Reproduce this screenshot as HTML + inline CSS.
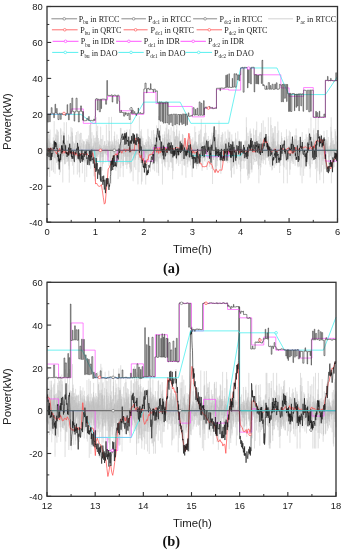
<!DOCTYPE html>
<html><head><meta charset="utf-8"><style>
html,body{margin:0;padding:0;background:#fff;width:343px;height:550px;overflow:hidden}
svg{display:block}
.tl{font-family:"Liberation Sans",Arial,sans-serif;font-size:9.4px;fill:#1a1a1a}
.xl{font-family:"Liberation Sans",Arial,sans-serif;font-size:11.4px;fill:#1a1a1a}
.yl{font-family:"Liberation Sans",Arial,sans-serif;font-size:11.5px;fill:#222}
.pl{font-family:"Liberation Serif","Times New Roman",serif;font-size:14.4px;font-weight:bold;fill:#111}
.lg{font-family:"Liberation Serif","Times New Roman",serif;font-size:8.1px;fill:#1a1a1a}
.sb{font-size:5.1px}
</style></head><body>
<svg width="343" height="550" viewBox="0 0 343 550">
<rect width="343" height="550" fill="#fff"/>
<polyline points="47,151.85 47.1,153.92 47.19,142.75 47.29,150.61 47.39,149.52 47.48,175.82 47.58,149.82 47.68,151.57 47.77,148.33 47.87,155.04 47.97,147.97 48.07,144.81 48.16,157.15 48.26,151.17 48.36,140.39 48.45,159.43 48.55,131.92 48.65,170.16 48.74,138.59 48.84,141.29 48.94,146.74 49.03,154.04 49.13,145.97 49.23,156.46 49.32,134.45 49.42,156.09 49.52,141.4 49.62,176.97 49.71,150.05 49.81,153.63 49.91,142.97 50,148.07 50.1,129.62 50.2,153.58 50.29,147.9 50.39,158.66 50.49,148.74 50.58,154.35 50.68,149.29 50.78,150.7 50.87,148.04 50.97,147.73 51.07,142.6 51.17,155.92 51.26,170.71 51.36,146.59 51.46,150.28 51.55,152.42 51.65,152.1 51.75,150.71 51.84,150.22 51.94,148.64 52.04,170.38 52.13,154.08 52.23,144.14 52.33,151.87 52.42,149.13 52.52,150.68 52.62,144.43 52.72,154.42 52.81,146.93 52.91,158.65 53.01,149.7 53.1,152.32 53.2,143.39 53.3,137.32 53.39,149.68 53.49,172.24 53.59,154.57 53.68,150.39 53.78,149.8 53.88,151.21 53.97,141.05 54.07,156.85 54.17,121.12 54.26,151.84 54.36,152.42 54.46,157.87 54.56,145.59 54.65,158.2 54.75,148.43 54.85,155.57 54.94,151.49 55.04,173.78 55.14,150.89 55.23,151.49 55.33,142.51 55.43,150.94 55.52,138.47 55.62,158.08 55.72,133.73 55.81,159.5 55.91,144.33 56.01,148.1 56.11,134.9 56.2,147.2 56.3,143.78 56.4,152.55 56.49,162.93 56.59,156.05 56.69,138.3 56.78,129.27 56.88,149.78 56.98,139.73 57.07,155.34 57.17,162.49 57.27,143 57.36,147.58 57.46,149.57 57.56,130.3 57.66,146.11 57.75,152.92 57.85,135.64 57.95,152.09 58.04,164.94 58.14,144.28 58.24,149.64 58.33,149.54 58.43,131.68 58.53,157.42 58.62,148.96 58.72,145.63 58.82,149.52 58.91,151.79 59.01,151.25 59.11,167.7 59.21,143.95 59.3,149.6 59.4,149.37 59.5,148.77 59.59,175.05 59.69,171.18 59.79,142.05 59.88,151.23 59.98,147.87 60.08,155.96 60.17,148.19 60.27,152.4 60.37,149.78 60.46,172.27 60.56,161.83 60.66,127.94 60.75,153.86 60.85,146.76 60.95,129.22 61.05,154.52 61.14,152.31 61.24,158.87 61.34,149.44 61.43,146.45 61.53,134.9 61.63,155.8 61.72,149.45 61.82,161.98 61.92,147.34 62.01,160.56 62.11,148.48 62.21,155.82 62.3,141.75 62.4,157.13 62.5,151.86 62.6,151.5 62.69,146.65 62.79,182.48 62.89,149.45 62.98,154.65 63.08,131.38 63.18,150.83 63.27,155.77 63.37,152.41 63.47,153.42 63.56,155.88 63.66,148.11 63.76,133.03 63.85,154.86 63.95,160.08 64.05,148.86 64.15,122.25 64.24,144.11 64.34,149.85 64.44,132.83 64.53,163.83 64.63,138.49 64.73,154.79 64.82,164.44 64.92,157.25 65.02,142.14 65.11,149.71 65.21,153.98 65.31,154.13 65.4,157.53 65.5,164.04 65.6,144.12 65.7,156.28 65.79,147.19 65.89,152.52 65.99,154.08 66.08,150.64 66.18,146.97 66.28,158.86 66.37,155.6 66.47,122.16 66.57,152.26 66.66,162.31 66.76,145.02 66.86,156.75 66.95,146.87 67.05,148.67 67.15,143.62 67.24,140.45 67.34,145.71 67.44,150.63 67.54,149.47 67.63,157.61 67.73,161.94 67.83,149.86 67.92,140.83 68.02,161.1 68.12,148.71 68.21,160.41 68.31,145 68.41,158.84 68.5,134.72 68.6,151.47 68.7,149.43 68.79,165.76 68.89,152.17 68.99,155.03 69.09,169.57 69.18,142.78 69.28,182.64 69.38,150.72 69.47,149.66 69.57,153.22 69.67,142.95 69.76,150.88 69.86,150.08 69.96,152.76 70.05,153.35 70.15,136.57 70.25,152.84 70.34,150.36 70.44,149.34 70.54,152.61 70.64,143.51 70.73,157.95 70.83,161.72 70.93,155.69 71.02,127.05 71.12,152.38 71.22,149.21 71.31,145.41 71.41,152.9 71.51,161.73 71.6,149.66 71.7,144.65 71.8,131.5 71.89,154.69 71.99,147.02 72.09,151.92 72.19,128.19 72.28,156.04 72.38,132.72 72.48,165.71 72.57,136.07 72.67,151.09 72.77,151.54 72.86,140.99 72.96,147.91 73.06,148.37 73.15,142.06 73.25,154.96 73.35,152.93 73.44,147.54 73.54,147.88 73.64,150.86 73.73,174.65 73.83,158.78 73.93,148.76 74.03,152.28 74.12,143.27 74.22,155.02 74.32,149.81 74.41,150.2 74.51,146.29 74.61,163.11 74.7,144.07 74.8,157.11 74.9,142.93 74.99,155.94 75.09,154.82 75.19,156.71 75.28,151.9 75.38,152.42 75.48,149.12 75.58,150.72 75.67,135.28 75.77,146.67 75.87,150.24 75.96,147.49 76.06,140.73 76.16,152.33 76.25,148.27 76.35,160.16 76.45,151.1 76.54,150.33 76.64,132.02 76.74,151.77 76.83,155.97 76.93,156.35 77.03,148.82 77.13,149.99 77.22,149.78 77.32,174.57 77.42,146.68 77.51,150.38 77.61,154.47 77.71,158.33 77.8,145.21 77.9,159.33 78,130.93 78.09,159.3 78.19,148.41 78.29,153.31 78.38,150.29 78.48,155.95 78.58,143.56 78.68,158.17 78.77,150.59 78.87,160.67 78.97,159.2 79.06,172.37 79.16,147.19 79.26,143.77 79.35,133.77 79.45,152.71 79.55,151.77 79.64,177.35 79.74,140.11 79.84,142.79 79.93,143.94 80.03,156.39 80.13,146.19 80.22,150.44 80.32,145.65 80.42,159.39 80.52,132.76 80.61,151.96 80.71,148.73 80.81,157.35 80.9,151 81,161.11 81.1,151.11 81.19,154.85 81.29,132.86 81.39,152.76 81.48,148.8 81.58,142.87 81.68,161.22 81.77,156.73 81.87,150.54 81.97,153.09 82.07,150.41 82.16,160.24 82.26,149.95 82.36,173.35 82.45,155.19 82.55,148.36 82.65,139.5 82.74,156.53 82.84,157.53 82.94,150.5 83.03,144.27 83.13,150.34 83.23,148.99 83.32,162.22 83.42,140.9 83.52,146.56 83.62,149.2 83.71,159.69 83.81,149.96 83.91,161.1 84,141.59 84.1,148.26 84.2,141.25 84.29,155.51 84.39,161.19 84.49,154.44 84.58,152.12 84.68,171.55 84.78,182.1 84.87,165.84 84.97,148.51 85.07,162.6 85.17,145.36 85.26,153.75 85.36,161.13 85.46,152.17 85.55,149.09 85.65,147.92 85.75,143.85 85.84,158.05 85.94,151.87 86.04,158.33 86.13,139.23 86.23,151.86 86.33,144.73 86.42,151.18 86.52,147.19 86.62,141.72 86.71,176.89 86.81,140.94 86.91,152.64 87.01,157.62 87.1,147.15 87.2,151.25 87.3,138.68 87.39,163.45 87.49,158.15 87.59,152.63 87.68,145.53 87.78,142 87.88,146.49 87.97,157.79 88.07,140.07 88.17,153.96 88.26,142.34 88.36,148.35 88.46,143.69 88.56,155.15 88.65,135.5 88.75,152.37 88.85,148.68 88.94,156.39 89.04,146.25 89.14,162.6 89.23,143.85 89.33,153.77 89.43,125.24 89.52,153.88 89.62,143.85 89.72,159.99 89.81,141.78 89.91,163.23 90.01,146.15 90.11,158.16 90.2,150.07 90.3,159.82 90.4,147.41 90.49,119.83 90.59,150.87 90.69,168.84 90.78,123.95 90.88,153.77 90.98,151.89 91.07,148.24 91.17,149.57 91.27,151.87 91.36,152.2 91.46,150.48 91.56,138.6 91.66,154.29 91.75,146.44 91.85,155.05 91.95,132.21 92.04,160.94 92.14,147.02 92.24,155.22 92.33,148.49 92.43,151.39 92.53,148.42 92.62,159.94 92.72,146.29 92.82,151.39 92.91,148.22 93.01,154.55 93.11,143.3 93.2,150.47 93.3,150.21 93.4,150.76 93.5,145.47 93.59,151.74 93.69,135.33 93.79,160.57 93.88,148.66 93.98,176.17 94.08,148.8 94.17,145.53 94.27,138.2 94.37,155.83 94.46,149.09 94.56,151.33 94.66,149.8 94.75,153.89 94.85,141.27 94.95,176.88 95.05,142.43 95.14,155.7 95.24,180.77 95.34,156.07 95.43,137.7 95.53,146.99 95.63,152.81 95.72,156.77 95.82,147.21 95.92,162.25 96.01,142.81 96.11,150.6 96.21,141.07 96.3,117.28 96.4,155.96 96.5,169.56 96.6,146.1 96.69,131.3 96.79,156.07 96.89,154.18 96.98,147.24 97.08,166.41 97.18,147.86 97.27,140.37 97.37,135.34 97.47,156.31 97.56,140.93 97.66,125.78 97.76,149.74 97.85,151.37 97.95,148.92 98.05,142.3 98.15,144.44 98.24,157.16 98.34,149.68 98.44,154.79 98.53,138.02 98.63,142.84 98.73,142.55 98.82,152.24 98.92,146.55 99.02,154.13 99.11,147.32 99.21,140.58 99.31,144.92 99.4,149.8 99.5,144.31 99.6,162.25 99.69,151.13 99.79,145.38 99.89,148.87 99.99,161.67 100.08,157.63 100.18,153.16 100.28,144.96 100.37,162.7 100.47,147.6 100.57,168.36 100.66,126.62 100.76,157.55 100.86,152.79 100.95,153.7 101.05,138.93 101.15,157.43 101.24,148.74 101.34,147.76 101.44,149.48 101.54,150.58 101.63,148.3 101.73,146.24 101.83,154.04 101.92,138.82 102.02,165.51 102.12,166.13 102.21,148.32 102.31,170.53 102.41,156.69 102.5,150.78 102.6,148.15 102.7,155.03 102.79,156.91 102.89,135.01 102.99,156.94 103.09,150.62 103.18,164.09 103.28,150.5 103.38,148.6 103.47,144.81 103.57,149.78 103.67,162.47 103.76,148.33 103.86,147.1 103.96,146.47 104.05,152.57 104.15,149.96 104.25,149.03 104.34,148.71 104.44,141.17 104.54,149.16 104.64,150.8 104.73,148.87 104.83,154.33 104.93,141.29 105.02,152.62 105.12,145.05 105.22,153.18 105.31,149.12 105.41,153.56 105.51,145.75 105.6,150.66 105.7,147.75 105.8,162.47 105.89,151.74 105.99,150.56 106.09,149.52 106.18,152.09 106.28,151.6 106.38,124.7 106.48,149.97 106.57,150.99 106.67,144.04 106.77,155.4 106.86,146.1 106.96,152.66 107.06,148.78 107.15,155.02 107.25,148.59 107.35,160.77 107.44,156.23 107.54,152.96 107.64,146.21 107.73,156.81 107.83,140.2 107.93,151.56 108.03,152.07 108.12,150.97 108.22,150.4 108.32,161.46 108.41,142.46 108.51,145.83 108.61,157.81 108.7,141.23 108.8,149 108.9,165.82 108.99,116.96 109.09,137.13 109.19,138.78 109.28,148.99 109.38,130.87 109.48,151.06 109.58,146.3 109.67,151.28 109.77,141.3 109.87,146.46 109.96,147.39 110.06,154.33 110.16,163.5 110.25,155.2 110.35,152.02 110.45,153.11 110.54,148.08 110.64,161.56 110.74,141.4 110.83,158.57 110.93,144.65 111.03,183.7 111.13,145.72 111.22,149.89 111.32,145.89 111.42,142.82 111.51,116.89 111.61,149.55 111.71,144.34 111.8,157.29 111.9,148.07 112,151.46 112.09,146.78 112.19,150.47 112.29,149.71 112.38,159.72 112.48,163.85 112.58,162.75 112.67,141.91 112.77,149.51 112.87,140.57 112.97,151.22 113.06,143.59 113.16,152.62 113.26,145.28 113.35,151.57 113.45,147.91 113.55,159 113.64,155.3 113.74,164.4 113.84,148.15 113.93,155.13 114.03,149.4 114.13,153.57 114.22,136 114.32,164.03 114.42,149.88 114.52,155.85 114.61,131.57 114.71,157.39 114.81,138.92 114.9,150.7 115,146.18 115.1,169.42 115.19,148.12 115.29,149.35 115.39,145.31 115.48,153.53 115.58,148.81 115.68,147.69 115.77,141.12 115.87,170.81 115.97,150.63 116.07,153.96 116.16,153.81 116.26,156.19 116.36,159.71 116.45,154.49 116.55,163.73 116.65,151.45 116.74,140.15 116.84,167.9 116.94,134.56 117.03,151.53 117.13,158.48 117.23,154.19 117.32,149.65 117.42,157.85 117.52,149.95 117.62,148.88 117.71,152.07 117.81,162.84 117.91,142.26 118,142.06 118.1,179.16 118.2,151.09 118.29,145.1 118.39,151.06 118.49,138.91 118.58,151.02 118.68,148.78 118.78,154.37 118.87,142.72 118.97,146.32 119.07,146 119.16,161.53 119.26,152.79 119.36,157.52 119.46,147.92 119.55,152.25 119.65,145.95 119.75,153.11 119.84,152.01 119.94,150.7 120.04,176.75 120.13,156.39 120.23,144.83 120.33,150.75 120.42,127.93 120.52,152.32 120.62,145.08 120.71,155.44 120.81,168.16 120.91,154.09 121.01,127.95 121.1,154.28 121.2,136.52 121.3,148.48 121.39,141.45 121.49,159.49 121.59,146.47 121.68,145.32 121.78,150.04 121.88,163.7 121.97,143.77 122.07,146.66 122.17,147.33 122.26,135.98 122.36,151.8 122.46,152.79 122.56,152.25 122.65,153.42 122.75,148.76 122.85,151.54 122.94,166.08 123.04,141.97 123.14,149.62 123.23,177.17 123.33,140.64 123.43,165.67 123.52,144.08 123.62,153.65 123.72,147.5 123.81,145.73 123.91,145.37 124.01,153.96 124.11,140.52 124.2,156.35 124.3,151.96 124.4,152.9 124.49,149.08 124.59,145.68 124.69,130.51 124.78,157.03 124.88,148.23 124.98,152.78 125.07,148.02 125.17,150.12 125.27,135.99 125.36,164.8 125.46,146.4 125.56,152.29 125.65,148.32 125.75,156.4 125.85,147.79 125.95,160.78 126.04,141.26 126.14,162.39 126.24,141.39 126.33,146.91 126.43,148.99 126.53,150.41 126.62,139.1 126.72,155.42 126.82,168.87 126.91,138.24 127.01,129.6 127.11,164.79 127.2,149.96 127.3,151.59 127.4,146.56 127.5,156.74 127.59,136.13 127.69,152.52 127.79,150.31 127.88,163.63 127.98,145.54 128.08,149.13 128.17,140.89 128.27,148.93 128.37,152.71 128.46,152.78 128.56,142.48 128.66,156.5 128.75,141.3 128.85,163.56 128.95,143.33 129.05,146.73 129.14,157.32 129.24,164.09 129.34,147.55 129.43,145.53 129.53,129.31 129.63,167.47 129.72,145.77 129.82,156.64 129.92,147.85 130.01,154.78 130.11,173.3 130.21,161.47 130.3,148.41 130.4,169.49 130.5,143.89 130.6,153.49 130.69,118.81 130.79,152.64 130.89,149.8 130.98,150.36 131.08,155.48 131.18,172.16 131.27,136.77 131.37,151.19 131.47,171.21 131.56,161.79 131.66,142.35 131.76,157.95 131.85,148.44 131.95,155.51 132.05,150.34 132.14,150.54 132.24,138.22 132.34,150.08 132.44,138.94 132.53,154.61 132.63,142.41 132.73,148.7 132.82,148.01 132.92,151.08 133.02,143.91 133.11,181.24 133.21,141.98 133.31,134.04 133.4,151.81 133.5,154.18 133.6,149.14 133.69,157.39 133.79,160.29 133.89,152.56 133.99,143.66 134.08,151.3 134.18,147.05 134.28,150.87 134.37,144.95 134.47,167.31 134.57,143.19 134.66,151.11 134.76,149.82 134.86,158.33 134.95,136.84 135.05,152.17 135.15,151.6 135.24,151.13 135.34,159.76 135.44,155.99 135.54,149.62 135.63,158.23 135.73,149.2 135.83,169.84 135.92,148.52 136.02,154.73 136.12,144.94 136.21,155.44 136.31,150.07 136.41,152.8 136.5,147.12 136.6,141.31 136.7,148.11 136.79,154.23 136.89,144.38 136.99,145.54 137.09,142.42 137.18,147.39 137.28,134.7 137.38,154.42 137.47,143.06 137.57,142.17 137.67,137.42 137.76,156.68 137.86,156.53 137.96,184.38 138.05,163.04 138.15,144.48 138.25,145.6 138.34,154.96 138.44,141.29 138.54,153.22 138.63,142.66 138.73,160.12 138.83,139.79 138.93,152.34 139.02,133.96 139.12,172.23 139.22,134.83 139.31,151.73 139.41,116.19 139.51,152.58 139.6,149.11 139.7,147.7 139.8,157.51 139.89,152.73 139.99,157.52 140.09,154.38 140.18,138.12 140.28,157.74 140.38,163.07 140.48,152.24 140.57,149.24 140.67,155.92 140.77,131.21 140.86,161.16 140.96,135.59 141.06,150.88 141.15,143.14 141.25,153.85 141.35,129.29 141.44,184.46 141.54,149.21 141.64,150.45 141.73,159.46 141.83,158.08 141.93,136.44 142.03,155.85 142.12,181.57 142.22,150.34 142.32,150.03 142.41,157.49 142.51,143.73 142.61,155.65 142.7,141.03 142.8,155.17 142.9,138.06 142.99,154.13 143.09,146.92 143.19,154.24 143.28,143.76 143.38,152.83 143.48,146.95 143.58,147.21 143.67,145.28 143.77,168.36 143.87,145.3 143.96,151.82 144.06,160.25 144.16,172.09 144.25,144.99 144.35,159.5 144.45,145.04 144.54,151.12 144.64,151.3 144.74,158.32 144.83,145.92 144.93,152.44 145.03,150.01 145.12,156.83 145.22,148.77 145.32,142.44 145.42,152.96 145.51,151.6 145.61,147.77 145.71,184.52 145.8,148.49 145.9,152.76 146,142.04 146.09,163.42 146.19,146.03 146.29,139.36 146.38,146.01 146.48,147.04 146.58,144.03 146.67,154.34 146.77,150.95 146.87,153.13 146.97,149.15 147.06,152.47 147.16,145.89 147.26,146.88 147.35,158.38 147.45,167.5 147.55,143.11 147.64,141.41 147.74,142.7 147.84,146.36 147.93,128.89 148.03,160.69 148.13,148.87 148.22,151.65 148.32,149.89 148.42,157.98 148.52,136.31 148.61,150.31 148.71,141.73 148.81,162.45 148.9,150.65 149,148.29 149.1,149.69 149.19,155.7 149.29,146.18 149.39,144.71 149.48,148.95 149.58,151.17 149.68,137.05 149.77,149.99 149.87,148.94 149.97,151.27 150.07,150.29 150.16,155.21 150.26,146.48 150.36,155.64 150.45,171.62 150.55,138.92 150.65,145.97 150.74,150.39 150.84,147.76 150.94,162.45 151.03,145.31 151.13,155.53 151.23,152.51 151.32,154.56 151.42,149.87 151.52,151.95 151.61,141.91 151.71,147.08 151.81,130.57 151.91,142.93 152,145.51 152.1,144.32 152.2,149.13 152.29,152.72 152.39,147.17 152.49,154.05 152.58,164.58 152.68,150.68 152.78,147.39 152.87,144.09 152.97,148.47 153.07,169.49 153.16,146.19 153.26,161.92 153.36,146.14 153.46,159.32 153.55,129.94 153.65,154.99 153.75,146.93 153.84,156.27 153.94,144.55 154.04,152.98 154.13,136.94 154.23,161.49 154.33,153.79 154.42,151.58 154.52,147.21 154.62,171.23 154.71,134.27 154.81,155.35 154.91,153.95 155.01,158.33 155.1,161.12 155.2,150.87 155.3,161.54 155.39,155.71 155.49,142.57 155.59,151.96 155.68,149.61 155.78,153.04 155.88,145.29 155.97,159.68 156.07,160.39 156.17,155.44 156.26,137.56 156.36,161.37 156.46,148.28 156.56,150.08 156.65,125.4 156.75,172.52 156.85,130.83 156.94,160.39 157.04,163.7 157.14,153.48 157.23,131.25 157.33,157.68 157.43,137.64 157.52,161.54 157.62,149.31 157.72,151.57 157.81,137.81 157.91,154.93 158.01,141.62 158.1,154.62 158.2,138.03 158.3,150.52 158.4,173.02 158.49,156.78 158.59,163.81 158.69,175.87 158.78,116.08 158.88,152.49 158.98,148.98 159.07,158.61 159.17,141.49 159.27,150.8 159.36,150.25 159.46,147.47 159.56,141.75 159.65,149.9 159.75,136.91 159.85,154.03 159.95,141.36 160.04,157.85 160.14,146.49 160.24,153.4 160.33,146.09 160.43,156.22 160.53,125.16 160.62,129.66 160.72,145.72 160.82,152.33 160.91,149.8 161.01,152.84 161.11,158.81 161.2,150.65 161.3,154.36 161.4,151.4 161.5,147.1 161.59,152.92 161.69,157.18 161.79,152.72 161.88,163.75 161.98,151.33 162.08,149.73 162.17,152.52 162.27,149.45 162.37,142.22 162.46,184.52 162.56,153.03 162.66,138.1 162.75,148.85 162.85,134.42 162.95,158.76 163.05,157.34 163.14,146.65 163.24,146.25 163.34,159.58 163.43,144.1 163.53,152.38 163.63,142.75 163.72,152.47 163.82,138.31 163.92,162.47 164.01,146.62 164.11,159.07 164.21,153.02 164.3,161.39 164.4,139.47 164.5,165.76 164.59,134.53 164.69,160.93 164.79,131.37 164.89,150.8 164.98,137.07 165.08,148.93 165.18,167.43 165.27,158.18 165.37,159.47 165.47,156.7 165.56,151.41 165.66,160.69 165.76,162.15 165.85,159.99 165.95,151.42 166.05,141.12 166.14,127.64 166.24,155.56 166.34,149.8 166.44,148.56 166.53,146.33 166.63,150.08 166.73,139.39 166.82,152.16 166.92,124.24 167.02,155.16 167.11,134.31 167.21,162.14 167.31,148.59 167.4,148.56 167.5,139.31 167.6,154.44 167.69,152.96 167.79,151.3 167.89,144.45 167.99,152.83 168.08,170.34 168.18,154.19 168.28,132.75 168.37,150.84 168.47,143.47 168.57,153.71 168.66,128.98 168.76,150.68 168.86,129.9 168.95,154.8 169.05,149.63 169.15,167.22 169.24,148.89 169.34,144.28 169.44,143.18 169.54,152.78 169.63,138.9 169.73,148.85 169.83,149.34 169.92,152 170.02,146.09 170.12,147.23 170.21,135.36 170.31,156.32 170.41,150.43 170.5,154.59 170.6,149.24 170.7,162.32 170.79,141.26 170.89,161.84 170.99,156.58 171.08,127.34 171.18,145.74 171.28,155.24 171.38,155.82 171.47,150.9 171.57,157.89 171.67,162.65 171.76,149.9 171.86,158.17 171.96,147.55 172.05,168 172.15,150.49 172.25,152.73 172.34,147.95 172.44,154.97 172.54,148.33 172.63,179.32 172.73,151.66 172.83,150.63 172.93,146.07 173.02,130.84 173.12,146.82 173.22,171.06 173.31,149.14 173.41,154.43 173.51,148.97 173.6,153.52 173.7,147.14 173.8,125.74 173.89,147.52 173.99,148.91 174.09,143.84 174.18,151.77 174.28,149.97 174.38,156.59 174.48,131.86 174.57,155.46 174.67,139.03 174.77,156.37 174.86,139.76 174.96,155.71 175.06,136.8 175.15,154.16 175.25,149.22 175.35,157.59 175.44,139.81 175.54,154.49 175.64,136.19 175.73,157.93 175.83,135.74 175.93,151.21 176.03,148.91 176.12,156.49 176.22,152.68 176.32,164.1 176.41,141.21 176.51,129.41 176.61,144.6 176.7,157.35 176.8,116.08 176.9,162.75 176.99,146.65 177.09,160.24 177.19,136.61 177.28,143.29 177.38,144.13 177.48,151.2 177.57,140.31 177.67,150.62 177.77,135.91 177.87,154.12 177.96,148.61 178.06,144.11 178.16,142.86 178.25,143.05 178.35,137.32 178.45,147.24 178.54,149.64 178.64,166.02 178.74,150.75 178.83,156.4 178.93,149.12 179.03,155.77 179.12,133.74 179.22,148.49 179.32,130.66 179.42,152.21 179.51,147.61 179.61,149.52 179.71,144.95 179.8,144.76 179.9,152.08 180,154.38 180.09,144.97 180.19,163.87 180.29,140.06 180.38,152.21 180.48,148.91 180.58,143.41 180.67,149.37 180.77,149.12 180.87,141.38 180.97,148.84 181.06,146.56 181.16,154.47 181.26,147.02 181.35,139.7 181.45,156.88 181.55,161.15 181.64,149.01 181.74,152.49 181.84,157.56 181.93,150.35 182.03,153.03 182.13,175.28 182.22,146.67 182.32,152.93 182.42,133.91 182.52,160.88 182.61,134.2 182.71,142.72 182.81,149.8 182.9,157.96 183,149.63 183.1,135 183.19,146.86 183.29,152.64 183.39,150.08 183.48,150.31 183.58,145.16 183.68,160.42 183.77,146 183.87,165.21 183.97,145.54 184.06,152.69 184.16,142.47 184.26,152.79 184.36,146.16 184.45,152.61 184.55,145.87 184.65,165.96 184.74,155.05 184.84,152.55 184.94,164.86 185.03,155.78 185.13,148.5 185.23,156.16 185.32,141.34 185.42,146.51 185.52,139.25 185.61,159.39 185.71,151.81 185.81,146.75 185.91,177.82 186,157.12 186.1,147.04 186.2,147.79 186.29,151.36 186.39,155.35 186.49,150.48 186.58,154.5 186.68,156.47 186.78,156.36 186.87,159.9 186.97,151.14 187.07,144.27 187.16,140.71 187.26,163.83 187.36,152.72 187.46,139.57 187.55,153.34 187.65,150.36 187.75,167.27 187.84,142.17 187.94,162.19 188.04,150.61 188.13,152.83 188.23,140.52 188.33,159.55 188.42,138.56 188.52,155.71 188.62,142.01 188.71,152.43 188.81,147.16 188.91,160.49 189.01,154.15 189.1,157.45 189.2,141.52 189.3,160.63 189.39,142.52 189.49,154.71 189.59,149.62 189.68,133.57 189.78,147.53 189.88,148.33 189.97,147.68 190.07,161.79 190.17,135.95 190.26,152.4 190.36,147.92 190.46,165.4 190.55,145.63 190.65,152.09 190.75,149.5 190.85,156.44 190.94,147.13 191.04,159.4 191.14,149.21 191.23,153.78 191.33,144.54 191.43,156.11 191.52,146.99 191.62,150.42 191.72,139.19 191.81,154.46 191.91,146.19 192.01,151.2 192.1,144.83 192.2,177.09 192.3,146.95 192.4,168.83 192.49,151.8 192.59,152.56 192.69,154.39 192.78,161.78 192.88,137.33 192.98,154.6 193.07,144.71 193.17,149 193.27,164.09 193.36,152.46 193.46,162.82 193.56,150.29 193.65,145.35 193.75,164.81 193.85,144.13 193.95,162.86 194.04,146.48 194.14,146.31 194.24,143.23 194.33,156.21 194.43,147.65 194.53,153.21 194.62,141.48 194.72,148.97 194.82,126.38 194.91,157.94 195.01,152.37 195.11,160.07 195.2,147.5 195.3,142.65 195.4,141.2 195.49,152.33 195.59,145.56 195.69,132.01 195.79,157.4 195.88,165.63 195.98,149.19 196.08,153.45 196.17,142.35 196.27,161.36 196.37,145.15 196.46,166.34 196.56,157.74 196.66,169.1 196.75,141.85 196.85,147.8 196.95,146.29 197.04,158.14 197.14,146.41 197.24,151.48 197.34,144.61 197.43,163.22 197.53,152.5 197.63,146.82 197.72,154.7 197.82,148.83 197.92,147.94 198.01,152.21 198.11,163.89 198.21,166.42 198.3,144.29 198.4,150.44 198.5,149.51 198.59,134.9 198.69,154.23 198.79,155.9 198.89,154.39 198.98,152.12 199.08,130.84 199.18,164.16 199.27,162.58 199.37,150.33 199.47,133.89 199.56,136.11 199.66,149.12 199.76,154.36 199.85,149.63 199.95,148.84 200.05,146.09 200.14,152.01 200.24,150.04 200.34,142.86 200.44,144.46 200.53,157.27 200.63,129.5 200.73,155.99 200.82,147.31 200.92,161.29 201.02,145.52 201.11,144.32 201.21,149.02 201.31,119.04 201.4,141.57 201.5,154.27 201.6,145.27 201.69,150.83 201.79,145.93 201.89,158.26 201.98,142.32 202.08,170.88 202.18,146.48 202.28,155.72 202.37,154.08 202.47,158.34 202.57,149.9 202.66,148.5 202.76,160.71 202.86,164.84 202.95,152.3 203.05,141.46 203.15,144.93 203.24,153.58 203.34,152.58 203.44,155.3 203.53,148.68 203.63,150.51 203.73,136.55 203.83,158.2 203.92,147.46 204.02,151.31 204.12,137.37 204.21,156.39 204.31,149.82 204.41,161.07 204.5,133.19 204.6,154.99 204.7,142.29 204.79,156.4 204.89,143.56 204.99,161.77 205.08,144.67 205.18,159.74 205.28,158.82 205.38,127.17 205.47,124.58 205.57,150.9 205.67,149.91 205.76,152.05 205.86,148.81 205.96,154.14 206.05,132.69 206.15,151.27 206.25,151.09 206.34,152.99 206.44,149.59 206.54,150.62 206.63,139.14 206.73,153.83 206.83,143.03 206.93,152.41 207.02,149.99 207.12,170.01 207.22,149.71 207.31,152.7 207.41,139.23 207.51,153.37 207.6,146.03 207.7,146.58 207.8,145.89 207.89,158.79 207.99,147.05 208.09,150.12 208.18,150.25 208.28,154.21 208.38,135.97 208.47,147.8 208.57,148.66 208.67,153.88 208.77,145.56 208.86,160.62 208.96,145.54 209.06,157.84 209.15,155 209.25,146.37 209.35,149.87 209.44,166.93 209.54,149.65 209.64,141.66 209.73,139.85 209.83,151.31 209.93,145.75 210.02,152.35 210.12,148.92 210.22,164.11 210.32,162.05 210.41,149.55 210.51,139.37 210.61,154.08 210.7,150.18 210.8,159.76 210.9,143.39 210.99,160.05 211.09,143.68 211.19,151.34 211.28,147.47 211.38,168.83 211.48,146.64 211.57,150.46 211.67,149.6 211.77,157.08 211.87,149.19 211.96,132.67 212.06,150.44 212.16,148.54 212.25,149.4 212.35,141.63 212.45,149.58 212.54,184.01 212.64,148.08 212.74,136.29 212.83,144.43 212.93,147.19 213.03,149.17 213.12,152.91 213.22,135.03 213.32,151.45 213.42,150.13 213.51,159.8 213.61,133.03 213.71,160.04 213.8,141.25 213.9,156.17 214,147.41 214.09,150.84 214.19,133.78 214.29,154.09 214.38,140.12 214.48,145.59 214.58,150.05 214.67,144.78 214.77,156.8 214.87,141.58 214.96,147.53 215.06,156.46 215.16,171.1 215.26,155.28 215.35,139.98 215.45,129.72 215.55,166.74 215.64,152.98 215.74,155.22 215.84,158.66 215.93,172.06 216.03,149.02 216.13,130.07 216.22,156.63 216.32,157.29 216.42,170.79 216.51,155.13 216.61,155.04 216.71,154.61 216.81,158.59 216.9,147.43 217,148.99 217.1,139.06 217.19,165.85 217.29,144.05 217.39,161.09 217.48,141.17 217.58,151.42 217.68,145.83 217.77,158.02 217.87,134.23 217.97,156.59 218.06,137.61 218.16,142.86 218.26,145.47 218.36,150.66 218.45,148.68 218.55,150.73 218.65,145.43 218.74,151.24 218.84,133.94 218.94,152.43 219.03,120.61 219.13,152.9 219.23,151.15 219.32,149.3 219.42,146.7 219.52,159.81 219.61,157.36 219.71,152.24 219.81,148.61 219.91,150.61 220,148.2 220.1,152.17 220.2,149.05 220.29,143.84 220.39,142.17 220.49,168.31 220.58,148.85 220.68,161.85 220.78,144.09 220.87,173.8 220.97,151.29 221.07,137.14 221.16,140.14 221.26,148.36 221.36,134.95 221.45,153.27 221.55,145.44 221.65,151.94 221.75,158.49 221.84,160.72 221.94,148.48 222.04,157.35 222.13,148.14 222.23,161.26 222.33,132.11 222.42,138.25 222.52,149.98 222.62,152.53 222.71,144.07 222.81,153.54 222.91,133.71 223,152.21 223.1,146.45 223.2,150.65 223.3,145.29 223.39,154.42 223.49,148.83 223.59,162.38 223.68,152.08 223.78,142.43 223.88,144.06 223.97,150.56 224.07,148.07 224.17,159.53 224.26,149.54 224.36,150.94 224.46,146.7 224.55,152.21 224.65,140.63 224.75,157.4 224.85,146.37 224.94,143.88 225.04,148.08 225.14,131.55 225.23,139.31 225.33,160.86 225.43,147.47 225.52,146.73 225.62,157.26 225.72,152.88 225.81,149.82 225.91,147 226.01,145.59 226.1,161.52 226.2,138.64 226.3,160.29 226.4,145.95 226.49,161.61 226.59,138.63 226.69,154.82 226.78,154.76 226.88,151.51 226.98,155.39 227.07,145.85 227.17,147.67 227.27,150.14 227.36,146.98 227.46,149.99 227.56,145.32 227.65,163.1 227.75,140.72 227.85,152 227.94,129.65 228.04,148.91 228.14,158.21 228.24,154.93 228.33,153.98 228.43,161.19 228.53,148.27 228.62,153.39 228.72,150.23 228.82,153.93 228.91,137.7 229.01,142.02 229.11,131.6 229.2,151.32 229.3,144.47 229.4,141.43 229.49,137.71 229.59,154.12 229.69,143.04 229.79,155.39 229.88,131.92 229.98,151.24 230.08,162.77 230.17,152.08 230.27,149.46 230.37,154.07 230.46,148.46 230.56,170.51 230.66,149.25 230.75,154.99 230.85,150.4 230.95,152.78 231.04,149.45 231.14,161.93 231.24,139.43 231.34,176.98 231.43,149.93 231.53,177.89 231.63,170.89 231.72,152.56 231.82,134.4 231.92,151.32 232.01,146.91 232.11,153.63 232.21,140.69 232.3,153.07 232.4,150.03 232.5,151.9 232.59,167.78 232.69,144.73 232.79,147.47 232.89,152.01 232.98,146.43 233.08,151.51 233.18,161.35 233.27,165.97 233.37,144.05 233.47,151.75 233.56,142.39 233.66,166.39 233.76,156.95 233.85,158.58 233.95,144.32 234.05,174.25 234.14,144.65 234.24,150.13 234.34,145.11 234.43,146.96 234.53,149.76 234.63,152.22 234.73,150.99 234.82,160.8 234.92,140.79 235.02,162.16 235.11,150.19 235.21,164.34 235.31,150.09 235.4,151.88 235.5,132.78 235.6,145.71 235.69,145.13 235.79,152.82 235.89,138.41 235.98,156.56 236.08,139.39 236.18,150.54 236.28,144.91 236.37,165.57 236.47,146.09 236.57,145.54 236.66,144.87 236.76,152.86 236.86,169.09 236.95,165.53 237.05,153.06 237.15,151.99 237.24,147.87 237.34,155.19 237.44,147.4 237.53,151.06 237.63,148.22 237.73,159.02 237.83,131.3 237.92,141.48 238.02,149.26 238.12,149.77 238.21,150.91 238.31,152.42 238.41,149.75 238.5,157.4 238.6,163.57 238.7,161.62 238.79,149.92 238.89,150.97 238.99,164.82 239.08,141 239.18,150.22 239.28,150.41 239.38,139.52 239.47,160.14 239.57,147.62 239.67,152.29 239.76,146.93 239.86,159 239.96,149.38 240.05,151.86 240.15,149.42 240.25,167.15 240.34,156.85 240.44,171.38 240.54,154.88 240.63,183.3 240.73,150.33 240.83,154.15 240.92,149.02 241.02,151.31 241.12,142.76 241.22,161.51 241.31,146.11 241.41,160.85 241.51,146.94 241.6,159.48 241.7,163.26 241.8,169.1 241.89,148.53 241.99,154.09 242.09,149.58 242.18,155.28 242.28,152.18 242.38,153.08 242.47,153.64 242.57,155.32 242.67,148.27 242.77,151.75 242.86,160.61 242.96,153.6 243.06,154.81 243.15,154.16 243.25,161.03 243.35,151.15 243.44,154.18 243.54,158.18 243.64,149.36 243.73,155.14 243.83,153.65 243.93,168.59 244.02,150.29 244.12,154.26 244.22,149.02 244.32,145.15 244.41,161.52 244.51,153.63 244.61,141.37 244.7,152.79 244.8,146.92 244.9,150.88 244.99,149.05 245.09,151.28 245.19,147.23 245.28,139.8 245.38,148.86 245.48,142.4 245.57,141.59 245.67,160.91 245.77,150.25 245.87,152.08 245.96,141.06 246.06,159.07 246.16,149.37 246.25,155.56 246.35,117.3 246.45,148.26 246.54,127.28 246.64,151.77 246.74,169.37 246.83,149.7 246.93,141.47 247.03,154.19 247.12,140.87 247.22,141.51 247.32,145.33 247.41,156.55 247.51,175.63 247.61,156.46 247.71,145.72 247.8,152.61 247.9,132.74 248,151.35 248.09,179.76 248.19,152.68 248.29,136.13 248.38,150.54 248.48,149.22 248.58,152.44 248.67,173.97 248.77,156.46 248.87,173.09 248.96,152.62 249.06,143.33 249.16,178.12 249.26,158.53 249.35,147.89 249.45,146.6 249.55,148.07 249.64,143.49 249.74,174.28 249.84,160.68 249.93,158 250.03,130.79 250.13,151.3 250.22,128.53 250.32,162.95 250.42,151.99 250.51,154.67 250.61,156.17 250.71,153.43 250.81,133.92 250.9,153.52 251,145.8 251.1,170.01 251.19,148.4 251.29,133.32 251.39,168.99 251.48,151.63 251.58,144.85 251.68,152.07 251.77,148.96 251.87,172.48 251.97,147.12 252.06,169.7 252.16,154.62 252.26,151.6 252.36,148.53 252.45,155.36 252.55,155.18 252.65,149.54 252.74,149.19 252.84,151.86 252.94,142.27 253.03,150.34 253.13,153.69 253.23,159.15 253.32,141.81 253.42,140.2 253.52,128.57 253.61,164.77 253.71,148.34 253.81,153.08 253.9,143.44 254,134.85 254.1,146.28 254.2,148.07 254.29,146.38 254.39,150.73 254.49,160.18 254.58,158.76 254.68,161.94 254.78,147.72 254.87,140.79 254.97,145.78 255.07,146.2 255.16,152.54 255.26,148.91 255.36,157.09 255.45,130.3 255.55,150.73 255.65,144.58 255.75,161.88 255.84,139.49 255.94,156.05 256.04,146.04 256.13,152.31 256.23,129.95 256.33,151.73 256.42,138.35 256.52,161.01 256.62,149.67 256.71,121.63 256.81,160.46 256.91,161.25 257,154.12 257.1,157.77 257.2,149.71 257.3,146.49 257.39,143.8 257.49,151.81 257.59,146.23 257.68,151.78 257.78,164.57 257.88,157.23 257.97,154.62 258.07,153.17 258.17,136.14 258.26,156.86 258.36,158.92 258.46,167.04 258.55,169.29 258.65,155.01 258.75,140.02 258.85,183.3 258.94,142.95 259.04,153.66 259.14,151.93 259.23,165.79 259.33,148.6 259.43,158.81 259.52,144.91 259.62,133.56 259.72,140.02 259.81,157.01 259.91,148.75 260.01,154.7 260.1,131.92 260.2,165.03 260.3,164.03 260.39,175.29 260.49,138.11 260.59,147.18 260.69,148.65 260.78,154.76 260.88,149.02 260.98,167.39 261.07,132.35 261.17,159.93 261.27,154.3 261.36,160.33 261.46,140.37 261.56,123.05 261.65,151.48 261.75,162.84 261.85,143.96 261.94,142.29 262.04,139.71 262.14,160.64 262.24,148.86 262.33,150.59 262.43,149.85 262.53,155.97 262.62,142.66 262.72,154.65 262.82,153.83 262.91,148.96 263.01,147.19 263.11,159.12 263.2,120.48 263.3,163.77 263.4,156.45 263.49,154.19 263.59,137.32 263.69,155.65 263.79,149.76 263.88,159.81 263.98,151.01 264.08,144.27 264.17,146.25 264.27,152.22 264.37,138.33 264.46,149.92 264.56,152.18 264.66,160.19 264.75,140.94 264.85,152.57 264.95,144.78 265.04,154.62 265.14,126.92 265.24,150.84 265.34,156.22 265.43,154.07 265.53,138 265.63,164.61 265.72,142.06 265.82,158.2 265.92,141.56 266.01,151.07 266.11,149.9 266.21,143.94 266.3,148.72 266.4,157.67 266.5,137.19 266.59,154.41 266.69,147.75 266.79,151.32 266.88,152.98 266.98,136.33 267.08,146.68 267.18,146.14 267.27,147.08 267.37,140.39 267.47,157.72 267.56,142.5 267.66,150.35 267.76,151.57 267.85,149.42 267.95,152.29 268.05,157.81 268.14,139.26 268.24,152.01 268.34,117.3 268.43,142.31 268.53,151.52 268.63,160.8 268.73,136.08 268.82,147.57 268.92,149.64 269.02,142.58 269.11,159.24 269.21,145.46 269.31,156.03 269.4,148.67 269.5,150.51 269.6,142.77 269.69,151.99 269.79,164.57 269.89,156.79 269.98,157.36 270.08,150.48 270.18,146.51 270.28,166.73 270.37,149.21 270.47,147.15 270.57,149.94 270.66,131.84 270.76,117.3 270.86,144.51 270.95,154.36 271.05,145.67 271.15,130.04 271.24,124.94 271.34,141.89 271.44,151.38 271.53,149.97 271.63,150.87 271.73,141.75 271.83,166.02 271.92,170.43 272.02,152.57 272.12,136.41 272.21,162.39 272.31,169.51 272.41,168.96 272.5,143.59 272.6,152.89 272.7,127.98 272.79,153.04 272.89,150.66 272.99,133.36 273.08,148.61 273.18,153.22 273.28,140.73 273.37,152.25 273.47,132.62 273.57,156.45 273.67,139.04 273.76,156.19 273.86,152.1 273.96,137.74 274.05,147.85 274.15,163.83 274.25,167.99 274.34,153.21 274.44,126.26 274.54,157.54 274.63,154.9 274.73,153.01 274.83,141.41 274.92,152.75 275.02,148.59 275.12,147.33 275.22,141.34 275.31,150.62 275.41,163.69 275.51,126.36 275.6,155.23 275.7,162.95 275.8,146.95 275.89,164.23 275.99,146.67 276.09,165.48 276.18,145.17 276.28,154.69 276.38,146.43 276.47,150.33 276.57,149.05 276.67,150.84 276.77,149.98 276.86,156.51 276.96,149.57 277.06,158.48 277.15,147.17 277.25,133.04 277.35,149.64 277.44,153.37 277.54,141.49 277.64,163.31 277.73,150.22 277.83,121.64 277.93,148.38 278.02,160.63 278.12,143.83 278.22,162.73 278.32,156.28 278.41,144.3 278.51,148.35 278.61,151.1 278.7,130.4 278.8,162.23 278.9,155.31 278.99,148.65 279.09,145.42 279.19,158.41 279.28,146.09 279.38,144.33 279.48,145.47 279.57,161.25 279.67,172.98 279.77,150.95 279.86,148.51 279.96,148.52 280.06,148.28 280.16,161.65 280.25,148.71 280.35,150.36 280.45,156.87 280.54,141.79 280.64,165.93 280.74,158.85 280.83,145.27 280.93,152.41 281.03,151.59 281.12,151.34 281.22,149.54 281.32,156.19 281.41,132.33 281.51,157.26 281.61,138.79 281.71,136.16 281.8,144.78 281.9,152.28 282,138.09 282.09,150.97 282.19,145.42 282.29,149.15 282.38,145.65 282.48,152.76 282.58,143.53 282.67,154.05 282.77,148.6 282.87,155.81 282.96,147.97 283.06,156.49 283.16,150.5 283.26,165.34 283.35,149.98 283.45,142.81 283.55,150.39 283.64,183.3 283.74,147.17 283.84,158.85 283.93,148.84 284.03,154.57 284.13,149.06 284.22,167.33 284.32,147.12 284.42,153.26 284.51,142.62 284.61,151.24 284.71,137.06 284.81,152.96 284.9,149.15 285,151.48 285.1,141 285.19,148.61 285.29,150 285.39,146.31 285.48,147.5 285.58,153.78 285.68,148.46 285.77,156.83 285.87,150.46 285.97,149.67 286.06,158.55 286.16,169.61 286.26,152.71 286.35,151.13 286.45,129.37 286.55,151.61 286.65,149.94 286.74,135.81 286.84,143.61 286.94,144.95 287.03,146.81 287.13,154.13 287.23,138.76 287.32,183.3 287.42,153.47 287.52,148.63 287.61,161.72 287.71,157.09 287.81,149.43 287.9,152.25 288,152.22 288.1,161.53 288.2,147.89 288.29,145.75 288.39,145.85 288.49,153.14 288.58,147.43 288.68,157.19 288.78,144.73 288.87,135.73 288.97,140.66 289.07,150.8 289.16,149.71 289.26,158.47 289.36,130.64 289.45,154.08 289.55,147.72 289.65,156.26 289.75,174.89 289.84,146.04 289.94,147.76 290.04,151.79 290.13,153.72 290.23,169.63 290.33,155.14 290.42,131.93 290.52,138.83 290.62,150.71 290.71,142.81 290.81,156.97 290.91,141.96 291,163.15 291.1,139.29 291.2,152.22 291.3,144.33 291.39,158.39 291.49,154.27 291.59,160.84 291.68,147.55 291.78,155.35 291.88,144.72 291.97,147.18 292.07,159.5 292.17,146 292.26,155.95 292.36,151.99 292.46,158.16 292.55,157.05 292.65,161.73 292.75,150.57 292.84,148.02 292.94,164.05 293.04,144.24 293.14,153.15 293.23,141.49 293.33,152.41 293.43,153.7 293.52,157.22 293.62,145.15 293.72,150.05 293.81,163.84 293.91,152.84 294.01,148.08 294.1,144.63 294.2,138.39 294.3,156.19 294.39,139.1 294.49,158.57 294.59,154.84 294.69,135.33 294.78,155.72 294.88,150.72 294.98,149.32 295.07,151.16 295.17,165.67 295.27,151.83 295.36,151.1 295.46,141.91 295.56,139.22 295.65,156.35 295.75,139.15 295.85,156.49 295.94,135.09 296.04,146.64 296.14,128.5 296.24,149.38 296.33,149.82 296.43,153.35 296.53,139.33 296.62,153.41 296.72,135.69 296.82,149.44 296.91,149.89 297.01,146.94 297.11,141.25 297.2,144.9 297.3,150.18 297.4,154.34 297.49,152.72 297.59,165.64 297.69,160.71 297.79,152.03 297.88,167.27 297.98,150.97 298.08,140.5 298.17,151.13 298.27,140.38 298.37,149.91 298.46,155.03 298.56,144 298.66,149.19 298.75,157.35 298.85,148.17 298.95,166.97 299.04,152.51 299.14,145.81 299.24,144.24 299.33,166.22 299.43,149.36 299.53,155.53 299.63,153.49 299.72,151.36 299.82,146.89 299.92,154.13 300.01,140.12 300.11,140.23 300.21,148.31 300.3,175.54 300.4,149.73 300.5,154.34 300.59,151.91 300.69,154.17 300.79,145.7 300.88,155.56 300.98,148.32 301.08,149.61 301.18,167.39 301.27,145.99 301.37,147.71 301.47,140.13 301.56,146.47 301.66,158.36 301.76,151.08 301.85,149.55 301.95,146.12 302.05,183.3 302.14,136.54 302.24,132.06 302.34,146.98 302.43,150.69 302.53,148.77 302.63,153.04 302.73,144.76 302.82,150.8 302.92,150.22 303.02,152.2 303.11,147.95 303.21,140.22 303.31,150.13 303.4,146.14 303.5,160.8 303.6,175.9 303.69,149.74 303.79,151.46 303.89,158.38 303.98,156 304.08,147.73 304.18,150.54 304.28,151.73 304.37,149.98 304.47,147.83 304.57,145.27 304.66,147.65 304.76,168.47 304.86,142.07 304.95,152.13 305.05,138.95 305.15,143.34 305.24,155.83 305.34,162.07 305.44,148.92 305.53,161.03 305.63,157.21 305.73,154.54 305.82,145.99 305.92,162.36 306.02,147.43 306.12,139.88 306.21,134.19 306.31,151.71 306.41,143.2 306.5,159.43 306.6,152.72 306.7,144.35 306.79,163.27 306.89,161.62 306.99,159.36 307.08,151.76 307.18,137.09 307.28,147.7 307.37,155.1 307.47,152.8 307.57,143.81 307.67,159.33 307.76,148.96 307.86,145.07 307.96,139.6 308.05,164.21 308.15,148.92 308.25,152.89 308.34,151.99 308.44,149.72 308.54,142.55 308.63,150.81 308.73,152.76 308.83,128.32 308.92,135.86 309.02,151.26 309.12,147.84 309.22,152.17 309.31,150.44 309.41,165.93 309.51,134.61 309.6,155.87 309.7,151.96 309.8,150.5 309.89,168.98 309.99,140.73 310.09,147.56 310.18,177.4 310.28,147.18 310.38,142.18 310.47,149.11 310.57,167.53 310.67,161.73 310.77,157.73 310.86,148.17 310.96,117.45 311.06,147.36 311.15,144.11 311.25,147.34 311.35,155.05 311.44,155.16 311.54,159.42 311.64,149.61 311.73,150.3 311.83,155.6 311.93,151.25 312.02,164.06 312.12,164.13 312.22,155.55 312.31,160.61 312.41,143.8 312.51,142.44 312.61,149.07 312.7,151.27 312.8,149.21 312.9,154.03 312.99,137.41 313.09,155.12 313.19,149.94 313.28,160.59 313.38,130.16 313.48,149.86 313.57,139.47 313.67,150.58 313.77,138.21 313.86,128.39 313.96,143.09 314.06,148.51 314.16,134.39 314.25,154.21 314.35,147.01 314.45,157.69 314.54,143.62 314.64,155.24 314.74,141.06 314.83,140.16 314.93,144.86 315.03,149.22 315.12,150.92 315.22,154.58 315.32,146.91 315.41,169.11 315.51,152.78 315.61,153.57 315.71,117.3 315.8,163.59 315.9,142.19 316,152.45 316.09,133.71 316.19,159.32 316.29,150.45 316.38,159.68 316.48,132.99 316.58,183.3 316.67,148.74 316.77,145.98 316.87,142.3 316.96,167.86 317.06,147.84 317.16,149.12 317.26,149.6 317.35,150.47 317.45,146.65 317.55,151.29 317.64,158.07 317.74,154.58 317.84,143.07 317.93,171.24 318.03,148.63 318.13,151.3 318.22,117.3 318.32,157.26 318.42,141.28 318.51,153.41 318.61,136.72 318.71,156.57 318.8,142.33 318.9,150.49 319,151.09 319.1,151.52 319.19,154.06 319.29,160.11 319.39,141.89 319.48,174.31 319.58,137.75 319.68,155.26 319.77,148.72 319.87,180.19 319.97,134.25 320.06,150.22 320.16,150.25 320.26,142.99 320.35,141.85 320.45,138.03 320.55,149.37 320.65,154.49 320.74,134.63 320.84,150.72 320.94,151.32 321.03,172.6 321.13,140.45 321.23,148.29 321.32,149.32 321.42,153.61 321.52,157.9 321.61,171.55 321.71,158.68 321.81,151.14 321.9,138.29 322,155.44 322.1,144.37 322.2,152.11 322.29,148.57 322.39,151.03 322.49,140.36 322.58,164.85 322.68,152.83 322.78,139.66 322.87,143.18 322.97,160.97 323.07,156.72 323.16,159 323.26,149.94 323.36,143.92 323.45,162.66 323.55,183.3 323.65,143.1 323.75,153.3 323.84,146.69 323.94,152.65 324.04,130.81 324.13,152.54 324.23,142.02 324.33,153.9 324.42,144.57 324.52,156.54 324.62,146.4 324.71,156 324.81,169.12 324.91,154.82 325,154.48 325.1,151.42 325.2,147.54 325.29,148.66 325.39,153.68 325.49,150.56 325.59,154.32 325.68,160.54 325.78,150.02 325.88,152.62 325.97,139.05 326.07,156.46 326.17,142.94 326.26,150.67 326.36,143.3 326.46,143.99 326.55,144.28 326.65,140 326.75,145.45 326.84,149.7 326.94,130.02 327.04,153.64 327.14,140.85 327.23,151.33 327.33,143.55 327.43,150.87 327.52,149.57 327.62,151.61 327.72,147.23 327.81,151.92 327.91,146 328.01,149.98 328.1,150.17 328.2,154.17 328.3,137.04 328.39,157.3 328.49,155.47 328.59,166.65 328.69,148.43 328.78,164.08 328.88,152.39 328.98,151.13 329.07,150.77 329.17,151.64 329.27,156.72 329.36,161.66 329.46,146.73 329.56,147.18 329.65,156.79 329.75,153.32 329.85,149.79 329.94,166.93 330.04,146.07 330.14,146.94 330.24,144.83 330.33,155.95 330.43,142.61 330.53,151.68 330.62,148.16 330.72,153.62 330.82,126.93 330.91,155.7 331.01,148.56 331.11,143.78 331.2,117.3 331.3,150.53 331.4,183.3 331.49,154.94 331.59,131.59 331.69,158.36 331.78,147.95 331.88,153.65 331.98,147.56 332.08,150.77 332.17,140.8 332.27,161.3 332.37,172.98 332.46,150.36 332.56,148.76 332.66,151.42 332.75,145.71 332.85,137.94 332.95,147.66 333.04,145.95 333.14,144.11 333.24,167.86 333.33,140.22 333.43,150.65 333.53,148.98 333.63,152.68 333.72,144.74 333.82,155.99 333.92,148.16 334.01,153.32 334.11,149.97 334.21,167.16 334.3,147.37 334.4,155.65 334.5,144.27 334.59,158.56 334.69,143.8 334.79,154.92 334.88,157.7 334.98,150.09 335.08,129.05 335.18,150.69 335.27,156.03 335.37,152.82 335.47,131.29 335.56,149.64 335.66,147.84 335.76,150.88 335.85,151.33 335.95,156.05 336.05,135.7 336.14,161.19 336.24,159.2 336.34,153 336.43,149.97 336.53,156.25 336.63,158.9 336.73,160.72 336.82,146.49 336.92,141.39 337.02,152.77 337.11,151.89 337.21,150.24 337.31,150.41 337.4,158.22 337.5,155.31" fill="none" stroke="#bbbbbb" stroke-width="0.25" stroke-linejoin="round" />
<polyline points="47,150.3 108,150.3 108,161.09 117.2,161.09 117.2,150.3 143.83,150.3 143.83,161.09 153.52,161.09 153.52,147.6 168.04,147.6 168.04,150.3 206.78,150.3 206.78,156.77 228.56,156.77 228.56,150.3 325.4,150.3 325.4,161.09 337.5,161.09" fill="none" stroke="#ff50ff" stroke-width="0.7" stroke-linejoin="round" />
<polyline points="47,150.3 94.45,150.3 95.42,161.44 131.73,161.44 136.57,150.3 187.41,150.3 192.25,155.69 240.67,155.69 243.09,150.3 337.5,150.3" fill="none" stroke="#40eeee" stroke-width="0.75" stroke-linejoin="round" />
<polyline points="47,149.66 47.97,148.42 48.94,151.42 49.91,148.37 50.89,147.93 51.86,150.5 52.83,149.5 53.8,150.02 54.77,151.22 55.74,152.16 56.72,154.11 57.69,149.43 58.66,151.8 59.63,148.37 60.6,150.96 61.57,151.84 62.55,153.27 63.52,150.41 64.49,153.23 65.46,150.33 66.43,153.25 67.4,152.5 68.37,155.04 69.35,149.57 70.32,153.16 71.29,153.67 72.26,152.03 73.23,154.57 74.2,152.27 75.18,155.15 76.15,152.76 77.12,155.14 78.09,156.37 79.06,154.66 80.03,156 81.01,153.22 81.98,154.11 82.95,153.53 83.92,154.25 84.89,155.01 85.86,154.58 86.83,153.23 87.81,155.13 88.78,156.08 89.75,156.5 90.72,155.54 91.69,156.42 92.66,152.76 93.64,157.28 94.61,163.17 95.58,184.05 96.55,183.08 97.52,184.8 98.49,186.19 99.46,186.37 100.44,186.11 101.41,184.61 102.38,190.84 103.35,197.72 104.32,204.15 105.29,203.02 106.27,191.16 107.24,181.03 108.21,168.9 109.18,167.78 110.15,165.36 111.12,163.48 112.1,160.13 113.07,157.37 114.04,155.51 115.01,155.31 115.98,153.58 116.95,155.54 117.92,153.26 118.9,153.31 119.87,151.38 120.84,150.71 121.81,153.23 122.78,151.11 123.75,149.58 124.73,149.05 125.7,151.9 126.67,149.49 127.64,149.81 128.61,150.93 129.58,147.48 130.56,151.91 131.53,150.7 132.5,149.65 133.47,149.95 134.44,150.55 135.41,138.43 136.38,138.34 137.36,139.1 138.33,138.97 139.3,154.51 140.27,157.85 141.24,154.78 142.21,161.05 143.19,158.21 144.16,163.35 145.13,164.12 146.1,162.95 147.07,159.58 148.04,159.94 149.02,154.81 149.99,154.95 150.96,154.41 151.93,154.43 152.9,152.16 153.87,151.52 154.84,147.74 155.82,148.9 156.79,152.43 157.76,147.93 158.73,153.48 159.7,147.79 160.67,152.66 161.65,149.89 162.62,148.66 163.59,149.78 164.56,151.29 165.53,147.87 166.5,152.15 167.47,151.63 168.45,147.48 169.42,150.65 170.39,148.99 171.36,148.12 172.33,149.38 173.3,148.77 174.28,148.93 175.25,148.74 176.22,147.28 177.19,147.58 178.16,148.4 179.13,147.48 180.11,149.52 181.08,149.78 182.05,150.06 183.02,147.44 183.99,146.17 184.96,137.99 185.93,146.44 186.91,150.44 187.88,141.74 188.85,133.25 189.82,139.57 190.79,147.01 191.76,149.36 192.74,153.12 193.71,151.07 194.68,153.25 195.65,152.35 196.62,151.4 197.59,151.05 198.57,155.43 199.54,161.53 200.51,163.94 201.48,163.71 202.45,166.95 203.42,166.67 204.39,166.75 205.37,166.43 206.34,166.78 207.31,164.42 208.28,161.6 209.25,161.72 210.22,164.06 211.2,163.46 212.17,165.59 213.14,168.74 214.11,170.06 215.08,172.68 216.05,169.2 217.03,170.83 218,172.65 218.97,170.56 219.94,169.74 220.91,170.2 221.88,170.2 222.85,163.91 223.83,150.36 224.8,153.67 225.77,152.44 226.74,151.15 227.71,152.44 228.68,150.16 229.66,153.19 230.63,150.97 231.6,154.74 232.57,150.66 233.54,150.66 234.51,151.07 235.48,151.12 236.46,151.12 237.43,150.22 238.4,150.03 239.37,152.73 240.34,149.8 241.31,152.64 242.29,151 243.26,151.55 244.23,150.45 245.2,151.57 246.17,150.47 247.14,151.69 248.12,152.34 249.09,149.38 250.06,150.04 251.03,150.08 252,149.4 252.97,152.25 253.94,149.37 254.92,152.15 255.89,150.04 256.86,150.8 257.83,150.11 258.8,149.45 259.77,150.37 260.75,151.68 261.72,148.98 262.69,144.89 263.66,140.36 264.63,138.4 265.6,143.01 266.58,140.95 267.55,143.93 268.52,150.95 269.49,150.12 270.46,150.24 271.43,152.37 272.4,151.37 273.38,150 274.35,149.22 275.32,149.03 276.29,151.6 277.26,151.52 278.23,150.66 279.21,149.96 280.18,150.68 281.15,150.09 282.12,148.76 283.09,148.75 284.06,149.5 285.04,151.3 286.01,150.33 286.98,148.77 287.95,148.29 288.92,147.98 289.89,150.99 290.86,150.09 291.84,151.13 292.81,153.58 293.78,150.88 294.75,151.82 295.72,147.23 296.69,148.51 297.67,150.08 298.64,149.02 299.61,148.48 300.58,146.52 301.55,147.88 302.52,146.76 303.49,148.22 304.47,147.01 305.44,146.76 306.41,147.46 307.38,148.71 308.35,147.15 309.32,149.25 310.3,146.59 311.27,149 312.24,149.54 313.21,145.81 314.18,148.26 315.15,143.07 316.13,141.07 317.1,140.79 318.07,140.52 319.04,141.71 320.01,138.78 320.98,141.83 321.95,142.84 322.93,139.68 323.9,145.93 324.87,156.41 325.84,160.75 326.81,165.49 327.78,168.8 328.76,167.4 329.73,166.65 330.7,168.85 331.67,166.18 332.64,162.3 333.61,159.42 334.59,159.7 335.56,157.84 336.53,154.98 337.5,153.63" fill="none" stroke="#ff4d4d" stroke-width="0.75" stroke-linejoin="round" />
<polyline points="47,153.47 47.29,156.06 47.58,152.33 47.87,150.21 48.16,147.9 48.45,152.48 48.74,155.62 49.04,157.06 49.33,151.52 49.62,148.54 49.91,154.45 50.2,160.21 50.49,158.6 50.78,147.96 51.07,152.96 51.36,160.09 51.65,153.05 51.94,156.8 52.23,154.16 52.53,153.08 52.82,153.45 53.11,147.58 53.4,148.59 53.69,149.23 53.98,143.84 54.27,140.74 54.56,149.08 54.85,142.16 55.14,144.61 55.43,142.07 55.72,147.14 56.01,142.61 56.31,143.5 56.6,145.2 56.89,148.8 57.18,148.07 57.47,153.43 57.76,157.09 58.05,153.46 58.34,161.35 58.63,154.94 58.92,159.35 59.21,169.44 59.5,158.64 59.79,162.24 60.09,155.92 60.38,154.05 60.67,160.26 60.96,151.49 61.25,150.86 61.54,145.53 61.83,153.48 62.12,145.37 62.41,152.11 62.7,148.55 62.99,150.04 63.28,140.46 63.58,143.42 63.87,135.53 64.16,142.93 64.45,143.17 64.74,144.24 65.03,151.01 65.32,149.93 65.61,145.36 65.9,153.31 66.19,152.04 66.48,153.92 66.77,152.47 67.06,156.94 67.36,155.23 67.65,152.8 67.94,152.48 68.23,155.43 68.52,147.6 68.81,155.41 69.1,154.15 69.39,153.6 69.68,143.83 69.97,148.21 70.26,151.49 70.55,153.19 70.84,148.08 71.14,154.96 71.43,156.86 71.72,150.45 72.01,158.66 72.3,156.24 72.59,156.04 72.88,158.82 73.17,157.32 73.46,151.16 73.75,157.84 74.04,160.13 74.33,161.76 74.63,154.65 74.92,154.58 75.21,151.48 75.5,153.71 75.79,153.12 76.08,153.42 76.37,151.97 76.66,148.63 76.95,150.12 77.24,148.98 77.53,142.9 77.82,149.57 78.11,158.74 78.41,146.7 78.7,153.22 78.99,159.37 79.28,153.1 79.57,157.67 79.86,161.21 80.15,161.63 80.44,162.74 80.73,158.31 81.02,153.96 81.31,159.16 81.6,155.89 81.89,149.83 82.19,161.73 82.48,155.6 82.77,157.51 83.06,160.18 83.35,159.73 83.64,155.42 83.93,153.33 84.22,156.84 84.51,154.21 84.8,151.25 85.09,153 85.38,151.61 85.68,154.09 85.97,154.86 86.26,150.44 86.55,156.07 86.84,158.89 87.13,157.47 87.42,164.78 87.71,163.35 88,159.74 88.29,159.51 88.58,155.01 88.87,160.22 89.16,165.18 89.46,150.82 89.75,153.33 90.04,160.97 90.33,150.47 90.62,154.91 90.91,161.34 91.2,156.1 91.49,157.24 91.78,149.73 92.07,159.95 92.36,158.61 92.65,159.49 92.94,160.69 93.24,163.6 93.53,159.91 93.82,157.31 94.11,159.89 94.4,166.7 94.69,168.04 94.98,163.48 95.27,167.19 95.56,167.35 95.85,171.95 96.14,158.05 96.43,162.59 96.73,170.69 97.02,164.09 97.31,163.22 97.6,178.82 97.89,172.38 98.18,172.59 98.47,169.34 98.76,173.22 99.05,174.5 99.34,174.66 99.63,167.94 99.92,167.35 100.21,178.51 100.51,180.65 100.8,166.89 101.09,181.96 101.38,180.91 101.67,179.05 101.96,177.83 102.25,176.22 102.54,179.29 102.83,184.84 103.12,179.94 103.41,181.5 103.7,175.65 103.99,183.72 104.29,189.54 104.58,188.98 104.87,179.71 105.16,187.53 105.45,193.13 105.74,186.51 106.03,183.63 106.32,178.34 106.61,186.46 106.9,179.23 107.19,178.13 107.48,184.19 107.78,184.13 108.07,178.35 108.36,180.5 108.65,185.88 108.94,189.91 109.23,184.67 109.52,186.59 109.81,183.27 110.1,183.16 110.39,176.6 110.68,174.47 110.97,161.09 111.26,170.73 111.56,162.85 111.85,160.56 112.14,164.8 112.43,158.13 112.72,170.06 113.01,159.77 113.3,155.45 113.59,167.01 113.88,163.13 114.17,155.46 114.46,161.74 114.75,166.16 115.05,164.38 115.34,166.14 115.63,162.21 115.92,164.37 116.21,166.46 116.5,166.42 116.79,162.43 117.08,155.41 117.37,157.7 117.66,154.99 117.95,156.54 118.24,159.49 118.53,155.62 118.83,148.67 119.12,149.27 119.41,151.68 119.7,152.94 119.99,144.53 120.28,144.74 120.57,143.22 120.86,141.57 121.15,138.32 121.44,138.15 121.73,135.38 122.02,135.38 122.31,133.66 122.61,135.6 122.9,139.99 123.19,138.75 123.48,136.45 123.77,139.5 124.06,135.97 124.35,133.45 124.64,141.05 124.93,144.75 125.22,133.24 125.51,138.2 125.8,135.78 126.1,144.17 126.39,132.36 126.68,136.6 126.97,140.34 127.26,141.54 127.55,140.02 127.84,141.44 128.13,142.2 128.42,145.83 128.71,136.73 129,142.19 129.29,142.05 129.58,142.29 129.88,152.3 130.17,140.63 130.46,143.32 130.75,142.46 131.04,140.34 131.33,143.77 131.62,135.89 131.91,141.28 132.2,141.41 132.49,140.55 132.78,135.81 133.07,133.16 133.36,139.21 133.66,143.58 133.95,134.15 134.24,143.31 134.53,135.12 134.82,140.81 135.11,144.1 135.4,144.61 135.69,141 135.98,140.06 136.27,145.11 136.56,140.63 136.85,133.68 137.15,140.32 137.44,141.6 137.73,138.79 138.02,137.94 138.31,136.99 138.6,139.33 138.89,143.72 139.18,138.39 139.47,152.82 139.76,149.73 140.05,138.55 140.34,144.43 140.63,148.41 140.93,150.19 141.22,146.51 141.51,152.92 141.8,156.24 142.09,162.93 142.38,159.88 142.67,164.01 142.96,165.41 143.25,166.96 143.54,165.83 143.83,167.93 144.12,163.49 144.41,172.5 144.71,168.24 145,160.54 145.29,168.05 145.58,163.78 145.87,164.34 146.16,163.95 146.45,166.55 146.74,175.25 147.03,171.05 147.32,170.81 147.61,174.75 147.9,169.77 148.2,172.19 148.49,173.14 148.78,165.04 149.07,165.35 149.36,167.21 149.65,167.57 149.94,165.26 150.23,163.99 150.52,163.36 150.81,161.26 151.1,162.01 151.39,157.99 151.68,156.69 151.98,156.58 152.27,159.85 152.56,158.9 152.85,153.98 153.14,155.71 153.43,154.34 153.72,163.26 154.01,163.32 154.3,150.54 154.59,149.81 154.88,144.83 155.17,145.7 155.46,145.82 155.76,144.78 156.05,148.63 156.34,137.64 156.63,141.66 156.92,135.44 157.21,134.78 157.5,132.64 157.79,128.33 158.08,132.91 158.37,134.07 158.66,137.49 158.95,137.17 159.25,130.65 159.54,140.25 159.83,135.69 160.12,138.68 160.41,140.63 160.7,141.91 160.99,150.66 161.28,145.86 161.57,141.71 161.86,151.39 162.15,149.48 162.44,152.67 162.73,149.35 163.03,155.52 163.32,145.54 163.61,154.05 163.9,159.32 164.19,146.79 164.48,150.69 164.77,153.13 165.06,153.45 165.35,156.35 165.64,155.19 165.93,150.82 166.22,149.42 166.52,148.74 166.81,150.96 167.1,153.01 167.39,151.3 167.68,145.53 167.97,143.59 168.26,150.01 168.55,149.92 168.84,142.47 169.13,143.92 169.42,143.39 169.71,150.71 170,146.4 170.3,147.58 170.59,145.35 170.88,153.46 171.17,142.4 171.46,146.87 171.75,146.96 172.04,153.99 172.33,150.04 172.62,145.28 172.91,157.4 173.2,150.61 173.49,149.68 173.78,155.81 174.08,150.48 174.37,155.63 174.66,150.09 174.95,153.49 175.24,154.46 175.53,146.99 175.82,151.22 176.11,148.92 176.4,158.38 176.69,155.82 176.98,149.53 177.27,148.84 177.57,152.22 177.86,148.5 178.15,155.35 178.44,149.9 178.73,154.87 179.02,148.57 179.31,151.42 179.6,151.61 179.89,148.44 180.18,141.51 180.47,153.01 180.76,151.71 181.05,145.42 181.35,151.63 181.64,143.27 181.93,149.7 182.22,150.54 182.51,149.8 182.8,144.64 183.09,149.24 183.38,150.11 183.67,151.47 183.96,158.95 184.25,156.59 184.54,147.54 184.83,150.47 185.13,151.78 185.42,151 185.71,155.41 186,151.66 186.29,156.3 186.58,150.93 186.87,155.04 187.16,152.8 187.45,149.9 187.74,152.72 188.03,148.61 188.32,149.1 188.62,149.22 188.91,145.15 189.2,156.42 189.49,157.34 189.78,149.03 190.07,148.18 190.36,144.38 190.65,149.78 190.94,149.93 191.23,157.14 191.52,151.1 191.81,151.85 192.1,159.13 192.4,158.93 192.69,156.26 192.98,155.12 193.27,168.34 193.56,156.85 193.85,156.65 194.14,158.7 194.43,157.38 194.72,157.07 195.01,163.28 195.3,157.35 195.59,159.72 195.88,162.19 196.18,157.35 196.47,152.02 196.76,163.4 197.05,163.89 197.34,163.61 197.63,148.98 197.92,157.52 198.21,156.48 198.5,159.08 198.79,159.42 199.08,163.44 199.37,154.48 199.67,153.85 199.96,162.42 200.25,158.45 200.54,156.99 200.83,153.82 201.12,152.36 201.41,148.48 201.7,147.14 201.99,147.92 202.28,146.44 202.57,155.97 202.86,153.15 203.15,146.04 203.45,149.03 203.74,149.7 204.03,157.21 204.32,156.34 204.61,145.7 204.9,146.85 205.19,148.97 205.48,149.04 205.77,153.84 206.06,145.27 206.35,142.83 206.64,140.6 206.93,147.07 207.23,148.25 207.52,151.95 207.81,142.95 208.1,141.21 208.39,150.56 208.68,147.16 208.97,148.13 209.26,150.93 209.55,158.71 209.84,150.45 210.13,146.78 210.42,155.06 210.72,152.85 211.01,162.69 211.3,144.8 211.59,148.07 211.88,150.05 212.17,149.7 212.46,148.27 212.75,143.19 213.04,141.23 213.33,138.11 213.62,134.39 213.91,130.88 214.2,126.43 214.5,141.16 214.79,137.26 215.08,143.65 215.37,148.56 215.66,156.29 215.95,147.4 216.24,154.5 216.53,153.94 216.82,149.47 217.11,155.96 217.4,151.92 217.69,152.67 217.98,149.55 218.28,149.07 218.57,156.84 218.86,150.14 219.15,154.49 219.44,153.97 219.73,155.65 220.02,152.09 220.31,160.3 220.6,154.83 220.89,151.55 221.18,157.67 221.47,148.88 221.77,160.16 222.06,156.62 222.35,159.06 222.64,159.28 222.93,160.93 223.22,158.34 223.51,156.09 223.8,158.74 224.09,151.76 224.38,148.92 224.67,160.66 224.96,151 225.25,153.24 225.55,152.7 225.84,143.62 226.13,148.27 226.42,151.39 226.71,151.68 227,160.61 227.29,148.67 227.58,154.37 227.87,150.4 228.16,150.39 228.45,146.66 228.74,142.39 229.04,146.78 229.33,145.88 229.62,152.08 229.91,149.6 230.2,148.6 230.49,157.58 230.78,144.06 231.07,155.21 231.36,157.68 231.65,146.41 231.94,144.74 232.23,156.14 232.52,156.03 232.82,141.55 233.11,153.65 233.4,162.19 233.69,157.01 233.98,146.91 234.27,152.47 234.56,152.35 234.85,150.72 235.14,152.77 235.43,156.23 235.72,160.7 236.01,152.1 236.3,157.76 236.6,153.05 236.89,145.35 237.18,149.64 237.47,151.02 237.76,150.47 238.05,147.32 238.34,146.05 238.63,154.37 238.92,147.91 239.21,141.34 239.5,144.61 239.79,150.1 240.09,149.49 240.38,155.31 240.67,150.64 240.96,141.5 241.25,148.48 241.54,151.93 241.83,151.18 242.12,149.68 242.41,150.02 242.7,151.34 242.99,153.33 243.28,148.12 243.57,144.9 243.87,153.58 244.16,153.83 244.45,147.33 244.74,158.17 245.03,155.07 245.32,154.57 245.61,152.76 245.9,154.86 246.19,156.97 246.48,151.58 246.77,156.85 247.06,158.39 247.35,158.87 247.65,147.24 247.94,156.41 248.23,147.12 248.52,145.59 248.81,144.39 249.1,147.62 249.39,148.45 249.68,145.29 249.97,147.32 250.26,150.09 250.55,140.14 250.84,148.75 251.14,138.21 251.43,143.38 251.72,147.32 252.01,143.9 252.3,140.87 252.59,151.29 252.88,149.61 253.17,150.2 253.46,145.5 253.75,144.66 254.04,146.25 254.33,149.35 254.62,148.66 254.92,141.98 255.21,142.44 255.5,146.55 255.79,152.46 256.08,145.01 256.37,146.57 256.66,146.92 256.95,141.29 257.24,145.09 257.53,152.4 257.82,152.58 258.11,143.52 258.4,148.37 258.7,145.89 258.99,150.03 259.28,153.58 259.57,148.75 259.86,143.84 260.15,148.88 260.44,154.88 260.73,151.85 261.02,152.79 261.31,150.33 261.6,147.17 261.89,143.61 262.19,150.7 262.48,153.01 262.77,149.39 263.06,148.02 263.35,148.16 263.64,144.78 263.93,143.26 264.22,146.3 264.51,137.87 264.8,139.87 265.09,141.58 265.38,136.84 265.67,141.79 265.97,134.06 266.26,140.16 266.55,142.84 266.84,147.23 267.13,146.95 267.42,143.04 267.71,149.71 268,144.57 268.29,156.47 268.58,147.96 268.87,146.11 269.16,148.58 269.45,150.52 269.75,147.09 270.04,155.05 270.33,156.14 270.62,152.42 270.91,148.66 271.2,151.98 271.49,154.59 271.78,152.76 272.07,152.33 272.36,159.14 272.65,165.46 272.94,158.53 273.24,160.51 273.53,157.03 273.82,159.62 274.11,158.42 274.4,153.41 274.69,154.87 274.98,155.47 275.27,149.01 275.56,157.59 275.85,157.48 276.14,151.17 276.43,160.78 276.72,163.03 277.02,151.62 277.31,155.66 277.6,154.82 277.89,154.87 278.18,154.02 278.47,159.66 278.76,158.3 279.05,162.6 279.34,157.85 279.63,157.69 279.92,160.6 280.21,155.32 280.51,145.05 280.8,160.06 281.09,150.99 281.38,149.32 281.67,147.6 281.96,153.77 282.25,144.63 282.54,145.54 282.83,147.39 283.12,147.87 283.41,146.31 283.7,144.37 283.99,145.34 284.29,140.55 284.58,151.77 284.87,148.69 285.16,153.62 285.45,149.6 285.74,152.96 286.03,156.62 286.32,160.29 286.61,158.87 286.9,155.66 287.19,150.5 287.48,152.42 287.77,159.38 288.07,155.74 288.36,152.86 288.65,152.71 288.94,151.16 289.23,147.56 289.52,149 289.81,151.78 290.1,155.87 290.39,148.79 290.68,153.28 290.97,146.48 291.26,143.79 291.56,149.53 291.85,144.01 292.14,144.75 292.43,136.65 292.72,143.14 293.01,153.17 293.3,144.72 293.59,145.59 293.88,148.77 294.17,150.21 294.46,147.12 294.75,147.61 295.04,149.26 295.34,155.66 295.63,153.48 295.92,159.39 296.21,159.89 296.5,156.94 296.79,159.64 297.08,157.48 297.37,145.43 297.66,152.67 297.95,157.52 298.24,161.95 298.53,156.11 298.82,157.86 299.12,160.27 299.41,148.11 299.7,152.26 299.99,148 300.28,136.89 300.57,147.41 300.86,147.4 301.15,145.85 301.44,147.66 301.73,149.25 302.02,146.33 302.31,142.01 302.61,148.64 302.9,154.03 303.19,154.59 303.48,154.77 303.77,151.69 304.06,150.86 304.35,151.9 304.64,150.13 304.93,156.66 305.22,153.57 305.51,156.6 305.8,156.11 306.09,166.35 306.39,152.55 306.68,161.99 306.97,158.74 307.26,149.62 307.55,152.64 307.84,142.53 308.13,147.3 308.42,150.41 308.71,144.16 309,144.78 309.29,135.48 309.58,133.6 309.87,135.54 310.17,140.12 310.46,139.45 310.75,136.91 311.04,145.5 311.33,146.75 311.62,141.52 311.91,143.24 312.2,148.35 312.49,149.77 312.78,157.7 313.07,146.58 313.36,153 313.66,159.46 313.95,159.54 314.24,159.89 314.53,150.61 314.82,152.82 315.11,159.04 315.4,144.62 315.69,144.87 315.98,152.56 316.27,157.09 316.56,140.97 316.85,145.37 317.14,141.73 317.44,141.48 317.73,132.63 318.02,130.12 318.31,133.64 318.6,138.31 318.89,137.55 319.18,137 319.47,146.55 319.76,136.28 320.05,143.33 320.34,141.9 320.63,143.26 320.92,141.09 321.22,140.44 321.51,135.62 321.8,145.44 322.09,147.3 322.38,142.88 322.67,145.68 322.96,139.37 323.25,145.65 323.54,141.63 323.83,138.12 324.12,137.51 324.41,140.6 324.71,139.44 325,143.55 325.29,158.97 325.58,154.44 325.87,158.76 326.16,164.27 326.45,169.22 326.74,170.14 327.03,171.94 327.32,171.69 327.61,166.69 327.9,167.48 328.19,173.05 328.49,173.04 328.78,166.01 329.07,171.43 329.36,167.36 329.65,165.57 329.94,162.81 330.23,164.27 330.52,160.04 330.81,167 331.1,161.96 331.39,166.65 331.68,162.74 331.97,162.43 332.27,166.02 332.56,172.08 332.85,157.44 333.14,159.21 333.43,159.51 333.72,162.25 334.01,160.22 334.3,156.52 334.59,157.66 334.88,152.58 335.17,156.12 335.46,159.25 335.76,153.01 336.05,157.35 336.34,153.41 336.63,160.85 336.92,154.5 337.21,150.33 337.5,154.54" fill="none" stroke="#111" stroke-width="0.6" stroke-linejoin="round" />
<line x1="47.0" y1="150.3" x2="337.5" y2="150.3" stroke="#555" stroke-width="0.9"/>
<polyline points="47,114.35 71.21,114.35 71.21,108.96 83.31,108.96 83.31,123.34 95.42,123.34 95.42,99.97 107.52,99.97 107.52,96.38 119.62,96.38 119.62,110.75 131.73,110.75 131.73,114.35 143.83,114.35 143.83,92.42 155.94,92.42 155.94,103.56 168.04,103.56 168.04,106.44 192.25,106.44 192.25,116.87 204.35,116.87 204.35,108.06 216.46,108.06 216.46,89.18 228.56,89.18 228.56,90.08 240.67,90.08 240.67,68.15 254.22,68.15 254.22,74.81 280.85,74.81 280.85,87.93 289.08,87.93 289.08,96.38 303.61,96.38 303.61,87.57 313.29,87.57 313.29,117.41 325.4,117.41 325.4,80.56 337.5,80.56" fill="none" stroke="#ff50ff" stroke-width="0.7" stroke-linejoin="round" />
<polyline points="47,114.35 80.89,114.35 93,123.34 131.73,123.34 143.83,102.13 180.15,102.13 190.8,123.34 228.56,123.34 240.67,67.97 276.98,67.97 284.24,84.69 289.08,94.58 325.4,94.58 337.5,76.6" fill="none" stroke="#40eeee" stroke-width="0.75" stroke-linejoin="round" />
<polyline points="47,114.14 47.58,114.14 47.58,122.12 48.38,122.12 48.38,114 49.37,114 49.37,121.68 50.3,121.68 50.3,113.55 51.24,113.55 51.24,107.66 52.04,107.66 52.04,113.32 53.64,113.32 53.64,117.66 54.53,117.66 54.53,113.03 55.02,113.03 55.02,104.2 55.58,104.2 55.58,112.93 56.75,112.93 56.75,108.35 57.06,108.35 57.06,113.71 57.98,113.71 57.98,119.58 59.09,119.58 59.09,113.27 60.3,113.27 60.3,119.32 61.22,119.32 61.22,113.38 62.67,113.38 62.67,114.61 63.68,114.61 63.68,113.47 65.04,113.47 65.04,115.39 66.07,115.39 66.07,113.51 67.11,113.51 67.11,104.66 67.66,104.66 67.66,113.66 68.46,113.66 68.46,119.82 69.29,119.82 69.29,113.89 69.98,113.89 69.98,103.54 70.77,103.54 70.77,113.7 71.21,113.7 71.21,111.34 71.89,111.34 71.89,98.04 72.71,98.04 72.71,111.57 74.11,111.57 74.11,121.12 74.72,121.12 74.72,111.94 75.43,111.94 75.43,111.75 76.06,111.75 76.06,98.18 77.09,98.18 77.09,111.35 78.4,111.35 78.4,121.99 79.3,121.99 79.3,111.28 80.58,111.28 80.58,105.9 81.45,105.9 81.45,111.5 82.54,111.5 82.54,120.07 83.27,120.07 83.27,111.45 83.31,111.45 83.31,120.73 84.7,120.73 84.7,120.76 85.45,120.76 85.45,120.61 86.79,120.61 86.79,118.39 87.88,118.39 87.88,120.24 88.76,120.24 88.76,116.46 89.14,116.46 89.14,120.5 90.69,120.5 90.69,120.35 92.28,120.35 92.28,120.86 93.71,120.86 93.71,119.03 94.42,119.03 94.42,120.43 95.2,120.43 95.2,116.01 95.42,116.01 95.42,99.36 96.02,99.36 96.02,98.67 97.33,98.67 97.33,109.99 98.06,109.99 98.06,99.26 99.32,99.26 99.32,111.72 100.42,111.72 100.42,99.22 101.08,99.22 101.08,108.57 101.57,108.57 101.57,99.07 103.14,99.07 103.14,99.03 104.4,99.03 104.4,99.19 105.05,99.19 105.05,99.2 105.6,99.2 105.6,104.24 106.56,104.24 106.56,99.11 106.79,99.11 106.79,80.56 107.35,80.56 107.35,80.51 107.52,80.51 107.52,95.44 108.48,95.44 108.48,95.2 109.32,95.2 109.32,95.55 110.38,95.55 110.38,95.62 111.05,95.62 111.05,94.89 112.19,94.89 112.19,102.05 112.78,102.05 112.78,95.63 114.06,95.63 114.06,95.04 115.56,95.04 115.56,95.65 116.7,95.65 116.7,103.43 117.57,103.43 117.57,95.2 118.97,95.2 118.97,101.25 119.62,101.25 119.62,112.5 120.85,112.5 120.85,110.42 121.45,110.42 121.45,112.38 122.03,112.38 122.03,112.57 123.63,112.57 123.63,116.13 124.7,116.13 124.7,112.54 125.5,112.54 125.5,114.58 125.93,114.58 125.93,113.13 127.18,113.13 127.18,115.53 128.18,115.53 128.18,113.08 129.17,113.08 129.17,119.52 130.23,119.52 130.23,112.68 131.35,112.68 131.35,107.47 131.73,107.47 131.73,113.78 132.37,113.78 132.37,110.07 133.28,110.07 133.28,113.47 134.29,113.47 134.29,111.62 134.89,111.62 134.89,113.66 136.04,113.66 136.04,115.53 136.63,115.53 136.63,113.31 138.18,113.31 138.18,108.02 138.48,108.02 138.48,113.25 140.12,113.25 140.12,112.55 140.58,112.55 140.58,113.48 141.63,113.48 141.63,113.65 142.65,113.65 142.65,113.25 143.83,113.25 143.83,88.99 144.97,88.99 144.97,83.14 146.07,83.14 146.07,88.99 146.58,88.99 146.58,92.82 146.99,92.82 146.99,88.67 148.39,88.67 148.39,88.16 149.02,88.16 149.02,89.68 150.47,89.68 150.47,83.66 150.94,83.66 150.94,89.04 152,89.04 152,89.6 153.22,89.6 153.22,92.22 153.71,92.22 153.71,89.21 155.35,89.21 155.35,91.67 155.94,91.67 155.94,90.93 156.48,90.93 156.48,90.88 157.39,90.88 157.39,102.76 158.97,102.76 158.97,120.02 159.3,120.02 159.3,101.89 160.17,101.89 160.17,121.19 160.85,121.19 160.85,102.07 162.06,102.07 162.06,121.48 162.71,121.48 162.71,102.43 163.22,102.43 163.22,123.24 163.73,123.24 163.73,102.61 164.97,102.61 164.97,123.07 165.52,123.07 165.52,102.06 166.86,102.06 166.86,122.91 167.76,122.91 167.76,102.01 168.04,102.01 168.04,115.17 168.81,115.17 168.81,124.49 169.36,124.49 169.36,114.67 170.77,114.67 170.77,122.62 171.13,122.62 171.13,114.32 172.19,114.32 172.19,125.72 173.14,125.72 173.14,114.19 174.74,114.19 174.74,124.81 175.44,124.81 175.44,114.15 176.61,114.15 176.61,123.76 177.69,123.76 177.69,114.53 179.13,114.53 179.13,125.08 179.53,125.08 179.53,114.53 180.85,114.53 180.85,122.47 181.22,122.47 181.22,114.67 181.72,114.67 181.72,124.37 182.7,124.37 182.7,113.88 183.4,113.88 183.4,123.65 184.28,123.65 184.28,114.12 185.37,114.12 185.37,125.7 185.73,125.7 185.73,114.13 186.91,114.13 186.91,124.71 187.41,124.71 187.41,116.1 188.32,116.1 188.32,112.84 188.85,112.84 188.85,116.4 189.5,116.4 189.5,116.28 190.45,116.28 190.45,115.76 191.97,115.76 191.97,116.11 192.25,116.11 192.25,114.98 193.14,114.98 193.14,107.71 194.14,107.71 194.14,115.1 195.37,115.1 195.37,109.29 195.71,109.29 195.71,114.7 197.1,114.7 197.1,108.15 197.79,108.15 197.79,115.13 198.32,115.13 198.32,115.39 199.2,115.39 199.2,101.92 200.14,101.92 200.14,115.23 201.07,115.23 201.07,103.29 201.86,103.29 201.86,115.22 203.01,115.22 203.01,115.23 203.56,115.23 203.56,100.65 204.17,100.65 204.17,115.03 204.35,115.03 204.35,107.91 204.94,107.91 204.94,107.89 205.77,107.89 205.77,106.83 206.23,106.83 206.23,108.07 206.77,108.07 206.77,108.25 208.08,108.25 208.08,107.05 208.61,107.05 208.61,107.71 209.49,107.71 209.49,106.45 210.01,106.45 210.01,107.83 210.56,107.83 210.56,108.08 211.85,108.08 211.85,107.36 212.48,107.36 212.48,108.67 213.98,108.67 213.98,108.35 214.9,108.35 214.9,108.12 215.81,108.12 215.81,107.83 216.42,107.83 216.42,108.44 216.46,108.44 216.46,88.29 217.72,88.29 217.72,88.32 218.66,88.32 218.66,88.18 219.96,88.18 219.96,90.68 220.53,90.68 220.53,87.93 221.29,87.93 221.29,88.05 222.92,88.05 222.92,88.26 224.41,88.26 224.41,87.83 225.17,87.83 225.17,87.46 225.83,87.46 225.83,75.25 226.27,75.25 226.27,87.31 227.05,87.31 227.05,74.67 227.5,74.67 227.5,87.21 228.29,87.21 228.29,87.4 228.99,87.4 228.99,73.72 229.28,73.72 229.28,87.25 229.85,87.25 229.85,87.34 230.94,87.34 230.94,87.47 232.28,87.47 232.28,78.34 232.62,78.34 232.62,87.08 234.09,87.08 234.09,73.75 234.84,73.75 234.84,87.18 236.07,87.18 236.07,73.53 236.31,73.53 236.31,74.78 237.48,74.78 237.48,79.88 238.33,79.88 238.33,74.91 239.32,74.91 239.32,80.85 239.8,80.85 239.8,74.81 240.67,74.81 240.67,67.87 242.12,67.87 242.12,67.35 243.15,67.35 243.15,92.2 244.09,92.2 244.09,67.33 245.69,67.33 245.69,67.45 246.94,67.45 246.94,67.56 247.52,67.56 247.52,87.85 247.95,87.85 247.95,67.48 248.51,67.48 248.51,82.82 249.67,82.82 249.67,68.2 250.65,68.2 250.65,84.01 251.3,84.01 251.3,67.32 252.75,67.32 252.75,67.27 254.17,67.27 254.17,91.98 254.71,91.98 254.71,74.61 255.87,74.61 255.87,83.87 256.3,83.87 256.3,74.8 257,74.8 257,83.64 257.66,83.64 257.66,75.22 258.29,75.22 258.29,84.12 258.65,84.12 258.65,75.02 259.91,75.02 259.91,74.87 261.31,74.87 261.31,83.46 261.85,83.46 261.85,74.48 261.97,74.48 261.97,60.33 262.54,60.33 262.54,60.09 262.7,60.09 262.7,85.59 263.53,85.59 263.53,84.49 263.84,84.49 263.84,85.76 264.88,85.76 264.88,89.22 265.95,89.22 265.95,89.4 266.45,89.4 266.45,85.82 266.83,85.82 266.83,89.11 268.28,89.11 268.28,82.62 269.44,82.62 269.44,89.32 270.31,89.32 270.31,85.57 270.98,85.57 270.98,89.13 271.67,89.13 271.67,89.06 272.2,89.06 272.2,84.19 273.13,84.19 273.13,89.37 274.72,89.37 274.72,84.21 275.45,84.21 275.45,88.91 276.32,88.91 276.32,82.76 277.05,82.76 277.05,89.28 278.54,89.28 278.54,88.98 279.4,88.98 279.4,84.43 280.02,84.43 280.02,84.9 281.26,84.9 281.26,101.7 282.01,101.7 282.01,84.44 282.92,84.44 282.92,101.94 283.33,101.94 283.33,84.23 284.39,84.23 284.39,98.21 285.45,98.21 285.45,84.45 286.67,84.45 286.67,101.57 287.03,101.57 287.03,84.48 287.63,84.48 287.63,93.61 288.6,93.61 288.6,111.47 289.1,111.47 289.1,93.48 289.75,93.48 289.75,111.43 290.15,111.43 290.15,93.32 290.81,93.32 290.81,111.48 291.86,111.48 291.86,93.64 293.09,93.64 293.09,93.53 294.42,93.53 294.42,110.83 294.71,110.83 294.71,94.46 296.05,94.46 296.05,107.38 296.45,107.38 296.45,94 297.38,94 297.38,106.07 297.98,106.07 297.98,93.96 298.92,93.96 298.92,110.9 299.3,110.9 299.3,93.79 300.8,93.79 300.8,105.79 301.68,105.79 301.68,93.82 303.09,93.82 303.09,111.33 303.61,111.33 303.61,90.11 305,90.11 305,90.36 305.57,90.36 305.57,90.38 306.33,90.38 306.33,109.57 307.38,109.57 307.38,90.18 308.72,90.18 308.72,111.8 309.78,111.8 309.78,89.91 310.45,89.91 310.45,111.18 311.3,111.18 311.3,90.07 312.51,90.07 312.51,90.23 313.29,90.23 313.29,117.16 314.45,117.16 314.45,117.31 315.61,117.31 315.61,111.48 316.53,111.48 316.53,117.21 317.1,117.21 317.1,112.64 317.82,112.64 317.82,116.96 318.49,116.96 318.49,117.5 319.37,117.5 319.37,111.17 319.71,111.17 319.71,117.04 320.85,117.04 320.85,117.18 321.93,117.18 321.93,117.06 323.01,117.06 323.01,117.26 323.9,117.26 323.9,114.08 324.75,114.08 324.75,117.15 325.4,117.15 325.4,80.24 326.32,80.24 326.32,80.37 327.47,80.37 327.47,76.41 328.05,76.41 328.05,80.81 329.02,80.81 329.02,80.44 330.16,80.44 330.16,80.86 330.65,80.86 330.65,78.34 331.12,78.34 331.12,80.41 332.75,80.41 332.75,80.98 334.26,80.98 334.26,80.84 335.08,80.84 335.08,80.64 335.92,80.64 335.92,72.67 336.28,72.67 336.28,80.65 337.5,80.65" fill="none" stroke="#3c3c3c" stroke-width="0.6" stroke-linejoin="round" />
<circle cx="100.4" cy="150.3" r="1.3" fill="#fff" stroke="#ff5050" stroke-width="0.7"/>
<circle cx="114.3" cy="150.3" r="1.3" fill="#fff" stroke="#777" stroke-width="0.7"/>
<circle cx="208.4" cy="108.06" r="1.3" fill="#fff" stroke="#ff5050" stroke-width="0.7"/>
<circle cx="248.6" cy="68.15" r="1.3" fill="#fff" stroke="#ff50ff" stroke-width="0.7"/>
<circle cx="64" cy="113.45" r="1.3" fill="#fff" stroke="#ff5050" stroke-width="0.7"/>
<circle cx="131" cy="108.96" r="1.3" fill="#fff" stroke="#777" stroke-width="0.7"/>
<circle cx="290" cy="152.1" r="1.3" fill="#fff" stroke="#ff5050" stroke-width="0.7"/>
<polyline points="47,408 47.09,422.08 47.18,366.06 47.27,408.94 47.36,386.68 47.45,447.13 47.54,400.32 47.63,413.16 47.72,377.12 47.81,423.78 47.9,414.05 47.99,423.15 48.08,402.78 48.17,414.49 48.26,389.61 48.36,415.18 48.45,406.99 48.54,424.5 48.63,404.3 48.72,423.12 48.81,421.67 48.9,429.87 48.99,410.7 49.08,416.9 49.17,415.45 49.26,402.64 49.35,391.69 49.44,400.53 49.53,410.39 49.62,435.07 49.71,409.23 49.8,400.38 49.89,409.57 49.98,416.38 50.07,407.39 50.16,410.91 50.25,414.81 50.34,430.63 50.43,408.21 50.52,410.76 50.61,407.05 50.7,416.56 50.79,403.38 50.88,415.15 50.97,407.83 51.07,397.8 51.16,420.5 51.25,412.49 51.34,410.52 51.43,415.65 51.52,380.74 51.61,424.54 51.7,406.83 51.79,428.59 51.88,415.81 51.97,424.78 52.06,409.99 52.15,410.73 52.24,409.36 52.33,415.2 52.42,401.52 52.51,433.82 52.6,427.12 52.69,411.54 52.78,411.61 52.87,426.07 52.96,427.55 53.05,416.47 53.14,398.61 53.23,406.38 53.32,400.41 53.41,415.44 53.5,398.64 53.59,421.91 53.69,384.6 53.78,412.98 53.87,410.28 53.96,415.72 54.05,409.57 54.14,415.26 54.23,394.82 54.32,412.34 54.41,395.65 54.5,408.52 54.59,396.92 54.68,427.11 54.77,378.91 54.86,424.57 54.95,410.5 55.04,456.78 55.13,408.78 55.22,405.25 55.31,429.23 55.4,419.56 55.49,404.86 55.58,410.84 55.67,416.88 55.76,414.53 55.85,428.35 55.94,409.46 56.03,394.35 56.12,437.5 56.21,406.42 56.31,412.37 56.4,400.35 56.49,426.33 56.58,399.23 56.67,412.96 56.76,409.22 56.85,432.28 56.94,442.73 57.03,410.76 57.12,399.56 57.21,434.48 57.3,409.24 57.39,406.16 57.48,397.21 57.57,403.89 57.66,409.2 57.75,409.91 57.84,385.13 57.93,393.97 58.02,408.42 58.11,406.87 58.2,404.41 58.29,436.83 58.38,396.97 58.47,416.85 58.56,396.18 58.65,410.72 58.74,373.16 58.83,417.36 58.92,407.54 59.02,413.88 59.11,422.14 59.2,411.45 59.29,402.97 59.38,418.86 59.47,381.09 59.56,414.87 59.65,410.35 59.74,411.3 59.83,390.51 59.92,419.59 60.01,413.17 60.1,427.44 60.19,409.84 60.28,419.6 60.37,376.34 60.46,410.89 60.55,408.7 60.64,418.35 60.73,391.87 60.82,431.61 60.91,402.8 61,413.11 61.09,379.85 61.18,421.03 61.27,408.2 61.36,411.41 61.45,409.59 61.54,421.26 61.64,410.18 61.73,410.94 61.82,410.77 61.91,426.92 62,407.36 62.09,384.23 62.18,397.95 62.27,420.2 62.36,404.24 62.45,427.83 62.54,402.27 62.63,428.31 62.72,406.44 62.81,414.37 62.9,402.83 62.99,411.3 63.08,413.36 63.17,416 63.26,416.02 63.35,427.94 63.44,397.11 63.53,417.17 63.62,396.04 63.71,413.37 63.8,408.6 63.89,402.1 63.98,429.77 64.07,421.95 64.16,407.43 64.26,424.29 64.35,402.86 64.44,413.33 64.53,417.81 64.62,425.48 64.71,409.3 64.8,402.8 64.89,410.41 64.98,420.87 65.07,457.08 65.16,413.38 65.25,418.09 65.34,405.15 65.43,414.97 65.52,416.88 65.61,403.13 65.7,441.46 65.79,419.74 65.88,403.63 65.97,391.97 66.06,431.22 66.15,400.45 66.24,407.49 66.33,400.61 66.42,412.8 66.51,419.61 66.6,410.56 66.69,404.11 66.78,412.7 66.87,409.38 66.97,432.21 67.06,422.76 67.15,411.87 67.24,396.96 67.33,411.79 67.42,407.54 67.51,373.32 67.6,416.17 67.69,417.83 67.78,410.93 67.87,411.38 67.96,409.86 68.05,421.48 68.14,407.49 68.23,418.36 68.32,417.69 68.41,426.45 68.5,416.35 68.59,397.48 68.68,414.65 68.77,445.33 68.86,450 68.95,413.87 69.04,406.18 69.13,417.6 69.22,416.11 69.31,414.21 69.4,425.01 69.49,415.66 69.59,397.09 69.68,425.44 69.77,408.18 69.86,392.07 69.95,391.09 70.04,414.27 70.13,415.95 70.22,421.33 70.31,424.42 70.4,424.77 70.49,410.94 70.58,415.27 70.67,403.38 70.76,412.39 70.85,413.87 70.94,406.73 71.03,407.8 71.12,413.97 71.21,413.48 71.3,416.41 71.39,395.62 71.48,414.88 71.57,427.46 71.66,391.11 71.75,403.73 71.84,412.32 71.93,396.98 72.02,412.3 72.11,397.08 72.21,409.3 72.3,410.47 72.39,420.78 72.48,364.09 72.57,390.58 72.66,424.53 72.75,422.81 72.84,406.83 72.93,397.14 73.02,388.01 73.11,435.14 73.2,384.64 73.29,423.08 73.38,397.19 73.47,414.39 73.56,410.98 73.65,410.9 73.74,406.59 73.83,410.8 73.92,427.28 74.01,407.36 74.1,399.95 74.19,411.72 74.28,392.82 74.37,410.81 74.46,400.1 74.55,402.53 74.64,406.85 74.73,421.9 74.82,405.36 74.92,426.09 75.01,428.36 75.1,413.62 75.19,396.2 75.28,400.38 75.37,408.37 75.46,423.61 75.55,397.56 75.64,431.32 75.73,417.52 75.82,415.86 75.91,403.21 76,409.29 76.09,402.17 76.18,418.74 76.27,411.41 76.36,414.49 76.45,413.93 76.54,394.73 76.63,410.48 76.72,416.71 76.81,396.03 76.9,416.73 76.99,406.07 77.08,411.27 77.17,436.27 77.26,417.42 77.35,395.65 77.44,413.34 77.54,404.58 77.63,415.93 77.72,407.53 77.81,419.92 77.9,449.36 77.99,424.54 78.08,409.95 78.17,425.17 78.26,394.63 78.35,414.32 78.44,408.99 78.53,411.9 78.62,395.35 78.71,406.88 78.8,401.28 78.89,413.16 78.98,407.79 79.07,436.83 79.16,410.98 79.25,442.02 79.34,403.34 79.43,438.31 79.52,410.49 79.61,423.19 79.7,409.22 79.79,414.07 79.88,437.56 79.97,419.41 80.06,405.89 80.16,397.45 80.25,386.02 80.34,399.51 80.43,394.08 80.52,406.5 80.61,410.47 80.7,422.31 80.79,408.57 80.88,406.75 80.97,412.04 81.06,425.19 81.15,398.38 81.24,418.79 81.33,406.09 81.42,411.71 81.51,433.46 81.6,425.06 81.69,407.65 81.78,414.14 81.87,413.38 81.96,402.85 82.05,417.98 82.14,424.56 82.23,396.42 82.32,400.25 82.41,422.29 82.5,410.39 82.59,417.75 82.68,405.61 82.77,410.37 82.87,429.77 82.96,398.76 83.05,411.95 83.14,404.92 83.23,407 83.32,418.47 83.41,414.24 83.5,407.87 83.59,413.49 83.68,426.99 83.77,419.46 83.86,406.41 83.95,413.21 84.04,399.81 84.13,407.31 84.22,438.37 84.31,414.11 84.4,398.69 84.49,430.38 84.58,396.28 84.67,409.93 84.76,419.62 84.85,417.94 84.94,406.9 85.03,413.98 85.12,404.32 85.21,418.18 85.3,400.47 85.39,422.81 85.49,428.24 85.58,422.75 85.67,409.04 85.76,411.42 85.85,404.9 85.94,409.5 86.03,420.62 86.12,431.07 86.21,401.75 86.3,411.86 86.39,396.41 86.48,426.73 86.57,408.22 86.66,417.05 86.75,401.34 86.84,411.03 86.93,423.1 87.02,413.71 87.11,409.63 87.2,414.32 87.29,407.1 87.38,441.52 87.47,410.68 87.56,394.88 87.65,410.96 87.74,415.83 87.83,410.66 87.92,426.96 88.01,397.31 88.11,421.7 88.2,398.7 88.29,411.08 88.38,400.68 88.47,431.13 88.56,407.56 88.65,417.17 88.74,403.19 88.83,413.01 88.92,378.86 89.01,434.37 89.1,404 89.19,427.58 89.28,457.82 89.37,423.28 89.46,409.08 89.55,413.71 89.64,401.48 89.73,424.78 89.82,402.66 89.91,417.55 90,422.83 90.09,403.89 90.18,407.42 90.27,413.86 90.36,380.87 90.45,407.55 90.54,408.77 90.63,422.66 90.72,410.4 90.82,418.38 90.91,405.83 91,407.65 91.09,400.45 91.18,425.22 91.27,401.11 91.36,414.47 91.45,402.32 91.54,423.16 91.63,409.62 91.72,417.6 91.81,407.54 91.9,410.71 91.99,405.5 92.08,417.03 92.17,408.53 92.26,418.8 92.35,396.77 92.44,406.94 92.53,398.17 92.62,418.16 92.71,418.08 92.8,420.24 92.89,400.92 92.98,413.89 93.07,399.93 93.16,399.4 93.25,404.49 93.34,414.08 93.44,392.26 93.53,416.71 93.62,382.88 93.71,425.53 93.8,403.37 93.89,414.95 93.98,401.54 94.07,411.9 94.16,410.5 94.25,437.89 94.34,396.57 94.43,411.12 94.52,406.22 94.61,424.81 94.7,409.76 94.79,422.61 94.88,405.99 94.97,397.67 95.06,434.94 95.15,417.47 95.24,399.18 95.33,411.8 95.42,435.64 95.51,413.27 95.6,412.62 95.69,413.9 95.78,393.19 95.87,398.15 95.96,405.05 96.06,411.11 96.15,409.58 96.24,415.02 96.33,405.68 96.42,410.78 96.51,427.47 96.6,395.93 96.69,408.9 96.78,402.64 96.87,409.98 96.96,417.81 97.05,423.44 97.14,407.9 97.23,399.29 97.32,420.16 97.41,409.28 97.5,406 97.59,404.39 97.68,417.92 97.77,372.11 97.86,411.42 97.95,397.03 98.04,432.31 98.13,414.73 98.22,410.33 98.31,397.38 98.4,428.78 98.49,402.73 98.58,384.41 98.67,407.75 98.77,407.21 98.86,401.67 98.95,413.49 99.04,404.6 99.13,426.62 99.22,408.06 99.31,410.5 99.4,457.67 99.49,418.09 99.58,406.12 99.67,415.43 99.76,390.26 99.85,395.32 99.94,400.17 100.03,394.75 100.12,393.21 100.21,424.36 100.3,408.92 100.39,407.65 100.48,412.3 100.57,411.93 100.66,409.64 100.75,382.75 100.84,363.83 100.93,412.4 101.02,418.71 101.11,412.06 101.2,392.95 101.29,404.38 101.39,410.06 101.48,412.05 101.57,395.46 101.66,418.84 101.75,389.62 101.84,411.38 101.93,415.4 102.02,438.08 102.11,418.7 102.2,429.73 102.29,394.75 102.38,411.8 102.47,410.58 102.56,426.39 102.65,396.04 102.74,415.26 102.83,394.4 102.92,427.61 103.01,382.3 103.1,417.27 103.19,442.65 103.28,403.19 103.37,398.44 103.46,419.27 103.55,408.28 103.64,408.43 103.73,408.9 103.82,416.54 103.91,419.6 104.01,418.47 104.1,410.09 104.19,413.2 104.28,407.25 104.37,414.79 104.46,395.36 104.55,423.08 104.64,387.94 104.73,397.06 104.82,403.89 104.91,415.91 105,415.3 105.09,416.22 105.18,415.64 105.27,422.74 105.36,426.46 105.45,424.53 105.54,410.05 105.63,449.19 105.72,421.67 105.81,414.97 105.9,410.06 105.99,423.51 106.08,409.24 106.17,416.47 106.26,407.54 106.35,408.4 106.44,412.15 106.53,389.25 106.62,407.99 106.72,412.41 106.81,395.35 106.9,413.52 106.99,404.71 107.08,407.08 107.17,410.44 107.26,381.12 107.35,410.59 107.44,414.51 107.53,421.59 107.62,420.39 107.71,409.04 107.8,418.61 107.89,398.51 107.98,407.29 108.07,416.69 108.16,440.04 108.25,437.73 108.34,411.54 108.43,426.36 108.52,413.86 108.61,409.1 108.7,442.7 108.79,370.7 108.88,401.21 108.97,414.71 109.06,407.96 109.15,402.92 109.24,408.42 109.34,407.88 109.43,456.92 109.52,419.55 109.61,414.14 109.7,408.09 109.79,444.8 109.88,419.23 109.97,414 110.06,408.2 110.15,412.36 110.24,378.98 110.33,456.85 110.42,424.15 110.51,411.7 110.6,395.32 110.69,401.48 110.78,431.39 110.87,413.14 110.96,396.69 111.05,407.76 111.14,410.78 111.23,416.69 111.32,419.54 111.41,423.32 111.5,402.4 111.59,427 111.68,391.4 111.77,422.93 111.86,406.59 111.95,399.86 112.05,415.81 112.14,427.11 112.23,409.15 112.32,434.76 112.41,410.93 112.5,411.54 112.59,420.26 112.68,413.86 112.77,398.75 112.86,423.74 112.95,409.29 113.04,408.05 113.13,405.5 113.22,412.88 113.31,386.13 113.4,401.04 113.49,368.83 113.58,425.81 113.67,407.92 113.76,414.97 113.85,410.58 113.94,418.16 114.03,410.51 114.12,415.25 114.21,410.63 114.3,410.48 114.39,395.19 114.48,415.15 114.57,404.04 114.67,411.46 114.76,403.03 114.85,423.03 114.94,404.54 115.03,420.01 115.12,413.22 115.21,416.58 115.3,392.04 115.39,435.74 115.48,416.35 115.57,409.35 115.66,394.71 115.75,399.08 115.84,425.8 115.93,410.01 116.02,414.98 116.11,435.03 116.2,387.85 116.29,414.56 116.38,405.52 116.47,419.06 116.56,426.97 116.65,433.23 116.74,402.45 116.83,414.11 116.92,412.6 117.01,417.61 117.1,399.92 117.19,410.85 117.29,411.53 117.38,417.93 117.47,400.93 117.56,412.45 117.65,404.85 117.74,412.18 117.83,428.27 117.92,394.53 118.01,420.31 118.1,412.1 118.19,387.05 118.28,413.81 118.37,411.02 118.46,438.46 118.55,406.88 118.64,402.74 118.73,412.32 118.82,368.4 118.91,406.94 119,427.52 119.09,407.05 119.18,446.09 119.27,410.02 119.36,428.26 119.45,390.23 119.54,426.59 119.63,405.54 119.72,416.52 119.81,387.7 119.9,411.22 120,390.28 120.09,420.06 120.18,418.05 120.27,419.4 120.36,401.49 120.45,389.75 120.54,418.85 120.63,414.33 120.72,365.34 120.81,411.93 120.9,403.16 120.99,408.7 121.08,409.08 121.17,399.33 121.26,409.19 121.35,398.88 121.44,406.15 121.53,396.35 121.62,408.39 121.71,409.98 121.8,428.48 121.89,430.58 121.98,393.85 122.07,422.97 122.16,404.95 122.25,417.27 122.34,407.39 122.43,431.54 122.52,410.7 122.62,424.31 122.71,410.06 122.8,399.19 122.89,396.94 122.98,414.6 123.07,410.3 123.16,411.14 123.25,408.01 123.34,415.4 123.43,411.36 123.52,386.61 123.61,401.33 123.7,419.23 123.79,423.89 123.88,423.56 123.97,425.34 124.06,417.44 124.15,407.66 124.24,413.1 124.33,404.7 124.42,411.09 124.51,400.11 124.6,412.52 124.69,397.59 124.78,416.82 124.87,429.62 124.96,403.74 125.05,407.79 125.14,434.05 125.24,405.56 125.33,411.7 125.42,406.93 125.51,426.61 125.6,419.59 125.69,410.8 125.78,421.35 125.87,422.47 125.96,381.87 126.05,419.57 126.14,408.3 126.23,392.6 126.32,409.9 126.41,408.57 126.5,406.8 126.59,405.67 126.68,398.75 126.77,413.41 126.86,418.6 126.95,422.57 127.04,399.08 127.13,414.67 127.22,400.72 127.31,388.16 127.4,427.52 127.49,414.82 127.58,405.32 127.67,430.02 127.76,406.72 127.85,406.69 127.95,397.81 128.04,421.42 128.13,402.2 128.22,405.8 128.31,389.27 128.4,422.03 128.49,407.64 128.58,396.7 128.67,406.43 128.76,432.73 128.85,408.95 128.94,410.24 129.03,393.87 129.12,415.56 129.21,408.16 129.3,413.39 129.39,428.71 129.48,413.42 129.57,414.16 129.66,435.63 129.75,410.68 129.84,414.33 129.93,408.37 130.02,410.73 130.11,408.82 130.2,442.82 130.29,395.45 130.38,416.02 130.47,407.5 130.57,410.24 130.66,404.91 130.75,391.01 130.84,410.02 130.93,420.28 131.02,401.32 131.11,411.01 131.2,416.96 131.29,418.05 131.38,380.28 131.47,423.86 131.56,409.91 131.65,412.28 131.74,406.4 131.83,427.55 131.92,405.17 132.01,425.7 132.1,404.59 132.19,424.68 132.28,421.37 132.37,411.32 132.46,404.54 132.55,411.5 132.64,410.25 132.73,411.26 132.82,407.04 132.91,418.93 133,404.73 133.09,417.27 133.19,418.08 133.28,418.81 133.37,405.75 133.46,418.02 133.55,398.04 133.64,415.1 133.73,383.61 133.82,405.6 133.91,419.23 134,431.28 134.09,408.93 134.18,411.81 134.27,421.18 134.36,415.4 134.45,366.37 134.54,422.66 134.63,409.37 134.72,422.5 134.81,399.45 134.9,413.92 134.99,402.3 135.08,405.08 135.17,428.69 135.26,410.55 135.35,416.16 135.44,412.3 135.53,412.86 135.62,404.28 135.71,415.84 135.8,392.48 135.9,410.45 135.99,430.94 136.08,408.96 136.17,413.29 136.26,378.42 136.35,419.7 136.44,406.66 136.53,454.87 136.62,408.26 136.71,415.98 136.8,372.46 136.89,443.57 136.98,422.11 137.07,407.65 137.16,389.73 137.25,417.61 137.34,410.26 137.43,426.62 137.52,400.26 137.61,412.47 137.7,410.46 137.79,415.86 137.88,407.4 137.97,414.7 138.06,401.07 138.15,413.37 138.24,374.36 138.33,438.89 138.42,408.47 138.52,414.97 138.61,384.95 138.7,443.28 138.79,410.24 138.88,409.12 138.97,412.03 139.06,413.33 139.15,395.86 139.24,432.64 139.33,396.38 139.42,434.63 139.51,410.5 139.6,402.12 139.69,400.98 139.78,411.45 139.87,429.37 139.96,414.92 140.05,391.51 140.14,435.2 140.23,384.2 140.32,414.72 140.41,400.32 140.5,420.02 140.59,407.28 140.68,416.28 140.77,408.27 140.86,410.77 140.95,386.1 141.04,406.14 141.14,403.68 141.23,412.94 141.32,409.23 141.41,392.14 141.5,413.24 141.59,439.96 141.68,405.89 141.77,448.65 141.86,421.98 141.95,417.95 142.04,407.25 142.13,441.26 142.22,398.95 142.31,413.94 142.4,405.42 142.49,413.63 142.58,409.16 142.67,416.42 142.76,418.18 142.85,406.35 142.94,393.37 143.03,413.43 143.12,399.38 143.21,416.15 143.3,387.19 143.39,419.68 143.48,437.25 143.57,417.59 143.66,410.91 143.75,410.8 143.85,409.98 143.94,411.68 144.03,430.98 144.12,420.85 144.21,404.56 144.3,418.82 144.39,449.64 144.48,406.87 144.57,406.85 144.66,410.79 144.75,412.04 144.84,408.09 144.93,410.77 145.02,419.6 145.11,431.34 145.2,415.34 145.29,408.57 145.38,401.98 145.47,400.51 145.56,417.12 145.65,409.09 145.74,431.24 145.83,408.33 145.92,415.65 146.01,408.91 146.1,444.22 146.19,397.9 146.28,407 146.37,424.41 146.47,411.02 146.56,403.86 146.65,421.88 146.74,402.77 146.83,427.21 146.92,431.51 147.01,420.02 147.1,411.9 147.19,398.87 147.28,411.41 147.37,408.72 147.46,388.94 147.55,451.43 147.64,425.1 147.73,412.32 147.82,431.88 147.91,419.34 148,416.29 148.09,425.34 148.18,414.91 148.27,413.33 148.36,380.6 148.45,417.12 148.54,402.87 148.63,414.22 148.72,389.32 148.81,414.96 148.9,417.64 148.99,423.07 149.09,409.95 149.18,421.2 149.27,454 149.36,420.33 149.45,395.81 149.54,420.47 149.63,398.56 149.72,412.69 149.81,419.8 149.9,412.98 149.99,403.7 150.08,431.58 150.17,369.43 150.26,409.53 150.35,414.12 150.44,411.6 150.53,396.75 150.62,410.13 150.71,387.63 150.8,424.09 150.89,399.71 150.98,420.16 151.07,392.05 151.16,414.2 151.25,404.47 151.34,412.2 151.43,398.96 151.52,413.42 151.61,415.3 151.7,426.23 151.8,410.37 151.89,397.93 151.98,406.66 152.07,443.65 152.16,409.61 152.25,442.93 152.34,396.04 152.43,415.04 152.52,409.73 152.61,408.78 152.7,407.7 152.79,415.09 152.88,379.49 152.97,415.39 153.06,408.38 153.15,425.71 153.24,446.3 153.33,423.68 153.42,408.87 153.51,408.67 153.6,402.61 153.69,453.73 153.78,394.58 153.87,414.65 153.96,406.33 154.05,414.91 154.14,396.9 154.23,399.5 154.32,400.84 154.42,419.89 154.51,441.1 154.6,418.49 154.69,405.49 154.78,410.19 154.87,406.27 154.96,411.96 155.05,409.87 155.14,409.52 155.23,414.64 155.32,413.94 155.41,391.13 155.5,453.62 155.59,403.13 155.68,426 155.77,436.41 155.86,419.61 155.95,407.65 156.04,412.25 156.13,407.31 156.22,422.21 156.31,400.77 156.4,434.21 156.49,428.79 156.58,410.4 156.67,410.92 156.76,421.25 156.85,402.08 156.94,415.94 157.04,402.05 157.13,425.07 157.22,403.57 157.31,418.33 157.4,409.17 157.49,410.05 157.58,404.73 157.67,400.61 157.76,422.32 157.85,416.02 157.94,423.31 158.03,413.86 158.12,381.12 158.21,440.61 158.3,408.72 158.39,421.51 158.48,411.86 158.57,380.38 158.66,409.77 158.75,419.68 158.84,409.35 158.93,420.32 159.02,408.03 159.11,410.32 159.2,430.65 159.29,415.58 159.38,410.36 159.47,420.15 159.56,423.53 159.65,425.24 159.75,402.45 159.84,418.39 159.93,407.67 160.02,408.13 160.11,415.86 160.2,421.07 160.29,384.58 160.38,413.76 160.47,406.12 160.56,410.96 160.65,409.04 160.74,443.48 160.83,398.49 160.92,408.91 161.01,401.71 161.1,415.55 161.19,409.07 161.28,420.77 161.37,410.18 161.46,411.11 161.55,407.67 161.64,415.38 161.73,393.98 161.82,423.46 161.91,391.41 162,397.11 162.09,447.44 162.18,382.14 162.27,394.18 162.37,419.39 162.46,401.28 162.55,407.34 162.64,395.94 162.73,412.55 162.82,389.88 162.91,413.55 163,417.66 163.09,432.07 163.18,404.06 163.27,404.89 163.36,397.15 163.45,417.63 163.54,405.49 163.63,421.91 163.72,405.44 163.81,411.77 163.9,406.8 163.99,418.31 164.08,409.11 164.17,431.84 164.26,407.39 164.35,415.84 164.44,426.37 164.53,400.12 164.62,410.42 164.71,412.25 164.8,402.88 164.89,409.55 164.98,411.81 165.08,412.86 165.17,411.98 165.26,416.1 165.35,403.85 165.44,417.23 165.53,409.5 165.62,410.82 165.71,401.63 165.8,411.07 165.89,415.24 165.98,413.98 166.07,406.92 166.16,413.57 166.25,407.86 166.34,407.08 166.43,410.23 166.52,415.68 166.61,403.69 166.7,415.49 166.79,422.38 166.88,394.2 166.97,411.46 167.06,406.12 167.15,397.94 167.24,422.27 167.33,387.07 167.42,414.58 167.51,393.76 167.6,406.87 167.7,415.84 167.79,429.55 167.88,416.33 167.97,417.12 168.06,410.17 168.15,420.27 168.24,409.85 168.33,412.47 168.42,404.42 168.51,417.01 168.6,405.05 168.69,402.37 168.78,424.14 168.87,413.82 168.96,400.19 169.05,409.89 169.14,400.42 169.23,419.62 169.32,407.87 169.41,415.03 169.5,404.33 169.59,420.13 169.68,396.51 169.77,412.68 169.86,423.63 169.95,405.24 170.04,403.74 170.13,417.69 170.22,409.19 170.32,413.35 170.41,393.03 170.5,413.45 170.59,405.75 170.68,397.83 170.77,410.4 170.86,425.84 170.95,385.86 171.04,416.31 171.13,413.69 171.22,414.64 171.31,387.55 171.4,410.82 171.49,403.64 171.58,423.57 171.67,390.36 171.76,445.35 171.85,436.75 171.94,399.12 172.03,411.1 172.12,406.43 172.21,409.03 172.3,411.21 172.39,413.01 172.48,417.24 172.57,440.23 172.66,401.2 172.75,399.63 172.84,421.22 172.93,406.4 173.03,415.93 173.12,395.95 173.21,415.28 173.3,393.43 173.39,409.56 173.48,412.28 173.57,416.93 173.66,404.53 173.75,412.22 173.84,410.1 173.93,438.53 174.02,405.95 174.11,411.97 174.2,401.56 174.29,396.76 174.38,408.61 174.47,400.87 174.56,410.62 174.65,398.61 174.74,412.4 174.83,424.21 174.92,403.68 175.01,424.22 175.1,399.66 175.19,394.11 175.28,398.2 175.37,418.34 175.46,402.02 175.55,390.47 175.65,414.12 175.74,410.88 175.83,392.07 175.92,415.05 176.01,369.02 176.1,435.4 176.19,398.75 176.28,432.11 176.37,410.59 176.46,422.83 176.55,407.14 176.64,411.33 176.73,414.12 176.82,412.77 176.91,406.72 177,416.22 177.09,398.07 177.18,418.12 177.27,424.67 177.36,422.71 177.45,400.72 177.54,404.84 177.63,390.69 177.72,406.15 177.81,406.59 177.9,413.95 177.99,407.57 178.08,403.78 178.17,409.23 178.27,452.25 178.36,417.52 178.45,412.17 178.54,400.34 178.63,426.36 178.72,406.05 178.81,414.43 178.9,403.28 178.99,431.77 179.08,421.07 179.17,438.15 179.26,413.91 179.35,412.18 179.44,412.74 179.53,417.45 179.62,435.22 179.71,410.79 179.8,410.29 179.89,414.19 179.98,404.38 180.07,414.61 180.16,382.41 180.25,399.28 180.34,410.14 180.43,419.25 180.52,399.49 180.61,411.94 180.7,412.75 180.79,414.23 180.88,408.12 180.98,410.44 181.07,387.98 181.16,413.15 181.25,422.03 181.34,411.13 181.43,408.56 181.52,417.32 181.61,413.82 181.7,423.17 181.79,411.63 181.88,382.13 181.97,414.22 182.06,408.06 182.15,375.33 182.24,434.51 182.33,407.98 182.42,411.94 182.51,418.35 182.6,411 182.69,407.65 182.78,441.28 182.87,402.33 182.96,419.3 183.05,396.27 183.14,400.89 183.23,405.01 183.32,442.22 183.41,418.2 183.5,417.79 183.6,397.85 183.69,405.22 183.78,379.67 183.87,421.38 183.96,410.58 184.05,451.9 184.14,409.3 184.23,421.35 184.32,399.15 184.41,411.41 184.5,394.33 184.59,413.39 184.68,396.43 184.77,409.05 184.86,404.54 184.95,416.3 185.04,407.61 185.13,429.65 185.22,385.41 185.31,411.16 185.4,413.56 185.49,413.29 185.58,410.43 185.67,413.77 185.76,404.98 185.85,412.76 185.94,402.58 186.03,432.71 186.12,404.6 186.22,411.13 186.31,430.48 186.4,426.28 186.49,414.37 186.58,427.96 186.67,408.17 186.76,426.9 186.85,406.3 186.94,421.07 187.03,393.19 187.12,402.66 187.21,415.16 187.3,408.48 187.39,410.25 187.48,422.2 187.57,405.48 187.66,399.03 187.75,408.89 187.84,424.77 187.93,404.26 188.02,431.93 188.11,404.66 188.2,414.02 188.29,394.63 188.38,413.51 188.47,405.25 188.56,417.41 188.65,394.32 188.74,405.14 188.83,429.47 188.93,410.74 189.02,425.95 189.11,408.63 189.2,410.61 189.29,396.74 189.38,417.15 189.47,419.42 189.56,407.57 189.65,451.56 189.74,403.8 189.83,414.82 189.92,416.6 190.01,415.68 190.1,401.54 190.19,417.58 190.28,391.79 190.37,433.68 190.46,434.68 190.55,411.49 190.64,410.26 190.73,409.48 190.82,431.34 190.91,413.25 191,381.27 191.09,413.45 191.18,409.98 191.27,435.12 191.36,408.38 191.45,412.78 191.55,407.5 191.64,410.78 191.73,408.14 191.82,421.19 191.91,404.81 192,411.92 192.09,404.29 192.18,413.94 192.27,405.85 192.36,420.47 192.45,406.55 192.54,407.69 192.63,401.45 192.72,411.55 192.81,418.91 192.9,429.46 192.99,391.25 193.08,411.51 193.17,410.36 193.26,396.27 193.35,382.95 193.44,409.03 193.53,416 193.62,411.9 193.71,402.09 193.8,426.53 193.89,407.69 193.98,414.7 194.07,408.43 194.17,403.53 194.26,407.15 194.35,424.28 194.44,414.46 194.53,416.58 194.62,409.35 194.71,416.19 194.8,396.56 194.89,405.63 194.98,410.2 195.07,415.75 195.16,407.99 195.25,419.91 195.34,411.35 195.43,416.05 195.52,411.95 195.61,414.19 195.7,391.02 195.79,410.95 195.88,408.42 195.97,410.81 196.06,404.07 196.15,414.77 196.24,397.04 196.33,426.79 196.42,391.54 196.51,406.42 196.6,410.38 196.69,416.6 196.78,408.4 196.88,416.07 196.97,393.64 197.06,418.18 197.15,406.39 197.24,393.73 197.33,408.83 197.42,424.74 197.51,406.22 197.6,410.55 197.69,398.01 197.78,413.08 197.87,407.31 197.96,403.93 198.05,402.08 198.14,409.83 198.23,387.29 198.32,403.97 198.41,425.82 198.5,411.22 198.59,408.5 198.68,415.3 198.77,409.1 198.86,402.51 198.95,398.68 199.04,424.48 199.13,396.36 199.22,409.02 199.31,424.86 199.4,414.65 199.5,398.03 199.59,414.56 199.68,407.46 199.77,410 199.86,435.12 199.95,410.86 200.04,408.96 200.13,420.59 200.22,408.24 200.31,437.63 200.4,409.04 200.49,411.75 200.58,408.49 200.67,412.25 200.76,370.51 200.85,409.87 200.94,414.53 201.03,414.19 201.12,420.99 201.21,413.9 201.3,413.61 201.39,415.03 201.48,406.39 201.57,419.65 201.66,408.35 201.75,402.25 201.84,415.32 201.93,410.94 202.02,405.86 202.12,415.6 202.21,403.28 202.3,420.2 202.39,448.27 202.48,411.47 202.57,414.25 202.66,417.38 202.75,410.08 202.84,429.68 202.93,412.03 203.02,424.78 203.11,409.41 203.2,410.88 203.29,401.83 203.38,409.97 203.47,421.35 203.56,403.14 203.65,450.71 203.74,423.59 203.83,416.52 203.92,427.58 204.01,389.39 204.1,385.86 204.19,433.83 204.28,371.27 204.37,399.83 204.46,402.38 204.55,400.6 204.64,429.34 204.73,384.75 204.83,420.37 204.92,395.61 205.01,440.02 205.1,397.11 205.19,421.51 205.28,414.15 205.37,408.92 205.46,401.57 205.55,414.2 205.64,395.83 205.73,422.49 205.82,423.61 205.91,417.96 206,407.13 206.09,425.25 206.18,400.49 206.27,414.02 206.36,409 206.45,370.86 206.54,396.52 206.63,411.1 206.72,410.55 206.81,413.54 206.9,392.02 206.99,416.48 207.08,405.16 207.17,411.39 207.26,405.2 207.35,411.86 207.45,409.73 207.54,423.52 207.63,404.9 207.72,387.63 207.81,393.12 207.9,383.56 207.99,407.79 208.08,424.1 208.17,415.4 208.26,438.36 208.35,392.39 208.44,387.25 208.53,411.84 208.62,413.3 208.71,402.39 208.8,394.11 208.89,403.32 208.98,413.31 209.07,407.34 209.16,413.14 209.25,412.07 209.34,411.77 209.43,381.86 209.52,414.18 209.61,398.08 209.7,431.52 209.79,408.4 209.88,420.04 209.97,429.16 210.07,419.3 210.16,402.35 210.25,415.99 210.34,419.32 210.43,399.24 210.52,399.97 210.61,414.55 210.7,420.74 210.79,435.64 210.88,411.21 210.97,407.01 211.06,405.38 211.15,431.78 211.24,406.4 211.33,411.88 211.42,389.86 211.51,411.5 211.6,402.9 211.69,407.49 211.78,406.16 211.87,407.39 211.96,405.54 212.05,401.66 212.14,407.4 212.23,410.04 212.32,413.94 212.41,395.79 212.5,409.48 212.59,428.4 212.68,410.11 212.78,414.98 212.87,393.98 212.96,398.37 213.05,410.28 213.14,444.24 213.23,409.61 213.32,415.45 213.41,409.92 213.5,420.13 213.59,400.76 213.68,413.73 213.77,412.45 213.86,405.66 213.95,410.06 214.04,419.66 214.13,404.22 214.22,425.42 214.31,383.64 214.4,417.83 214.49,381.91 214.58,411.33 214.67,404.59 214.76,413.88 214.85,406.47 214.94,413.35 215.03,403 215.12,417.68 215.21,409.9 215.3,403.69 215.4,398.96 215.49,412.78 215.58,428.28 215.67,432.21 215.76,409.66 215.85,388.26 215.94,411.89 216.03,415.16 216.12,435.91 216.21,414.21 216.3,381.75 216.39,415.73 216.48,400.4 216.57,427.77 216.66,400.48 216.75,406.72 216.84,404.13 216.93,411.85 217.02,442.14 217.11,411.26 217.2,410.67 217.29,429.05 217.38,405.37 217.47,407.75 217.56,408.27 217.65,398.05 217.74,401.09 217.83,418.67 217.92,396.68 218.02,427.32 218.11,410.42 218.2,410.95 218.29,410.24 218.38,449.82 218.47,407.99 218.56,406.93 218.65,406.78 218.74,425.64 218.83,399.16 218.92,421.87 219.01,407.47 219.1,416.46 219.19,408.45 219.28,432.29 219.37,400.85 219.46,411.66 219.55,396.02 219.64,414.8 219.73,395.42 219.82,421.05 219.91,411.61 220,410 220.09,409.72 220.18,412.28 220.27,384.3 220.36,411.26 220.45,409.45 220.54,398.35 220.63,408.09 220.73,385.43 220.82,428.7 220.91,404.15 221,411 221.09,421.2 221.18,417.07 221.27,410.72 221.36,399.12 221.45,411.44 221.54,399.34 221.63,415.25 221.72,401.11 221.81,421.59 221.9,404.97 221.99,404.72 222.08,400.99 222.17,390.46 222.26,409.72 222.35,415.18 222.44,401.09 222.53,405.86 222.62,371.83 222.71,418.14 222.8,399.09 222.89,400.29 222.98,407.35 223.07,416.52 223.16,418.3 223.25,418.29 223.35,408.94 223.44,429.4 223.53,405.48 223.62,403.39 223.71,400.84 223.8,400.97 223.89,403.94 223.98,418.53 224.07,422.92 224.16,413.7 224.25,405.24 224.34,427.52 224.43,396.06 224.52,417.05 224.61,406.67 224.7,415.78 224.79,402.13 224.88,387.96 224.97,403.32 225.06,411.22 225.15,409.27 225.24,398.57 225.33,419.59 225.42,430.9 225.51,403.84 225.6,412.28 225.69,407.75 225.78,415.73 225.87,401.36 225.96,416.02 226.06,415.43 226.15,422.43 226.24,413.24 226.33,411.05 226.42,405.02 226.51,433.89 226.6,372.08 226.69,411.23 226.78,406.13 226.87,414.02 226.96,409.59 227.05,379.43 227.14,410.42 227.23,407.96 227.32,411.03 227.41,411.52 227.5,416.71 227.59,426.87 227.68,405.59 227.77,414.01 227.86,419.4 227.95,420.2 228.04,419.43 228.13,413.01 228.22,401.28 228.31,400.57 228.4,396.92 228.49,421.23 228.58,431.33 228.68,417.42 228.77,409.05 228.86,420.39 228.95,413.59 229.04,412.97 229.13,408.3 229.22,449.17 229.31,398.05 229.4,422.85 229.49,394.09 229.58,411.36 229.67,409.55 229.76,413.99 229.85,403.34 229.94,413.8 230.03,415.48 230.12,411.96 230.21,422.88 230.3,415.98 230.39,390.72 230.48,438.27 230.57,385.38 230.66,411.17 230.75,443.01 230.84,420.82 230.93,403.89 231.02,428.37 231.11,412.7 231.2,414.03 231.3,405.05 231.39,414 231.48,408.72 231.57,429.39 231.66,409.31 231.75,416.27 231.84,408.04 231.93,435.44 232.02,405.4 232.11,433.22 232.2,406.22 232.29,411.08 232.38,403.52 232.47,420.7 232.56,406.18 232.65,416.22 232.74,405.14 232.83,411.29 232.92,392.23 233.01,413.12 233.1,399.06 233.19,409.47 233.28,401.31 233.37,426.9 233.46,414.01 233.55,424.16 233.64,405.71 233.73,402.07 233.82,403.42 233.91,420.46 234.01,409.22 234.1,422.38 234.19,411.6 234.28,397.39 234.37,391.91 234.46,391.46 234.55,403.42 234.64,413.43 234.73,405.14 234.82,379.39 234.91,391.08 235,411.4 235.09,409.43 235.18,412.22 235.27,400.04 235.36,427.4 235.45,409.99 235.54,417.25 235.63,416.21 235.72,411.48 235.81,422.03 235.9,405.15 235.99,401.81 236.08,405.09 236.17,400.38 236.26,411.8 236.35,445.51 236.44,440.01 236.53,409.51 236.63,414.61 236.72,410.29 236.81,424.25 236.9,410.01 236.99,415.63 237.08,408.21 237.17,415.09 237.26,410.93 237.35,435.44 237.44,409.86 237.53,412.71 237.62,386.95 237.71,421.25 237.8,407.14 237.89,416.87 237.98,401.81 238.07,414.27 238.16,413.11 238.25,421.88 238.34,406.22 238.43,411.44 238.52,399.11 238.61,411.83 238.7,409.29 238.79,421.27 238.88,389.29 238.97,404.22 239.06,413.44 239.15,412.52 239.25,397.36 239.34,419.29 239.43,382.03 239.52,423.89 239.61,405.86 239.7,409.79 239.79,407.22 239.88,406.03 239.97,405.09 240.06,411.94 240.15,407.19 240.24,410.07 240.33,396.85 240.42,414.71 240.51,427.83 240.6,424.05 240.69,408.25 240.78,417.86 240.87,431.28 240.96,412.28 241.05,404.04 241.14,421.24 241.23,403.95 241.32,412.54 241.41,412.33 241.5,413.4 241.59,394.49 241.68,412.42 241.77,408.7 241.86,414.75 241.96,409.75 242.05,414.74 242.14,409.54 242.23,401.88 242.32,420.03 242.41,421.6 242.5,418.15 242.59,410.72 242.68,417.11 242.77,411.46 242.86,404.25 242.95,429.54 243.04,401.78 243.13,417.71 243.22,415.39 243.31,411.62 243.4,387.02 243.49,406.52 243.58,417.41 243.67,418.25 243.76,399.53 243.85,414.4 243.94,405.34 244.03,432.51 244.12,405.3 244.21,426.68 244.3,409.22 244.39,409.5 244.48,400.82 244.58,426.51 244.67,407.66 244.76,406.23 244.85,402.6 244.94,413.31 245.03,408.49 245.12,414.96 245.21,420.35 245.3,411.97 245.39,409.19 245.48,409.37 245.57,409.6 245.66,414.74 245.75,386.83 245.84,413.22 245.93,390.08 246.02,400.73 246.11,405.24 246.2,425.69 246.29,403.17 246.38,411.81 246.47,416.81 246.56,424 246.65,401.1 246.74,436.91 246.83,402.42 246.92,403.73 247.01,409 247.1,399.44 247.2,411.33 247.29,411.32 247.38,398.12 247.47,410.82 247.56,404.5 247.65,412.07 247.74,401.98 247.83,396.88 247.92,404.91 248.01,414.66 248.1,392.86 248.19,401.38 248.28,400.4 248.37,412.76 248.46,418.96 248.55,409.5 248.64,406.82 248.73,412.54 248.82,372.86 248.91,421.45 249,405.6 249.09,400.76 249.18,420.5 249.27,415.13 249.36,402.17 249.45,418.76 249.54,409.34 249.63,425.74 249.72,411.19 249.81,419.8 249.91,406.53 250,411.71 250.09,429.75 250.18,407.98 250.27,397.39 250.36,410.71 250.45,403.81 250.54,424.17 250.63,407.06 250.72,418.94 250.81,429.34 250.9,414.69 250.99,411.97 251.08,405.09 251.17,399.75 251.26,412.99 251.35,399.03 251.44,420.78 251.53,408.69 251.62,416.24 251.71,406.26 251.8,415.02 251.89,415.75 251.98,404.59 252.07,428.6 252.16,438.22 252.25,405.98 252.34,419.95 252.43,409.48 252.53,401.05 252.62,407.58 252.71,414.77 252.8,403.61 252.89,415.37 252.98,409.76 253.07,413.18 253.16,410.28 253.25,395.84 253.34,403.99 253.43,405.4 253.52,406.13 253.61,410.77 253.7,416.79 253.79,397.36 253.88,411.9 253.97,414.4 254.06,396.62 254.15,413.39 254.24,398.49 254.33,396.08 254.42,411.47 254.51,448.54 254.6,412.86 254.69,411.4 254.78,397.74 254.87,411.23 254.96,419.4 255.05,422.89 255.15,401.18 255.24,440.86 255.33,399.9 255.42,393.29 255.51,385.51 255.6,411.84 255.69,406.22 255.78,402.94 255.87,396.94 255.96,412.57 256.05,405.38 256.14,418.34 256.23,384.4 256.32,412.04 256.41,419.42 256.5,430.49 256.59,405.81 256.68,414.38 256.77,408.3 256.86,418.62 256.95,409.61 257.04,421.72 257.13,408.22 257.22,408.42 257.31,407.08 257.4,410.9 257.49,407.94 257.58,411.83 257.67,404.71 257.76,412.16 257.86,417.85 257.95,415.77 258.04,404.59 258.13,411.79 258.22,421.29 258.31,432.56 258.4,385.01 258.49,411.57 258.58,406.26 258.67,401.72 258.76,417.12 258.85,409.49 258.94,426.48 259.03,426.06 259.12,395.04 259.21,401.31 259.3,410.09 259.39,421.62 259.48,401.49 259.57,426.66 259.66,406.56 259.75,445.76 259.84,411.75 259.93,419.72 260.02,410.18 260.11,400.29 260.2,384.31 260.29,432.12 260.38,410.7 260.48,419.87 260.57,405.97 260.66,397.17 260.75,401.95 260.84,414.93 260.93,403.71 261.02,420.83 261.11,410.59 261.2,411.41 261.29,405.01 261.38,416.09 261.47,430.04 261.56,413.53 261.65,408.93 261.74,409.41 261.83,416.67 261.92,413.05 262.01,400.38 262.1,413.4 262.19,406.55 262.28,405.53 262.37,427.29 262.46,411.18 262.55,407.26 262.64,418.27 262.73,406.49 262.82,413.87 262.91,424.04 263,412.43 263.1,415.06 263.19,427.15 263.28,407.99 263.37,420.09 263.46,401.53 263.55,416.6 263.64,407.11 263.73,399.57 263.82,425.82 263.91,410.05 264,399.85 264.09,432.71 264.18,428.32 264.27,419.49 264.36,418.75 264.45,415.52 264.54,414.47 264.63,422.05 264.72,403.1 264.81,405.08 264.9,409.49 264.99,412.79 265.08,410.66 265.17,437.46 265.26,395.21 265.35,416.64 265.44,410.41 265.53,416.08 265.62,407.78 265.71,425 265.81,406.18 265.9,393.93 265.99,398.72 266.08,372.86 266.17,408.66 266.26,413.84 266.35,407.07 266.44,411.58 266.53,410.4 266.62,413 266.71,416.08 266.8,410.22 266.89,372.86 266.98,412.93 267.07,405.74 267.16,412.51 267.25,406.33 267.34,418.11 267.43,407.34 267.52,425.58 267.61,409.77 267.7,413.68 267.79,405.68 267.88,411.74 267.97,414.08 268.06,393.02 268.15,383.26 268.24,390.66 268.33,402.48 268.43,417.46 268.52,399.17 268.61,426.84 268.7,409.85 268.79,399 268.88,410.79 268.97,411.58 269.06,445.28 269.15,397.01 269.24,415.83 269.33,448.54 269.42,426.84 269.51,417.93 269.6,383.04 269.69,412.82 269.78,407.37 269.87,426.69 269.96,407.98 270.05,442.29 270.14,407.37 270.23,448.54 270.32,403.27 270.41,416.16 270.5,423.86 270.59,443.16 270.68,413.91 270.77,411.96 270.86,406.01 270.95,413.07 271.05,398.51 271.14,388.05 271.23,396.78 271.32,380.9 271.41,397.68 271.5,411.65 271.59,404.24 271.68,417.19 271.77,414.2 271.86,403.16 271.95,404.96 272.04,397.26 272.13,401.2 272.22,426.08 272.31,406.1 272.4,409.59 272.49,408.92 272.58,435.31 272.67,397.36 272.76,440.89 272.85,412.76 272.94,418.12 273.03,405.62 273.12,411.57 273.21,426.13 273.3,372.86 273.39,417.2 273.48,421.45 273.57,402.1 273.66,410.15 273.76,406.65 273.85,430.12 273.94,413.59 274.03,412.03 274.12,405.36 274.21,420.73 274.3,429.09 274.39,406.35 274.48,398.56 274.57,413.76 274.66,390.39 274.75,417.81 274.84,409.45 274.93,412.11 275.02,421.92 275.11,418.89 275.2,406.87 275.29,414.91 275.38,396.47 275.47,416.1 275.56,410.21 275.65,420.87 275.74,399.05 275.83,412.36 275.92,392.37 276.01,425.35 276.1,407.01 276.19,419.75 276.28,408.03 276.38,411.17 276.47,407.97 276.56,409.37 276.65,372.86 276.74,408.89 276.83,385.58 276.92,419.98 277.01,407.16 277.1,408.33 277.19,400.43 277.28,412.93 277.37,395.25 277.46,405.77 277.55,410.93 277.64,427.15 277.73,402.22 277.82,414.38 277.91,422.71 278,416.13 278.09,430.39 278.18,413.33 278.27,397.33 278.36,406.5 278.45,401.7 278.54,412.22 278.63,421.85 278.72,412.26 278.81,394.7 278.9,408.75 278.99,409.15 279.09,411.21 279.18,383.75 279.27,437.04 279.36,405.8 279.45,395.66 279.54,401.68 279.63,401.74 279.72,419.76 279.81,416.43 279.9,448.23 279.99,413.12 280.08,408.8 280.17,417.45 280.26,424.36 280.35,414.75 280.44,435.8 280.53,413.7 280.62,426.77 280.71,408.2 280.8,409.05 280.89,407.72 280.98,399.58 281.07,414.64 281.16,386.68 281.25,422.66 281.34,402.74 281.43,417.6 281.52,428.86 281.61,416.72 281.71,426.9 281.8,416.5 281.89,395.7 281.98,408.41 282.07,412.74 282.16,417.17 282.25,392.57 282.34,411.1 282.43,398.8 282.52,419.81 282.61,389.31 282.7,419 282.79,407.79 282.88,425.75 282.97,411.23 283.06,424.16 283.15,407.65 283.24,417.12 283.33,396.55 283.42,412.93 283.51,385.85 283.6,413.11 283.69,428.4 283.78,381.27 283.87,416.62 283.96,426.34 284.05,402.76 284.14,420.91 284.23,422.45 284.33,401.91 284.42,392.79 284.51,415.4 284.6,380.08 284.69,412.34 284.78,400.14 284.87,406.97 284.96,402.17 285.05,430.35 285.14,398.72 285.23,410.7 285.32,430.27 285.41,421.65 285.5,404.6 285.59,407.72 285.68,412.79 285.77,412.62 285.86,410.48 285.95,404.6 286.04,392.82 286.13,414.16 286.22,410.07 286.31,421.74 286.4,412.59 286.49,411.89 286.58,406.4 286.67,416.51 286.76,413.81 286.85,420.22 286.94,392.07 287.04,415.07 287.13,413.62 287.22,412.25 287.31,409.13 287.4,435.65 287.49,401.75 287.58,403.15 287.67,406.72 287.76,409.3 287.85,409.73 287.94,408.62 288.03,421.57 288.12,408.6 288.21,405.52 288.3,408.73 288.39,411.61 288.48,431.2 288.57,403.05 288.66,414.5 288.75,411.7 288.84,406.01 288.93,409.14 289.02,399.36 289.11,401.62 289.2,415.98 289.29,396.57 289.38,421.59 289.47,387.29 289.56,413.69 289.66,406.98 289.75,407.73 289.84,413.42 289.93,442.81 290.02,417.68 290.11,413.02 290.2,397.17 290.29,412.4 290.38,397.17 290.47,432.31 290.56,407.75 290.65,411.78 290.74,401.72 290.83,412.12 290.92,405.54 291.01,418.46 291.1,406.09 291.19,430.86 291.28,399.18 291.37,411.66 291.46,402.77 291.55,424.59 291.64,400.03 291.73,398.25 291.82,405 291.91,420.02 292,393.45 292.09,408.7 292.18,413.13 292.28,418.24 292.37,418.34 292.46,410.84 292.55,408.85 292.64,391.24 292.73,388.75 292.82,397.81 292.91,418.99 293,414.64 293.09,406.91 293.18,412.45 293.27,408.98 293.36,428.85 293.45,405.29 293.54,392.38 293.63,404.88 293.72,434.18 293.81,402.41 293.9,411.39 293.99,410.36 294.08,417.1 294.17,396.72 294.26,412.19 294.35,404.04 294.44,406.11 294.53,407.22 294.62,403.45 294.71,408.98 294.8,417.93 294.89,414.83 294.99,421.13 295.08,401.1 295.17,436.44 295.26,406.08 295.35,409.89 295.44,387.49 295.53,411.03 295.62,400.26 295.71,426.19 295.8,415.27 295.89,412.77 295.98,429.09 296.07,410.57 296.16,412.45 296.25,411.48 296.34,410.64 296.43,414.55 296.52,410.44 296.61,411.05 296.7,423.81 296.79,416.3 296.88,391.41 296.97,411.29 297.06,409.22 297.15,448.54 297.24,394.07 297.33,423.51 297.42,405 297.51,412.86 297.61,427.72 297.7,406.08 297.79,399.27 297.88,418.28 297.97,409.83 298.06,413.77 298.15,400.95 298.24,404.49 298.33,424.65 298.42,403.48 298.51,404.9 298.6,424.15 298.69,406.43 298.78,413.9 298.87,404.67 298.96,411.93 299.05,401.52 299.14,413.77 299.23,418.21 299.32,414.28 299.41,407.02 299.5,411.13 299.59,410.5 299.68,410.73 299.77,406.42 299.86,432.37 299.95,409.04 300.04,448.54 300.13,407.18 300.23,414.15 300.32,385 300.41,419.23 300.5,372.86 300.59,417.4 300.68,412.78 300.77,412.72 300.86,398.37 300.95,416.98 301.04,427.45 301.13,422.3 301.22,411.47 301.31,419.73 301.4,391.34 301.49,410.97 301.58,413.51 301.67,377.66 301.76,409.52 301.85,418.01 301.94,402.59 302.03,419.95 302.12,385.96 302.21,411.13 302.3,425.18 302.39,424.28 302.48,411.4 302.57,413.22 302.66,411.1 302.75,419.36 302.84,415.32 302.94,428.44 303.03,398.23 303.12,410.73 303.21,414.14 303.3,413.3 303.39,410.1 303.48,412.47 303.57,402.26 303.66,410.71 303.75,392.3 303.84,414.43 303.93,407.59 304.02,418.89 304.11,410.32 304.2,416.97 304.29,405.7 304.38,420.97 304.47,395.61 304.56,412.64 304.65,393.76 304.74,419.29 304.83,409.17 304.92,431.58 305.01,401.47 305.1,415.84 305.19,407.11 305.28,407.31 305.37,408.87 305.46,414.91 305.56,424.95 305.65,418.27 305.74,407.21 305.83,411.19 305.92,409.77 306.01,412.46 306.1,407.03 306.19,410.77 306.28,408.17 306.37,424.35 306.46,409.72 306.55,433.3 306.64,402.5 306.73,409.51 306.82,404.44 306.91,398.01 307,406.54 307.09,423.43 307.18,405.21 307.27,421.23 307.36,408.27 307.45,411.68 307.54,399.81 307.63,426.3 307.72,423.88 307.81,403.36 307.9,401.51 307.99,416.36 308.08,381.02 308.18,417.9 308.27,406.46 308.36,393.41 308.45,396.75 308.54,422.69 308.63,407.52 308.72,419.3 308.81,405.62 308.9,419.62 308.99,423.02 309.08,426.85 309.17,405.21 309.26,411.86 309.35,403.54 309.44,408.61 309.53,406.15 309.62,397.21 309.71,412.21 309.8,417.46 309.89,401.31 309.98,425.45 310.07,410.49 310.16,415.43 310.25,385.86 310.34,417.68 310.43,407.72 310.52,417.94 310.61,394.54 310.7,407.51 310.79,418.77 310.89,404.33 310.98,404.07 311.07,420.87 311.16,407.64 311.25,412.66 311.34,412.56 311.43,412.62 311.52,410.53 311.61,410.29 311.7,409.04 311.79,415.24 311.88,384.27 311.97,427.07 312.06,419.55 312.15,411.45 312.24,405.9 312.33,408.74 312.42,409.72 312.51,429.52 312.6,401.97 312.69,411.03 312.78,412 312.87,448.54 312.96,407.67 313.05,417.19 313.14,396.29 313.23,411.31 313.32,401.36 313.41,410.98 313.51,416.47 313.6,411.87 313.69,376.59 313.78,418.47 313.87,410.58 313.96,406.3 314.05,410.55 314.14,411.9 314.23,409.18 314.32,413.59 314.41,448.46 314.5,431.84 314.59,403.32 314.68,407.7 314.77,398.68 314.86,417.36 314.95,401.04 315.04,417.51 315.13,403.67 315.22,415.08 315.31,402.15 315.4,403.55 315.49,372.86 315.58,420.4 315.67,405.05 315.76,448.54 315.85,409.9 315.94,430.71 316.03,406.31 316.13,412.03 316.22,407.2 316.31,417.64 316.4,409.38 316.49,413.69 316.58,403.5 316.67,426.51 316.76,403.08 316.85,414.79 316.94,400.6 317.03,411.74 317.12,408.06 317.21,416.6 317.3,405.23 317.39,417.05 317.48,414.6 317.57,409.37 317.66,410.7 317.75,420.37 317.84,389.46 317.93,415.08 318.02,432.92 318.11,394.18 318.2,448.34 318.29,422.87 318.38,406.59 318.47,372.86 318.56,414.27 318.65,411.95 318.74,408.54 318.84,408.51 318.93,404.27 319.02,419.45 319.11,403.08 319.2,413.77 319.29,403.2 319.38,438.52 319.47,412.13 319.56,425.93 319.65,409.53 319.74,423.62 319.83,412.24 319.92,399.06 320.01,416.63 320.1,421.71 320.19,433.15 320.28,408.93 320.37,401.21 320.46,421.22 320.55,417.34 320.64,411.92 320.73,413.96 320.82,422.76 320.91,407.76 321,399.72 321.09,397.95 321.18,400.24 321.27,413.57 321.36,406.59 321.46,401.76 321.55,409.32 321.64,415.92 321.73,434.22 321.82,426.25 321.91,411.75 322,410.54 322.09,418.42 322.18,379.08 322.27,421.71 322.36,414.39 322.45,417.18 322.54,416.8 322.63,423.78 322.72,402.12 322.81,419.75 322.9,408.85 322.99,410.11 323.08,410.45 323.17,441.79 323.26,400.27 323.35,425.47 323.44,435.66 323.53,417.24 323.62,410.03 323.71,434.13 323.8,399.48 323.89,414.56 323.98,404.87 324.08,413.4 324.17,400.51 324.26,391.36 324.35,413.33 324.44,415.25 324.53,404.75 324.62,409.14 324.71,405.67 324.8,419.88 324.89,407.18 324.98,423.93 325.07,403.41 325.16,406.48 325.25,405.53 325.34,420.12 325.43,410.29 325.52,434.35 325.61,405.81 325.7,420.79 325.79,433.42 325.88,411.61 325.97,418.76 326.06,408.41 326.15,408.8 326.24,417.74 326.33,423.52 326.42,416.18 326.51,412.44 326.6,402.73 326.69,408.28 326.79,383.66 326.88,415.77 326.97,422.98 327.06,413.09 327.15,415.98 327.24,411.95 327.33,430.75 327.42,385.55 327.51,407.41 327.6,407.88 327.69,426.3 327.78,399.73 327.87,416.93 327.96,406.74 328.05,419.63 328.14,408.47 328.23,418.55 328.32,400.25 328.41,428.46 328.5,405.92 328.59,408.35 328.68,415.81 328.77,413.45 328.86,398.99 328.95,421.02 329.04,411.85 329.13,411.05 329.22,398.38 329.31,416.12 329.41,400.86 329.5,425.28 329.59,409.3 329.68,421.75 329.77,402.19 329.86,416.93 329.95,402.68 330.04,414.61 330.13,406.76 330.22,412.9 330.31,408.87 330.4,408.02 330.49,406.46 330.58,413.9 330.67,405.2 330.76,413.76 330.85,406.84 330.94,427.68 331.03,407.71 331.12,410.76 331.21,406.43 331.3,409.12 331.39,411.53 331.48,416.09 331.57,410.31 331.66,419.43 331.75,408.49 331.84,413.94 331.93,407.57 332.03,400.56 332.12,414.37 332.21,432.27 332.3,392.28 332.39,410.61 332.48,412.14 332.57,414.94 332.66,412.8 332.75,404.13 332.84,412.49 332.93,413.72 333.02,400.83 333.11,423.7 333.2,430.06 333.29,443.72 333.38,389.91 333.47,404.6 333.56,399.24 333.65,446.47 333.74,405.39 333.83,413.33 333.92,409.89 334.01,414.63 334.1,403.34 334.19,400.58 334.28,409.96 334.37,419.18 334.46,382.34 334.55,419 334.64,421.91 334.74,415.04 334.83,394.34 334.92,437.2 335.01,378.82 335.1,411.65 335.19,407.67 335.28,408.74 335.37,414.47 335.46,421.8 335.55,405.71 335.64,412.68 335.73,419.79 335.82,427.52 335.91,391.45 336,426.98" fill="none" stroke="#b8b8b8" stroke-width="0.25" stroke-linejoin="round" />
<polyline points="47,410.31 47.12,421.33 47.25,420.17 47.37,417 47.49,439 47.62,416.1 47.74,400.76 47.86,416.07 47.99,408.5 48.11,396.15 48.23,415.3 48.36,411.04 48.48,410.46 48.6,408.21 48.73,410.26 48.85,413.96 48.97,404.43 49.09,410.21 49.22,401.45 49.34,419.57 49.46,405.21 49.59,410.58 49.71,389.84 49.83,408.43 49.96,394.87 50.08,380.79 50.2,401.19 50.33,406.82 50.45,408.17 50.57,417.15 50.7,389.85 50.82,413.47 50.94,409.03 51.07,409.65 51.19,384.68 51.31,431.29 51.44,389.61 51.56,400.64 51.68,442.3 51.81,418.5 51.93,406.56 52.05,387.36 52.18,409.31 52.3,399.13 52.42,408.93 52.55,399.55 52.67,410.14 52.79,410.9 52.92,402.01 53.04,409.74 53.16,430.41 53.28,419.64 53.41,408.52 53.53,412.14 53.65,408.34 53.78,412.89 53.9,416.66 54.02,435.23 54.15,383.39 54.27,401.5 54.39,408.12 54.52,405 54.64,400.06 54.76,424.26 54.89,397.64 55.01,415.86 55.13,411.82 55.26,418.31 55.38,410.65 55.5,416.48 55.63,410.53 55.75,393.9 55.87,409.84 56,407.71 56.12,409.07 56.24,416.76 56.37,404.02 56.49,416.87 56.61,416.16 56.74,392.96 56.86,407.85 56.98,421.55 57.1,419.21 57.23,422.48 57.35,415.86 57.47,409.2 57.6,401.97 57.72,382.83 57.84,410.15 57.97,410.05 58.09,390.68 58.21,415.38 58.34,410.19 58.46,414.31 58.58,390.04 58.71,419 58.83,406.94 58.95,410.84 59.08,405.06 59.2,398.97 59.32,407.18 59.45,404.2 59.57,399.47 59.69,409.88 59.82,408.71 59.94,411.22 60.06,399.89 60.19,424.93 60.31,416.67 60.43,421.08 60.56,415.77 60.68,441.83 60.8,413.12 60.92,409.37 61.05,397.7 61.17,419.27 61.29,399.78 61.42,412.84 61.54,403.97 61.66,420.01 61.79,374.46 61.91,413.44 62.03,407.82 62.16,410.82 62.28,405.1 62.4,381.24 62.53,401.07 62.65,412.96 62.77,407.99 62.9,404.53 63.02,403.56 63.14,420.44 63.27,410.25 63.39,420.31 63.51,397.56 63.64,421.08 63.76,401.4 63.88,425.46 64.01,399.94 64.13,404.24 64.25,401.27 64.38,416.33 64.5,404.22 64.62,425.34 64.75,410.27 64.87,398.98 64.99,406.48 65.11,369.31 65.24,409.34 65.36,410.79 65.48,401.21 65.61,409.39 65.73,406.95 65.85,415.9 65.98,418.7 66.1,411.7 66.22,409.86 66.35,432.15 66.47,407.9 66.59,396.89 66.72,398.51 66.84,412.96 66.96,430.21 67.09,415.21 67.21,401.96 67.33,413.61 67.46,406.41 67.58,412.79 67.7,399.16 67.83,420.25 67.95,404.45 68.07,399.15 68.2,384.45 68.32,412.42 68.44,395.34 68.57,411.11 68.69,403.82 68.81,419.3 68.93,410.17 69.06,417.22 69.18,394.57 69.3,405.65 69.43,412.64 69.55,368.98 69.67,399.5 69.8,418.79 69.92,407.44 70.04,445.99 70.17,390.14 70.29,413.11 70.41,414.2 70.54,417.64 70.66,411.37 70.78,412.44 70.91,407.92 71.03,413.23 71.15,395.77 71.28,450.31 71.4,406.99 71.52,408.81 71.65,393.18 71.77,423.27 71.89,402.91 72.02,417.2 72.14,409.28 72.26,413.62 72.39,413.85 72.51,420.47 72.63,410.67 72.75,421.57 72.88,407.24 73,428.2 73.12,428.24 73.25,420.94 73.37,444.9 73.49,418.29 73.62,423.19 73.74,414.25 73.86,393.36 73.99,403.24 74.11,406.97 74.23,410.77 74.36,411.96 74.48,407.75 74.6,408.53 74.73,396.27 74.85,401.49 74.97,413.11 75.1,411.73 75.22,444.65 75.34,409.99 75.47,413.35 75.59,388.9 75.71,440.7 75.84,409.65 75.96,412.9 76.08,410.29 76.21,409.44 76.33,408.55 76.45,415.17 76.58,403.72 76.7,410.49 76.82,405.61 76.94,417.45 77.07,407.06 77.19,418.51 77.31,411.3 77.44,412.93 77.56,402.89 77.68,411.72 77.81,410.16 77.93,415.01 78.05,408.61 78.18,416.05 78.3,415.36 78.42,418.97 78.55,403.69 78.67,418.41 78.79,405.45 78.92,403.72 79.04,407.15 79.16,439.43 79.29,401.17 79.41,410.79 79.53,408.3 79.66,419.22 79.78,404.62 79.9,401.83 80.03,400.87 80.15,424.56 80.27,390.82 80.4,413.36 80.52,407.23 80.64,419.89 80.76,406.5 80.89,420.58 81.01,405.38 81.13,390.15 81.26,405.96 81.38,429 81.5,403.84 81.63,418.48 81.75,407.65 81.87,437.07 82,391.34 82.12,418.48 82.24,428.69 82.37,409.41 82.49,405.83 82.61,411.65 82.74,402.8 82.86,417.38 82.98,387.46 83.11,414.14 83.23,424.3 83.35,399.39 83.48,394.93 83.6,414.23 83.72,406.72 83.85,420.22 83.97,403.18 84.09,413.58 84.22,411.5 84.34,411.22 84.46,390.82 84.59,394.68 84.71,406.76 84.83,412.53 84.95,406.83 85.08,408.94 85.2,406.3 85.32,423.87 85.45,407.27 85.57,411.77 85.69,416.27 85.82,405.44 85.94,422.72 86.06,407.64 86.19,403.91 86.31,418.62 86.43,409.6 86.56,411.91 86.68,438.88 86.8,423.04 86.93,380.07 87.05,394.39 87.17,412.47 87.3,412.23 87.42,429.69 87.54,404.37 87.67,404.94 87.79,413.34 87.91,408.99 88.04,421.59 88.16,395.92 88.28,411.91 88.41,403.75 88.53,431.62 88.65,393.95 88.77,402.95 88.9,401.09 89.02,418.41 89.14,404.29 89.27,425.21 89.39,408.43 89.51,408.73 89.64,415.08 89.76,420.17 89.88,406.57 90.01,409.13 90.13,397.37 90.25,405.98 90.38,416.81 90.5,411.72 90.62,405.64 90.75,414.22 90.87,454.03 90.99,411.63 91.12,419.73 91.24,446.86 91.36,407.8 91.49,411.69 91.61,393.7 91.73,412.18 91.86,405.82 91.98,413.67 92.1,409.8 92.23,409.72 92.35,406.59 92.47,415.17 92.59,410.3 92.72,430.23 92.84,421.16 92.96,418.62 93.09,403.93 93.21,415.44 93.33,425.28 93.46,413.33 93.58,422.99 93.7,394.91 93.83,399.06 93.95,416.32 94.07,408.42 94.2,440.09 94.32,407.22 94.44,411.54 94.57,407.62 94.69,446.41 94.81,411.17 94.94,404.46 95.06,409.83 95.18,421.64 95.31,408.66 95.43,402.76 95.55,406.06 95.68,416.8 95.8,404.87 95.92,440.09 96.05,397.26 96.17,410.77 96.29,402.13 96.42,412.54 96.54,407.27 96.66,413.98 96.78,410.18 96.91,435.27 97.03,401.57 97.15,411.45 97.28,406.94 97.4,412.32 97.52,409.62 97.65,419.74 97.77,420.57 97.89,420.99 98.02,414.92 98.14,428.14 98.26,402.99 98.39,384.12 98.51,399.1 98.63,423.85 98.76,392.97 98.88,417.71 99,382.22 99.13,405.65 99.25,406.71 99.37,395.33 99.5,394.47 99.62,415.56 99.74,401.07 99.87,411.39 99.99,409.54 100.11,414.38 100.24,403.84 100.36,431.9 100.48,399.12 100.6,411.41 100.73,405.05 100.85,407.13 100.97,410.36 101.1,411.37 101.22,404.2 101.34,421.72 101.47,407.97 101.59,410.39 101.71,408.24 101.84,367.55 101.96,446.94 102.08,416.94 102.21,408.72 102.33,403.92 102.45,410.55 102.58,391.75 102.7,383.48 102.82,414.52 102.95,407.94 103.07,426 103.19,404.95 103.32,411.79 103.44,414.66 103.56,413.57 103.69,410.38 103.81,419.82 103.93,411.85 104.06,426.25 104.18,401.44 104.3,425.55 104.42,407.35 104.55,404.25 104.67,395.84 104.79,413.6 104.92,405.8 105.04,421.35 105.16,371.76 105.29,417.43 105.41,409.12 105.53,416.66 105.66,418.41 105.78,408.95 105.9,412.42 106.03,430.45 106.15,401.79 106.27,421.56 106.4,380.38 106.52,419.59 106.64,410.58 106.77,408.94 106.89,405.24 107.01,414.71 107.14,401.93 107.26,392.3 107.38,430.77 107.51,403.86 107.63,418.29 107.75,417.97 107.88,407.13 108,424.36 108.12,408.3 108.25,420.27 108.37,408.47 108.49,396.1 108.61,396.72 108.74,413.21 108.86,409.87 108.98,432.55 109.11,393.37 109.23,415.41 109.35,409.93 109.48,418.12 109.6,403.89 109.72,429.82 109.85,421.62 109.97,401.92 110.09,401.27 110.22,429.57 110.34,408.47 110.46,417.8 110.59,395.52 110.71,420.37 110.83,378.25 110.96,416.94 111.08,420.46 111.2,426.56 111.33,404.38 111.45,416.97 111.57,410.7 111.7,425.72 111.82,423.19 111.94,421.7 112.07,409.3 112.19,438.06 112.31,412.54 112.43,415.26 112.56,399.14 112.68,410.15 112.8,409.39 112.93,418.08 113.05,409.78 113.17,428.61 113.3,410.16 113.42,381.79 113.54,413.55 113.67,415 113.79,407.28 113.91,413.15 114.04,452.93 114.16,419.32 114.28,409.96 114.41,417.96 114.53,413.32 114.65,407.65 114.78,409.22 114.9,414.1 115.02,410.69 115.15,422.87 115.27,410.12 115.39,380 115.52,400.66 115.64,411 115.76,416.78 115.89,405.12 116.01,408.25 116.13,422.91 116.25,405.66 116.38,419.43 116.5,402.74 116.62,424.59 116.75,383.67 116.87,419.72 116.99,407.8 117.12,413.33 117.24,407.23 117.36,414.95 117.49,405.99 117.61,421.09 117.73,406.07 117.86,398.81 117.98,412.7 118.1,416.01 118.23,405.5 118.35,410.32 118.47,398.88 118.6,402.53 118.72,420.36 118.84,444.82 118.97,399.3 119.09,411.93 119.21,406.74 119.34,398.5 119.46,400.33 119.58,440.07 119.71,394.83 119.83,410.25 119.95,404.46 120.08,444.83 120.2,408.66 120.32,407.83 120.44,403.96 120.57,418.69 120.69,399.48 120.81,428.57 120.94,405.64 121.06,419.26 121.18,405.88 121.31,420.68 121.43,408.38 121.55,401.53 121.68,421 121.8,427.26 121.92,424.09 122.05,451.46 122.17,409.01 122.29,423.46 122.42,414.16 122.54,409.32 122.66,408.59 122.79,412.72 122.91,425.45 123.03,408.63 123.16,406.12 123.28,416.24 123.4,406.26 123.53,427.04 123.65,406.71 123.77,410.95 123.9,397.94 124.02,411.57 124.14,410.03 124.26,426.91 124.39,416.72 124.51,411.98 124.63,393.79 124.76,383.13 124.88,399.9 125,399.01 125.13,408 125.25,420.65 125.37,402.08 125.5,418.56 125.62,402.46 125.74,413.01 125.87,376.07 125.99,414.39 126.11,410.21 126.24,415.21 126.36,402.73 126.48,414.57 126.61,412.57 126.73,421.67 126.85,393.83 126.98,416.82 127.1,396.31 127.22,397.49 127.35,415.51 127.47,431.45 127.59,413.52 127.72,402.58 127.84,408.62 127.96,411.21 128.09,405 128.21,415.92 128.33,419.04 128.45,414.1 128.58,401.82 128.7,426.17 128.82,404.08 128.95,404.18 129.07,410.49 129.19,413.19 129.32,408.03 129.44,412.78 129.56,409.46 129.69,411.81 129.81,407.37 129.93,403.13 130.06,405.59 130.18,411.15 130.3,409.67 130.43,398.47 130.55,411.71 130.67,410.99 130.8,380.48 130.92,415.22 131.04,403.3 131.17,435.64 131.29,406.17 131.41,407 131.54,404.77 131.66,417.4 131.78,392.09 131.91,412.36 132.03,413.73 132.15,411.35 132.27,395.63 132.4,409.78 132.52,410.44 132.64,405.75 132.77,413.38 132.89,413.32 133.01,413.72 133.14,419.88 133.26,382.93 133.38,418.53 133.51,412.56 133.63,420.43 133.75,407.76 133.88,409.66 134,400.79 134.12,412.34 134.25,405.81 134.37,412.12 134.49,405.56 134.62,418.44 134.74,398.13 134.86,414.39 134.99,405.45 135.11,427.74 135.23,400.72 135.36,414.44 135.48,381.52 135.6,425.18 135.73,403.52 135.85,409.15 135.97,398.14 136.09,413.36 136.22,397.59 136.34,411.43 136.46,414.96 136.59,414.41 136.71,405.45 136.83,414.15 136.96,406.65 137.08,429.88 137.2,380.9 137.33,413.79 137.45,413.47 137.57,422.58 137.7,405.22 137.82,409.82 137.94,392.19 138.07,407.94 138.19,409.8 138.31,429.6 138.44,396.62 138.56,427.45 138.68,414.68 138.81,413.25 138.93,415.75 139.05,404.19 139.18,395.39 139.3,387.12 139.42,408.92 139.55,405.48 139.67,409.54 139.79,438.25 139.92,399.12 140.04,418.12 140.16,411.21 140.28,438.37 140.41,372.19 140.53,428.3 140.65,410.64 140.78,415.23 140.9,391.25 141.02,410.52 141.15,407.78 141.27,410.43 141.39,408.78 141.52,403.68 141.64,410.36 141.76,435.28 141.89,430.45 142.01,416.44 142.13,405.18 142.26,415.72 142.38,409.88 142.5,420.35 142.63,388.43 142.75,434.01 142.87,403.35 143,411.5 143.12,391.92 143.24,396.09 143.37,403.09 143.49,394.17 143.61,416.4 143.74,411.74 143.86,410.4 143.98,416.22 144.1,409.63 144.23,403.36 144.35,411.42 144.47,402.7 144.6,410.69 144.72,438.66 144.84,406.19 144.97,410.63 145.09,406.82 145.21,411.06 145.34,414.23 145.46,422.46 145.58,389.63 145.71,413.75 145.83,411.38 145.95,410.86 146.08,406.99 146.2,406.77 146.32,400.6 146.45,419.52 146.57,408.87 146.69,413.53 146.82,412.38 146.94,421.41 147.06,416.12 147.19,411.92 147.31,409.71 147.43,419.14 147.56,428.61 147.68,415.78 147.8,401.01 147.92,410.84 148.05,409.98 148.17,406.36 148.29,401.54 148.42,411.69 148.54,427.79 148.66,407.62 148.79,431.83 148.91,414.57 149.03,398.53 149.16,416.45 149.28,407.51 149.4,416.46 149.53,417.22 149.65,411.09 149.77,410.43 149.9,410.81 150.02,407.05 150.14,376.84 150.27,405.27 150.39,439.35 150.51,416.84 150.64,424.65 150.76,391.41 150.88,410.17 151.01,397.3 151.13,413.38 151.25,413.51 151.38,412.65 151.5,408.42 151.62,412.59 151.75,409.83 151.87,410.48 151.99,420.1 152.11,419.49 152.24,409.94 152.36,425.73 152.48,393.68 152.61,411.79 152.73,427.38 152.85,419 152.98,407.98 153.1,428.75 153.22,408.43 153.35,407.88 153.47,395.16 153.59,407.66 153.72,410.08 153.84,409.7 153.96,410.26 154.09,419.84 154.21,407.53 154.33,442.1 154.46,402.05 154.58,399.42 154.7,409.42 154.83,401.46 154.95,406.51 155.07,417.38 155.2,413.8 155.32,419.7 155.44,407.58 155.57,412.74 155.69,396.81 155.81,429.21 155.93,398.39 156.06,411.28 156.18,415.51 156.3,417.22 156.43,412.55 156.55,426.14 156.67,427.61 156.8,402.96 156.92,411.36 157.04,399.54 157.17,408.92 157.29,414.07 157.41,404.74 157.54,415.92 157.66,391.26 157.78,410.86" fill="none" stroke="#c4c4c4" stroke-width="0.25" stroke-linejoin="round" />
<polyline points="47,398.93 58.56,398.93 58.56,410.7 95.17,410.7 95.17,437.45 107.21,437.45 107.21,450.5 117.81,450.5 117.81,437.45 131.29,437.45 131.29,410.7 179.46,410.7 179.46,423.11 190.54,423.11 190.54,410.7 203.54,410.7 203.54,399.36 215.58,399.36 215.58,423.11 227.62,423.11 227.62,410.7 239.67,410.7 239.67,432.1 251.71,432.1 251.71,408.77 255.56,408.77 255.56,410.7 311.92,410.7 311.92,416.05 323.96,416.05 323.96,410.7 336,410.7" fill="none" stroke="#ff50ff" stroke-width="0.7" stroke-linejoin="round" />
<polyline points="47,399.14 47.97,396.8 48.93,397.79 49.9,399.56 50.87,407.92 51.83,414.88 52.8,413.34 53.77,417.28 54.73,417.21 55.7,418.08 56.67,420.15 57.63,417.93 58.6,418.25 59.57,419.94 60.53,415.41 61.5,417.46 62.46,420.86 63.43,420.52 64.4,418.29 65.36,418.3 66.33,420.08 67.3,416.75 68.26,418.67 69.23,420.31 70.2,428.46 71.16,428.13 72.13,430.48 73.1,429.24 74.06,430.92 75.03,428.32 76,426.77 76.96,430.02 77.93,427.27 78.9,429.84 79.86,428.1 80.83,428.7 81.8,419.21 82.76,402.67 83.73,412.88 84.7,412.9 85.66,415.95 86.63,416.6 87.6,423.79 88.56,422.04 89.53,426.67 90.49,427.66 91.46,429.71 92.43,427.77 93.39,429.08 94.36,442.41 95.33,455.64 96.29,441.01 97.26,438.13 98.23,441.2 99.19,443.44 100.16,444.54 101.13,445.31 102.09,449.06 103.06,453.42 104.03,457.06 104.99,458.19 105.96,460.05 106.93,468.56 107.89,476.47 108.86,471.98 109.83,465.57 110.79,465.53 111.76,472.32 112.73,475.33 113.69,469.83 114.66,462.37 115.63,456.17 116.59,448.5 117.56,430.1 118.53,423.92 119.49,421.93 120.46,421.02 121.42,421.64 122.39,417.87 123.36,416.22 124.32,417.7 125.29,421.11 126.26,417.31 127.22,420.4 128.19,423.02 129.16,417.87 130.12,417.89 131.09,408.37 132.06,406.83 133.02,406.78 133.99,403.9 134.96,407.41 135.92,410.24 136.89,407.51 137.86,407.4 138.82,409.56 139.79,411.56 140.76,409.2 141.72,409.75 142.69,409.24 143.66,420.81 144.62,424.35 145.59,422.9 146.56,419.75 147.52,420.44 148.49,414.54 149.45,415.63 150.42,410.66 151.39,413.41 152.35,412.21 153.32,408.91 154.29,412.33 155.25,408.24 156.22,407.76 157.19,409.78 158.15,411.21 159.12,412.38 160.09,412.13 161.05,410.82 162.02,412.4 162.99,410.86 163.95,412.03 164.92,409.65 165.89,412.38 166.85,392.09 167.82,377.16 168.79,382.06 169.75,379.38 170.72,380.82 171.69,383.82 172.65,389.05 173.62,387.53 174.59,392.24 175.55,391.76 176.52,395.6 177.48,402.54 178.45,412.93 179.42,417.16 180.38,422.13 181.35,430.7 182.32,434.36 183.28,441.78 184.25,447.25 185.22,451.26 186.18,449.27 187.15,446.2 188.12,438.11 189.08,412.03 190.05,394.04 191.02,379.63 191.98,366.43 192.95,372.89 193.92,383.81 194.88,386.55 195.85,390.45 196.82,395.85 197.78,399.86 198.75,403.6 199.72,405.83 200.68,410.24 201.65,410.18 202.62,413.17 203.58,414.4 204.55,414.94 205.52,415.05 206.48,418.78 207.45,418.82 208.41,420.75 209.38,423.02 210.35,421.66 211.31,421.41 212.28,422.42 213.25,423.91 214.21,425.02 215.18,427.51 216.15,432.37 217.11,438 218.08,441.52 219.05,441.6 220.01,439.58 220.98,442.17 221.95,442.35 222.91,446.07 223.88,444.09 224.85,444.51 225.81,453.34 226.78,438.11 227.75,417.71 228.71,419.65 229.68,408.27 230.65,408.57 231.61,401.03 232.58,395.8 233.55,391.25 234.51,385.73 235.48,380.04 236.44,374.47 237.41,368.71 238.38,363.45 239.34,413.51 240.31,424.24 241.28,426.57 242.24,427.51 243.21,431.24 244.18,431.33 245.14,431.67 246.11,429.51 247.08,433.49 248.04,429.17 249.01,429.15 249.98,432.09 250.94,428.95 251.91,401.7 252.88,400.61 253.84,400.47 254.81,402.34 255.78,405.56 256.74,405.12 257.71,408.31 258.68,409.21 259.64,412.43 260.61,411.32 261.58,410.97 262.54,411.9 263.51,412.35 264.47,411.4 265.44,408.81 266.41,409.66 267.37,409.9 268.34,410.89 269.31,410.98 270.27,410.18 271.24,411.32 272.21,409.69 273.17,410.14 274.14,410.34 275.11,409.47 276.07,409.72 277.04,409.14 278.01,411.14 278.97,411.16 279.94,410.8 280.91,410.98 281.87,407.12 282.84,410.64 283.81,408.5 284.77,407.86 285.74,406.55 286.71,409.24 287.67,409.76 288.64,408.44 289.61,405.64 290.57,409.17 291.54,407.3 292.51,407.36 293.47,411.07 294.44,407.33 295.4,408.15 296.37,412.17 297.34,408.04 298.3,407.68 299.27,409.79 300.24,409.58 301.2,408.98 302.17,409.76 303.14,411.92 304.1,412.6 305.07,411.98 306.04,411.84 307,409.46 307.97,412.55 308.94,411.73 309.9,411.66 310.87,407.97 311.84,407.11 312.8,409.1 313.77,408.39 314.74,408.52 315.7,411.12 316.67,410.54 317.64,408.51 318.6,409 319.57,412.65 320.54,410.62 321.5,408.98 322.47,411.23 323.43,407.67 324.4,405.09 325.37,398.1 326.33,396.26 327.3,388.85 328.27,382.56 329.23,381.32 330.2,375.61 331.17,372.71 332.13,367.89 333.1,368.93 334.07,365.76 335.03,362.13 336,361.76" fill="none" stroke="#ff4d4d" stroke-width="0.75" stroke-linejoin="round" />
<polyline points="47,410.7 83.12,410.7 95.17,437.45 131.29,437.45 143.33,410.7 226.66,410.7 239.67,332.8 239.67,410.7 336,410.7" fill="none" stroke="#40eeee" stroke-width="0.75" stroke-linejoin="round" />
<polyline points="47,397.63 47.29,398.1 47.58,394.46 47.87,401.89 48.16,399.64 48.45,401.16 48.74,415.15 49.03,405.8 49.31,414.91 49.6,402.85 49.89,410.74 50.18,418.16 50.47,415.69 50.76,416.8 51.05,417.26 51.34,412.34 51.63,416.88 51.92,411.64 52.21,417 52.5,421.31 52.79,428.25 53.08,428.75 53.36,420.46 53.65,418.46 53.94,415.15 54.23,425.66 54.52,422.65 54.81,427.43 55.1,425.9 55.39,435.43 55.68,420.97 55.97,428.55 56.26,423.03 56.55,417.81 56.84,415.68 57.13,421.15 57.41,404.55 57.7,405.63 57.99,404.24 58.28,411.03 58.57,416.85 58.86,418.16 59.15,412.34 59.44,411.7 59.73,417.12 60.02,405.61 60.31,410.78 60.6,405 60.89,403.1 61.18,410.48 61.46,397.97 61.75,398.29 62.04,405.01 62.33,396.97 62.62,397.02 62.91,399.25 63.2,400.64 63.49,414.53 63.78,410.57 64.07,412.69 64.36,406.8 64.65,403.6 64.94,395.64 65.23,394.54 65.51,399.39 65.8,387.93 66.09,383.31 66.38,392.75 66.67,404.61 66.96,403.31 67.25,403.96 67.54,414.01 67.83,409.64 68.12,415.07 68.41,400.26 68.7,396.15 68.99,395.25 69.28,396.41 69.56,392.73 69.85,407.7 70.14,418.36 70.43,419.92 70.72,436.39 71.01,445.75 71.3,441.4 71.59,439.21 71.88,434.59 72.17,433.22 72.46,421.32 72.75,427.92 73.04,410.82 73.33,412.23 73.61,425.28 73.9,422.59 74.19,431.99 74.48,431.74 74.77,424.93 75.06,434.48 75.35,428.73 75.64,428.54 75.93,431.16 76.22,427.81 76.51,423.7 76.8,433.07 77.09,429.7 77.38,427.98 77.66,438.29 77.95,440.03 78.24,449.42 78.53,436.02 78.82,433.64 79.11,436.68 79.4,427.36 79.69,429.05 79.98,431.44 80.27,434.53 80.56,437.56 80.85,431.58 81.14,428.53 81.43,430.21 81.71,430.27 82,429.54 82.29,422.21 82.58,432.1 82.87,423.27 83.16,419.37 83.45,414.31 83.74,412.3 84.03,414.9 84.32,414.67 84.61,417.09 84.9,407.63 85.19,412.56 85.48,416.49 85.76,423.15 86.05,426.96 86.34,416.5 86.63,423.16 86.92,421.63 87.21,415.93 87.5,433.21 87.79,430.33 88.08,425.54 88.37,425.13 88.66,434.2 88.95,430.31 89.24,433.75 89.53,434.47 89.81,430.57 90.1,432.2 90.39,427.82 90.68,431.09 90.97,427.15 91.26,439.02 91.55,433.41 91.84,442.92 92.13,444.58 92.42,443.72 92.71,433.79 93,436.77 93.29,446.3 93.58,432.23 93.86,434.37 94.15,440.56 94.44,441.42 94.73,440.85 95.02,447.37 95.31,430.33 95.6,444.78 95.89,443.98 96.18,445.19 96.47,447.45 96.76,449.18 97.05,443.61 97.34,451.93 97.63,451.54 97.91,450.94 98.2,443.58 98.49,453.08 98.78,453.7 99.07,447.8 99.36,455.63 99.65,452.27 99.94,446.88 100.23,449.87 100.52,452.36 100.81,445.61 101.1,455.82 101.39,457.38 101.68,463.67 101.96,455.46 102.25,452.31 102.54,458.42 102.83,445.53 103.12,449.47 103.41,449.64 103.7,459.83 103.99,452.13 104.28,451.45 104.57,463.03 104.86,452.77 105.15,453.53 105.44,460.6 105.73,449.29 106.02,441.35 106.3,448.53 106.59,457.2 106.88,455.03 107.17,448.98 107.46,459.39 107.75,454.29 108.04,456.64 108.33,456.67 108.62,450.15 108.91,466.6 109.2,452.74 109.49,456.03 109.78,456.62 110.07,463.21 110.35,452.28 110.64,454.65 110.93,465.98 111.22,457.06 111.51,455.04 111.8,452.94 112.09,450.43 112.38,452.41 112.67,441.48 112.96,444.78 113.25,451.35 113.54,444.97 113.83,442.16 114.12,451.18 114.4,461.01 114.69,453.51 114.98,449.19 115.27,457.25 115.56,448.11 115.85,439.2 116.14,433.73 116.43,431.14 116.72,429.25 117.01,427.68 117.3,430.34 117.59,423.11 117.88,424.02 118.17,431.53 118.45,433.08 118.74,422.82 119.03,423.22 119.32,431.08 119.61,434.59 119.9,424.98 120.19,420.71 120.48,419.08 120.77,418.93 121.06,429.73 121.35,421.01 121.64,422.27 121.93,423.15 122.22,406.62 122.5,420.07 122.79,419.27 123.08,422.46 123.37,418.04 123.66,416.11 123.95,423.71 124.24,422.91 124.53,425.42 124.82,428.71 125.11,425.02 125.4,422.85 125.69,424.93 125.98,426.68 126.27,434.18 126.55,422.64 126.84,422.84 127.13,415.46 127.42,425.58 127.71,428.6 128,430.67 128.29,423.71 128.58,420.24 128.87,418.01 129.16,426.43 129.45,419.81 129.74,410.26 130.03,413.17 130.32,413.39 130.6,411.76 130.89,415.96 131.18,413.34 131.47,407.24 131.76,396.84 132.05,395.43 132.34,400.1 132.63,394.49 132.92,395.68 133.21,392.87 133.5,402.86 133.79,398.92 134.08,396.36 134.37,408.08 134.65,403.04 134.94,402.27 135.23,402.27 135.52,402.58 135.81,403.05 136.1,401.79 136.39,400.54 136.68,406.22 136.97,397.92 137.26,411.76 137.55,411.05 137.84,409.16 138.13,415.28 138.42,419.38 138.7,419.29 138.99,407.76 139.28,417.38 139.57,421.44 139.86,406.23 140.15,413.38 140.44,413.06 140.73,417.56 141.02,410.28 141.31,412.94 141.6,408.03 141.89,408.17 142.18,407.99 142.47,404.6 142.75,408.91 143.04,405.35 143.33,405.97 143.62,399.45 143.91,397.31 144.2,396.27 144.49,409.16 144.78,390.6 145.07,399.61 145.36,398.57 145.65,397.64 145.94,397.13 146.23,390.09 146.52,395.06 146.8,393.66 147.09,390.57 147.38,390.32 147.67,403.32 147.96,405.87 148.25,410.88 148.54,412.34 148.83,403 149.12,405.6 149.41,407.74 149.7,407.48 149.99,409.18 150.28,408.79 150.57,410.39 150.85,426.82 151.14,419.62 151.43,425.83 151.72,438.28 152.01,427.12 152.3,423.78 152.59,423.66 152.88,408.79 153.17,415.27 153.46,408.63 153.75,415.54 154.04,413.63 154.33,409.62 154.62,414.57 154.9,420.67 155.19,417.18 155.48,414.24 155.77,412.15 156.06,420.26 156.35,409.91 156.64,415.58 156.93,416.71 157.22,407.51 157.51,409.5 157.8,408.5 158.09,410.46 158.38,419.21 158.67,407.39 158.95,406.18 159.24,408.78 159.53,399.17 159.82,406.11 160.11,398.08 160.4,400.9 160.69,410.33 160.98,411.41 161.27,409.2 161.56,408.2 161.85,404.89 162.14,411.54 162.43,414.06 162.72,398.7 163.01,409.35 163.29,408.41 163.58,401.55 163.87,409.87 164.16,422.14 164.45,408.71 164.74,414.43 165.03,406.8 165.32,420.85 165.61,411.4 165.9,407.53 166.19,401.42 166.48,400.51 166.77,397.57 167.06,399.1 167.34,396.09 167.63,397.8 167.92,385.05 168.21,380.11 168.5,383.07 168.79,388.66 169.08,389.62 169.37,383.6 169.66,371.68 169.95,376.89 170.24,380.81 170.53,376.13 170.82,370.89 171.11,379.42 171.39,379.83 171.68,381.43 171.97,384.45 172.26,371.85 172.55,386.58 172.84,382.61 173.13,378.3 173.42,383.39 173.71,383.6 174,381.13 174.29,379.14 174.58,378.91 174.87,378.82 175.16,378.76 175.44,377.82 175.73,371.23 176.02,383.35 176.31,378.91 176.6,385.21 176.89,390.5 177.18,392.9 177.47,387.17 177.76,402.21 178.05,401.43 178.34,412.25 178.63,404.51 178.92,420.04 179.21,411.79 179.49,412.53 179.78,417.46 180.07,426.14 180.36,423.48 180.65,426.16 180.94,429.21 181.23,425.71 181.52,432.15 181.81,432.24 182.1,429.77 182.39,437.22 182.68,440.15 182.97,439.04 183.26,443.57 183.54,453.48 183.83,445.69 184.12,445.06 184.41,451.02 184.7,455.46 184.99,445.11 185.28,451.61 185.57,446.29 185.86,448.19 186.15,444.01 186.44,449.67 186.73,447.75 187.02,443.56 187.31,449.98 187.59,440.92 187.88,438.52 188.17,451.24 188.46,445.67 188.75,430.21 189.04,411.85 189.33,411.18 189.62,404.38 189.91,383.84 190.2,352.59 190.49,331.08 190.78,334.64 191.07,330.36 191.36,333.94 191.64,326.86 191.93,340.85 192.22,347.21 192.51,350.28 192.8,369.7 193.09,378.75 193.38,377.4 193.67,368.41 193.96,377.55 194.25,373.43 194.54,386.28 194.83,384.19 195.12,381.3 195.41,384.91 195.69,390.18 195.98,399.94 196.27,387.49 196.56,387.46 196.85,389.85 197.14,401.52 197.43,401.23 197.72,398.2 198.01,401.39 198.3,392.29 198.59,403.82 198.88,401.12 199.17,405.73 199.46,409.46 199.74,396.68 200.03,401.4 200.32,406.25 200.61,403.32 200.9,414.71 201.19,396.97 201.48,410.36 201.77,415.27 202.06,411.73 202.35,406.07 202.64,407.74 202.93,405.14 203.22,405.62 203.51,409.42 203.79,405.23 204.08,419.82 204.37,409.21 204.66,409.83 204.95,411.04 205.24,414.15 205.53,416.59 205.82,417.56 206.11,423.55 206.4,418.32 206.69,411.22 206.98,410.01 207.27,419.78 207.56,420.4 207.84,420.56 208.13,419.08 208.42,418.69 208.71,416.68 209,412.31 209.29,429.52 209.58,425.16 209.87,422.58 210.16,420.86 210.45,418.91 210.74,412.48 211.03,426.02 211.32,418.59 211.61,422.42 211.89,421.97 212.18,421.04 212.47,418.6 212.76,422.46 213.05,428.73 213.34,421.3 213.63,421.5 213.92,431.76 214.21,422.3 214.5,425.09 214.79,425.82 215.08,424.84 215.37,417.05 215.66,433.94 215.94,425.19 216.23,435.53 216.52,426.57 216.81,422.43 217.1,436.06 217.39,421.89 217.68,425.41 217.97,428.58 218.26,429.14 218.55,428.59 218.84,428.47 219.13,429.22 219.42,424.15 219.71,425.63 219.99,434.17 220.28,424.63 220.57,421.08 220.86,422.24 221.15,428.85 221.44,438.15 221.73,433.08 222.02,431.27 222.31,431.24 222.6,438.17 222.89,428.13 223.18,426.82 223.47,437.96 223.76,435.18 224.05,436.46 224.33,430.77 224.62,424.78 224.91,440.05 225.2,421.58 225.49,423.94 225.78,434.59 226.07,419.66 226.36,421.31 226.65,423.92 226.94,424.41 227.23,429.91 227.52,422.47 227.81,427.2 228.1,421.1 228.38,414.57 228.67,419.76 228.96,419.34 229.25,411.9 229.54,408.05 229.83,406.16 230.12,410.51 230.41,401.24 230.7,398.61 230.99,406.97 231.28,401.04 231.57,411.38 231.86,402.03 232.15,405.07 232.43,397.91 232.72,400.26 233.01,407.37 233.3,391.48 233.59,398.14 233.88,385.98 234.17,382.76 234.46,385.07 234.75,386.4 235.04,382.89 235.33,389.13 235.62,379.75 235.91,373.48 236.2,372.82 236.48,379.45 236.77,364.95 237.06,367.95 237.35,373.19 237.64,364.36 237.93,369.27 238.22,365.1 238.51,360.56 238.8,349.71 239.09,306.5 239.38,370.12 239.67,437.9 239.96,439.16 240.25,435.96 240.53,438.2 240.82,443.77 241.11,440.03 241.4,445.59 241.69,447.23 241.98,441.24 242.27,443.89 242.56,448.52 242.85,443.18 243.14,449.33 243.43,452.41 243.72,450.43 244.01,448.05 244.3,455.3 244.58,446.43 244.87,455.9 245.16,454.52 245.45,453.32 245.74,458.4 246.03,462.74 246.32,460.86 246.61,454.01 246.9,451.36 247.19,453.24 247.48,457.39 247.77,458.7 248.06,455.59 248.35,453.89 248.63,449.33 248.92,449.38 249.21,453.21 249.5,446.62 249.79,454.19 250.08,450.89 250.37,455.54 250.66,447.4 250.95,451.13 251.24,421.45 251.53,383.31 251.82,384.93 252.11,396.73 252.4,390.39 252.68,397.32 252.97,396.07 253.26,396.19 253.55,402.01 253.84,401.93 254.13,396.41 254.42,397.26 254.71,396.18 255,400.32 255.29,402.47 255.58,402.95 255.87,403.69 256.16,406.72 256.45,403.29 256.73,409.14 257.02,410.32 257.31,413.48 257.6,406.42 257.89,411.13 258.18,409.8 258.47,408.94 258.76,414.51 259.05,409.99 259.34,411.3 259.63,412.3 259.92,421.92 260.21,408.47 260.5,411.51 260.78,411.78 261.07,406.97 261.36,420.81 261.65,407.14 261.94,418.06 262.23,413.31 262.52,412.57 262.81,423.74 263.1,419.63 263.39,428.9 263.68,429.14 263.97,443.4 264.26,433.39 264.55,444.63 264.83,441.89 265.12,436.33 265.41,417.23 265.7,417.58 265.99,402.79 266.28,412.8 266.57,405.28 266.86,417.71 267.15,407.79 267.44,415.01 267.73,415.95 268.02,407.39 268.31,409.32 268.6,416.39 268.88,417.85 269.17,409.86 269.46,423.11 269.75,417.97 270.04,420.64 270.33,416.25 270.62,415.74 270.91,415.4 271.2,419.56 271.49,411.64 271.78,409.68 272.07,413.2 272.36,402.01 272.65,411.53 272.93,408.5 273.22,398.19 273.51,408.13 273.8,406.45 274.09,412.14 274.38,404.11 274.67,405.34 274.96,400.98 275.25,408.13 275.54,397.97 275.83,401.93 276.12,400.92 276.41,407.68 276.7,415.11 276.98,405.78 277.27,408.27 277.56,411.23 277.85,401.83 278.14,408.99 278.43,410.41 278.72,409.65 279.01,410.89 279.3,411.3 279.59,410.22 279.88,414.2 280.17,416.66 280.46,417.59 280.75,411.74 281.04,409.62 281.32,407.32 281.61,414.05 281.9,416.55 282.19,415.38 282.48,400.62 282.77,403.87 283.06,405.96 283.35,406.47 283.64,393.67 283.93,399.46 284.22,399.01 284.51,404.08 284.8,395.1 285.09,402.27 285.37,405.17 285.66,396.04 285.95,402.04 286.24,401.52 286.53,413.04 286.82,408.89 287.11,412.32 287.4,408.33 287.69,411 287.98,411.76 288.27,416.44 288.56,407.21 288.85,421.29 289.14,414 289.42,417.54 289.71,413.52 290,424.22 290.29,413.8 290.58,421.85 290.87,415.8 291.16,417.1 291.45,403.85 291.74,420.69 292.03,416.81 292.32,421.58 292.61,417.01 292.9,412.1 293.19,412.17 293.47,413.56 293.76,411.96 294.05,408.9 294.34,406.45 294.63,398.17 294.92,403.36 295.21,405.94 295.5,408.46 295.79,404.48 296.08,402.38 296.37,410.99 296.66,406.07 296.95,409.18 297.24,422.82 297.52,404.33 297.81,410.11 298.1,422.24 298.39,425.91 298.68,416.57 298.97,420.91 299.26,417.01 299.55,422.33 299.84,415.45 300.13,424.29 300.42,418.61 300.71,416.54 301,420.23 301.29,413.64 301.57,416.49 301.86,416.22 302.15,416.34 302.44,425.94 302.73,418.48 303.02,403.81 303.31,413.63 303.6,414.78 303.89,411.01 304.18,410.24 304.47,398.24 304.76,412.8 305.05,410.31 305.34,404.81 305.62,417.52 305.91,417.76 306.2,417.12 306.49,415.41 306.78,408.1 307.07,407.64 307.36,412.63 307.65,406.57 307.94,426.24 308.23,412.4 308.52,421.06 308.81,415.56 309.1,419.45 309.39,425.24 309.67,412.91 309.96,411.72 310.25,417.63 310.54,423.06 310.83,409.42 311.12,431.4 311.41,420.56 311.7,427.41 311.99,428.08 312.28,421.46 312.57,429.93 312.86,424.42 313.15,428.11 313.44,421.17 313.72,421.92 314.01,421.03 314.3,423.64 314.59,422.68 314.88,425.74 315.17,417.51 315.46,414.78 315.75,420.16 316.04,413.08 316.33,416.81 316.62,411.35 316.91,414.55 317.2,407.37 317.49,400.34 317.77,402.29 318.06,410.93 318.35,400.68 318.64,406.88 318.93,400.46 319.22,404.64 319.51,406.1 319.8,412.26 320.09,411.46 320.38,417.22 320.67,414.53 320.96,412.56 321.25,423.28 321.54,417.11 321.82,411.39 322.11,419.37 322.4,414.58 322.69,410.93 322.98,411.14 323.27,409.24 323.56,407.89 323.85,405.22 324.14,411.3 324.43,405.51 324.72,403.99 325.01,409.73 325.3,404.07 325.59,396.65 325.87,396.53 326.16,392.96 326.45,394.44 326.74,392.62 327.03,385.94 327.32,397.99 327.61,394.41 327.9,383.44 328.19,379.66 328.48,375.01 328.77,372.25 329.06,371.83 329.35,375.64 329.64,364.82 329.92,363.6 330.21,370.5 330.5,376.28 330.79,372.78 331.08,369.83 331.37,375.44 331.66,372.44 331.95,382.21 332.24,382.7 332.53,380.24 332.82,375.25 333.11,372.24 333.4,367.32 333.69,370.32 333.97,373.52 334.26,369.8 334.55,362.85 334.84,363.65 335.13,361.31 335.42,364.02 335.71,362.39 336,361.81" fill="none" stroke="#111" stroke-width="0.6" stroke-linejoin="round" />
<line x1="47.0" y1="410.7" x2="336.0" y2="410.7" stroke="#555" stroke-width="0.9"/>
<polyline points="240.63,410.7 336,410.7" fill="none" stroke="#40eeee" stroke-width="0.75" stroke-linejoin="round" />
<polyline points="47,364.05 58.56,364.05 58.56,377.74 71.08,377.74 71.08,322.96 83.12,322.96 83.12,350.14 95.17,350.14 95.17,377.74 131.29,377.74 131.29,363.83 143.33,363.83 143.33,376.89 155.38,376.89 155.38,334.73 167.42,334.73 167.42,361.48 179.46,361.48 179.46,303.27 191.5,303.27 191.5,330.88 203.54,330.88 203.54,303.27 227.62,303.27 227.62,309.48 239.67,309.48 239.67,317.82 251.71,317.82 251.71,345 263.75,345 263.75,337.08 275.79,337.08 275.79,350.14 299.39,350.14 299.39,358.06 311.92,358.06 311.92,338.37 336,338.37" fill="none" stroke="#ff50ff" stroke-width="0.7" stroke-linejoin="round" />
<polyline points="47,350.14 82.16,350.14 95.17,377.74 178.5,377.74 190.54,330.88 238.22,330.88 239.67,332.8 274.83,332.8 284.46,350.14 323.48,350.14 336,317.18" fill="none" stroke="#40eeee" stroke-width="0.75" stroke-linejoin="round" />
<polyline points="47,378.73 48.48,378.73 48.48,377.32 49.27,377.32 49.27,377.73 50.46,377.73 50.46,377.61 52.08,377.61 52.08,377.51 52.65,377.51 52.65,377.86 53.61,377.86 53.61,365.02 54.6,365.02 54.6,377.82 55.37,377.82 55.37,377.12 56.48,377.12 56.48,377.27 56.99,377.27 56.99,378.22 57.61,378.22 57.61,377.67 58.56,377.67 58.56,378 59.67,378 59.67,377.41 60.53,377.41 60.53,378.14 61.77,378.14 61.77,377.91 62.81,377.91 62.81,377.67 62.9,377.67 62.9,377.66 63.99,377.66 63.99,357.98 64.76,357.98 64.76,377.54 65.25,377.54 65.25,362.92 66.37,362.92 66.37,377.63 67.93,377.63 67.93,353.46 68.38,353.46 68.38,377.55 69.05,377.55 69.05,357.7 69.7,357.7 69.7,377.56 70.36,377.56 70.36,304.01 70.94,304.01 70.94,340.47 72.38,340.47 72.38,330.24 72.98,330.24 72.98,339.86 74.6,339.86 74.6,325.81 75.33,325.81 75.33,339.94 76.24,339.94 76.24,329.76 77.17,329.76 77.17,340.24 78.45,340.24 78.45,329.53 78.79,329.53 78.79,358.81 79.89,358.81 79.89,346.17 80.83,346.17 80.83,359.41 81.52,359.41 81.52,339.22 82.31,339.22 82.31,359.39 83.54,359.39 83.54,339.48 84.45,339.48 84.45,359.43 84.57,359.43 84.57,374.62 85.42,374.62 85.42,354.9 86.12,354.9 86.12,374.04 87.14,374.04 87.14,358.65 87.66,358.65 87.66,374.62 88.53,374.62 88.53,359.39 89.33,359.39 89.33,374.65 90.29,374.65 90.29,364.05 91.22,364.05 91.22,374.17 91.77,374.17 91.77,356.62 92.76,356.62 92.76,378.45 93.57,378.45 93.57,372.22 94.22,372.22 94.22,378 94.74,378 94.74,377.59 95.84,377.59 95.84,373.58 96.9,373.58 96.9,377.49 97.43,377.49 97.43,377.4 98.99,377.4 98.99,377.65 100.23,377.65 100.23,370.82 101.11,370.82 101.11,378.03 102.67,378.03 102.67,377.48 103.29,377.48 103.29,377.89 104.78,377.89 104.78,378.23 105.96,378.23 105.96,378.44 107.13,378.44 107.13,377.66 108.03,377.66 108.03,377.74 108.69,377.74 108.69,377.65 109.66,377.65 109.66,376.91 110.93,376.91 110.93,377.21 112.35,377.21 112.35,378.46 113.69,378.46 113.69,377.47 115.11,377.47 115.11,377.14 115.9,377.14 115.9,377.88 117.31,377.88 117.31,378.57 118.48,378.57 118.48,373.94 119.48,373.94 119.48,377.99 120.7,377.99 120.7,377.8 121.49,377.8 121.49,377.99 122.15,377.99 122.15,369.93 122.87,369.93 122.87,378.07 123.8,378.07 123.8,377.63 124.89,377.63 124.89,377.43 125.68,377.43 125.68,377.81 126.39,377.81 126.39,377.38 127.11,377.38 127.11,378.05 128.45,378.05 128.45,377.8 129.32,377.8 129.32,378.05 130.45,378.05 130.45,373.25 131.34,373.25 131.34,377.7 132.42,377.7 132.42,378.05 132.74,378.05 132.74,377.61 133.28,377.61 133.28,369.06 133.92,369.06 133.92,377.51 134.98,377.51 134.98,369.21 135.61,369.21 135.61,377.38 136.97,377.38 136.97,363.86 137.95,363.86 137.95,377.67 138.63,377.67 138.63,367.24 139.63,367.24 139.63,378.64 140.61,378.64 140.61,369.45 141,369.45 141,378.26 142.07,378.26 142.07,366.64 142.78,366.64 142.78,377.69 143.33,377.69 143.33,376.83 144.76,376.83 144.76,327.69 145.3,327.69 145.3,376.71 145.92,376.71 145.92,376.96 146.7,376.96 146.7,344.6 147,344.6 147,376.71 148.38,376.71 148.38,337.32 148.85,337.32 148.85,376.4 149.36,376.4 149.36,346.03 149.98,346.03 149.98,376.13 151.02,376.13 151.02,376.53 151.99,376.53 151.99,337.28 153.04,337.28 153.04,376.52 153.81,376.52 153.81,376.79 154.83,376.79 154.83,376.56 154.89,376.56 154.89,356.97 156.49,356.97 156.49,334.86 157.02,334.86 157.02,357.38 158.5,357.38 158.5,335.05 159.62,335.05 159.62,356.83 160.92,356.83 160.92,338.38 161.24,338.38 161.24,357.07 162.01,357.07 162.01,333.76 162.33,333.76 162.33,357.09 163.37,357.09 163.37,337.18 163.77,337.18 163.77,356.94 164.26,356.94 164.26,334.19 164.7,334.19 164.7,357.41 165.92,357.41 165.92,338.44 166.99,338.44 166.99,357.35 167.6,357.35 167.6,338.52 167.9,338.52 167.9,361.76 168.92,361.76 168.92,342.64 170.07,342.64 170.07,361.38 170.64,361.38 170.64,349.96 171.75,349.96 171.75,361.45 172.98,361.45 172.98,341.06 173.83,341.06 173.83,361.11 175.2,361.11 175.2,347.92 175.66,347.92 175.66,361.39 176.39,361.39 176.39,338.31 177.21,338.31 177.21,362.02 178.61,362.02 178.61,361.17 178.98,361.17 178.98,303.5 179.74,303.5 179.74,302.5 180.77,302.5 180.77,303.41 181.74,303.41 181.74,302.78 183.27,302.78 183.27,303.42 183.75,303.42 183.75,303.65 184.39,303.65 184.39,303.6 185.64,303.6 185.64,303.43 186.68,303.43 186.68,302.92 188.13,302.92 188.13,303.34 188.65,303.34 188.65,327.21 189.45,327.21 189.45,303.39 190.66,303.39 190.66,326.43 190.78,326.43 190.54,328.68 191.87,328.68 191.87,331.26 192.74,331.26 192.74,329.14 193.26,329.14 193.26,329.58 194.67,329.58 194.67,331.31 195.11,331.31 195.11,329.41 196.52,329.41 196.52,328.94 197.07,328.94 197.07,329.07 197.98,329.07 197.98,329.7 198.55,329.7 198.55,328.99 199.63,328.99 199.63,329.5 200.94,329.5 200.94,329.56 202.05,329.56 202.05,329.46 202.58,329.46 202.58,303.49 204.04,303.49 204.04,302.65 205.24,302.65 205.24,303.36 205.76,303.36 205.76,303.35 206.42,303.35 206.42,303.47 207.16,303.47 207.16,303.65 208.1,303.65 208.1,303.53 209.3,303.53 209.3,302.86 210.93,302.86 210.93,302.84 212.06,302.84 212.06,303.25 212.87,303.25 212.87,303.08 213.71,303.08 213.71,303.45 215.19,303.45 215.19,303.32 216.71,303.32 216.71,302.7 217.21,302.7 217.21,303.61 218.36,303.61 218.36,303.25 219.68,303.25 219.68,303.06 220.57,303.06 220.57,303.52 222.07,303.52 222.07,303.17 222.8,303.17 222.8,302.73 224.18,302.73 224.18,303.41 225.38,303.41 225.38,303.63 226.71,303.63 226.71,302.84 227.26,302.84 227.26,303.22 227.62,303.22 227.62,306.33 228.34,306.33 228.34,305.1 228.91,305.1 228.91,306.75 230.38,306.75 230.38,308.71 231.21,308.71 231.21,306.42 232.03,306.42 232.03,307.23 233.45,307.23 233.45,304.4 233.81,304.4 233.81,306.94 235.02,306.94 235.02,307 236.42,307 236.42,306.48 237.07,306.48 237.07,306.57 238.5,306.57 238.5,307.13 239.67,307.13 239.67,311.87 240.33,311.87 240.33,313.43 240.91,313.43 240.91,311.19 241.85,311.19 241.85,311.76 243.03,311.76 243.03,311.16 243.52,311.16 243.52,314.58 244.04,314.58 244.04,314.54 244.6,314.54 244.6,314.34 245.81,314.34 245.81,314.46 246.34,314.46 246.34,314.54 246.89,314.54 246.89,318.18 248.23,318.18 248.23,318.37 249.2,318.37 249.2,317.6 249.71,317.6 249.71,318 250.75,318 250.75,349.04 252.25,349.04 252.25,346.09 252.89,346.09 252.89,348.82 254.11,348.82 254.11,348.93 255.08,348.93 255.08,342.02 256.66,342.02 256.66,342.46 257.09,342.46 257.09,341.97 258.05,341.97 258.05,342.43 259.08,342.43 259.08,338.3 259.73,338.3 259.73,342.43 260.99,342.43 260.99,342.84 261.48,342.84 261.48,343.04 262.51,343.04 262.51,341.52 263.27,341.52 263.27,338.71 264.11,338.71 264.11,339.05 265.22,339.05 265.22,329.27 265.73,329.27 265.73,338.49 267.04,338.49 267.04,332.87 267.67,332.87 267.67,339.22 268.16,339.22 268.16,327.95 268.57,327.95 268.57,346.31 269.36,346.31 269.36,346.66 270.08,346.66 270.08,346.13 271.23,346.13 271.23,354.28 271.91,354.28 271.91,346.26 273,346.26 273,348.55 273.52,348.55 273.52,346.64 274.12,346.64 274.12,342.58 274.92,342.58 274.92,346.83 276.11,346.83 276.11,347.6 276.27,347.6 276.27,349.28 276.97,349.28 276.97,349.13 278,349.13 278,350.14 278.78,350.14 278.78,349.46 279.55,349.46 279.55,349.51 280.96,349.51 280.96,348.81 281.47,348.81 281.47,349.03 282.99,349.03 282.99,349.3 284.25,349.3 284.25,350.05 284.94,350.05 284.94,349.82 285.8,349.82 285.8,355.96 286.55,355.96 286.55,349.94 287.18,349.94 287.18,358.42 287.63,358.42 287.63,349.53 288.12,349.53 288.12,360.51 288.43,360.51 288.43,349.9 289.43,349.9 289.43,356.99 290.29,356.99 290.29,350 290.9,350 290.9,355.69 291.71,355.69 291.71,349.78 292.99,349.78 292.99,362.55 293.56,362.55 293.56,349.98 294.82,349.98 294.82,357.23 295.14,357.23 295.14,349.75 296.14,349.75 296.14,355.94 297.13,355.94 297.13,349.54 298.34,349.54 298.34,358.81 299.39,358.81 299.39,351.26 299.91,351.26 299.91,357.36 300.26,357.36 300.26,351.19 301.44,351.19 301.44,351.5 302.78,351.5 302.78,363.21 303.91,363.21 303.91,351.18 305.05,351.18 305.05,347.79 305.56,347.79 305.56,351.2 307.14,351.2 307.14,363.97 307.61,363.97 307.61,351.75 308.43,351.75 308.43,351.47 309.11,351.47 309.11,351.49 310.09,351.49 310.09,355.61 310.6,355.61 310.6,351.06 311.27,351.06 311.27,365.17 311.43,365.17 311.43,339.73 312.49,339.73 312.49,331.1 313.35,331.1 313.35,339.89 314.32,339.89 314.32,329.17 314.79,329.17 314.79,339.87 315.55,339.87 315.55,333.44 316.66,333.44 316.66,339.56 318.11,339.56 318.11,329.97 319.04,329.97 319.04,340.35 320.25,340.35 320.25,331.75 321.16,331.75 321.16,339.89 321.77,339.89 321.77,332.61 322.63,332.61 322.63,340.31 323.96,340.31 323.96,355.66 324.92,355.66 324.92,340.03 325.4,340.03 325.4,339.42 325.91,339.42 325.91,337.68 326.69,337.68 326.69,339.8 327.92,339.8 327.92,339.39 329.22,339.39 329.22,339.39 329.95,339.39 329.95,339.27 330.8,339.27 330.8,339.65 331.34,339.65 331.34,340.16 332.81,340.16 332.81,339.24 334.07,339.24 334.07,339.51 335.46,339.51 335.46,339.96 336,339.96" fill="none" stroke="#3c3c3c" stroke-width="0.6" stroke-linejoin="round" />
<circle cx="181.5" cy="303.27" r="1.3" fill="#fff" stroke="#777" stroke-width="0.7"/>
<circle cx="206" cy="303.27" r="1.3" fill="#fff" stroke="#ff5050" stroke-width="0.7"/>
<circle cx="113.1" cy="377.32" r="1.3" fill="#fff" stroke="#777" stroke-width="0.7"/>
<circle cx="99.5" cy="377.32" r="1.3" fill="#fff" stroke="#ff5050" stroke-width="0.7"/>
<circle cx="113.1" cy="410.7" r="1.3" fill="#fff" stroke="#777" stroke-width="0.7"/>
<circle cx="180" cy="410.7" r="1.3" fill="#fff" stroke="#777" stroke-width="0.7"/>
<circle cx="112.3" cy="450.5" r="1.3" fill="#fff" stroke="#ff50ff" stroke-width="0.7"/>
<circle cx="276.1" cy="332.8" r="1.3" fill="#fff" stroke="#40eeee" stroke-width="0.7"/>
<circle cx="260" cy="340.08" r="1.3" fill="#fff" stroke="#ff5050" stroke-width="0.7"/>
<circle cx="311" cy="429.96" r="1.3" fill="#fff" stroke="#777" stroke-width="0.7"/>
<circle cx="250" cy="434.24" r="1.3" fill="#fff" stroke="#ff5050" stroke-width="0.7"/>
<rect x="47" y="6.5" width="290.5" height="215.7" fill="none" stroke="#333" stroke-width="1.3"/>
<line x1="47" y1="6.5" x2="51.2" y2="6.5" stroke="#333" stroke-width="1.1"/>
<text x="42.8" y="10.1" text-anchor="end" class="tl">80</text>
<line x1="47" y1="42.45" x2="51.2" y2="42.45" stroke="#333" stroke-width="1.1"/>
<text x="42.8" y="46.05" text-anchor="end" class="tl">60</text>
<line x1="47" y1="78.4" x2="51.2" y2="78.4" stroke="#333" stroke-width="1.1"/>
<text x="42.8" y="82" text-anchor="end" class="tl">40</text>
<line x1="47" y1="114.35" x2="51.2" y2="114.35" stroke="#333" stroke-width="1.1"/>
<text x="42.8" y="117.95" text-anchor="end" class="tl">20</text>
<line x1="47" y1="150.3" x2="51.2" y2="150.3" stroke="#333" stroke-width="1.1"/>
<text x="42.8" y="153.9" text-anchor="end" class="tl">0</text>
<line x1="47" y1="186.25" x2="51.2" y2="186.25" stroke="#333" stroke-width="1.1"/>
<text x="42.8" y="189.85" text-anchor="end" class="tl">-20</text>
<line x1="47" y1="222.2" x2="51.2" y2="222.2" stroke="#333" stroke-width="1.1"/>
<text x="42.8" y="225.8" text-anchor="end" class="tl">-40</text>
<line x1="47" y1="24.48" x2="49.3" y2="24.48" stroke="#333" stroke-width="1"/>
<line x1="47" y1="60.42" x2="49.3" y2="60.42" stroke="#333" stroke-width="1"/>
<line x1="47" y1="96.38" x2="49.3" y2="96.38" stroke="#333" stroke-width="1"/>
<line x1="47" y1="132.32" x2="49.3" y2="132.32" stroke="#333" stroke-width="1"/>
<line x1="47" y1="168.28" x2="49.3" y2="168.28" stroke="#333" stroke-width="1"/>
<line x1="47" y1="204.22" x2="49.3" y2="204.22" stroke="#333" stroke-width="1"/>
<line x1="47" y1="222.2" x2="47" y2="218" stroke="#333" stroke-width="1.1"/>
<text x="47" y="235.2" text-anchor="middle" class="tl">0</text>
<line x1="95.42" y1="222.2" x2="95.42" y2="218" stroke="#333" stroke-width="1.1"/>
<text x="95.42" y="235.2" text-anchor="middle" class="tl">1</text>
<line x1="143.83" y1="222.2" x2="143.83" y2="218" stroke="#333" stroke-width="1.1"/>
<text x="143.83" y="235.2" text-anchor="middle" class="tl">2</text>
<line x1="192.25" y1="222.2" x2="192.25" y2="218" stroke="#333" stroke-width="1.1"/>
<text x="192.25" y="235.2" text-anchor="middle" class="tl">3</text>
<line x1="240.67" y1="222.2" x2="240.67" y2="218" stroke="#333" stroke-width="1.1"/>
<text x="240.67" y="235.2" text-anchor="middle" class="tl">4</text>
<line x1="289.08" y1="222.2" x2="289.08" y2="218" stroke="#333" stroke-width="1.1"/>
<text x="289.08" y="235.2" text-anchor="middle" class="tl">5</text>
<line x1="337.5" y1="222.2" x2="337.5" y2="218" stroke="#333" stroke-width="1.1"/>
<text x="337.5" y="235.2" text-anchor="middle" class="tl">6</text>
<line x1="71.21" y1="222.2" x2="71.21" y2="219.9" stroke="#333" stroke-width="1"/>
<line x1="119.62" y1="222.2" x2="119.62" y2="219.9" stroke="#333" stroke-width="1"/>
<line x1="168.04" y1="222.2" x2="168.04" y2="219.9" stroke="#333" stroke-width="1"/>
<line x1="216.46" y1="222.2" x2="216.46" y2="219.9" stroke="#333" stroke-width="1"/>
<line x1="264.88" y1="222.2" x2="264.88" y2="219.9" stroke="#333" stroke-width="1"/>
<line x1="313.29" y1="222.2" x2="313.29" y2="219.9" stroke="#333" stroke-width="1"/>
<text x="192.5" y="253" text-anchor="middle" class="xl">Time(h)</text>
<text x="171.3" y="272.5" text-anchor="middle" class="pl">(a)</text>
<text transform="translate(10.8,121.55) rotate(-90)" text-anchor="middle" class="yl">Power(kW)</text>
<rect x="47" y="282.3" width="289" height="214" fill="none" stroke="#333" stroke-width="1.3"/>
<line x1="47" y1="282.3" x2="51.2" y2="282.3" stroke="#333" stroke-width="1.1"/>
<text x="42.8" y="285.9" text-anchor="end" class="tl">60</text>
<line x1="47" y1="325.1" x2="51.2" y2="325.1" stroke="#333" stroke-width="1.1"/>
<text x="42.8" y="328.7" text-anchor="end" class="tl">40</text>
<line x1="47" y1="367.9" x2="51.2" y2="367.9" stroke="#333" stroke-width="1.1"/>
<text x="42.8" y="371.5" text-anchor="end" class="tl">20</text>
<line x1="47" y1="410.7" x2="51.2" y2="410.7" stroke="#333" stroke-width="1.1"/>
<text x="42.8" y="414.3" text-anchor="end" class="tl">0</text>
<line x1="47" y1="453.5" x2="51.2" y2="453.5" stroke="#333" stroke-width="1.1"/>
<text x="42.8" y="457.1" text-anchor="end" class="tl">-20</text>
<line x1="47" y1="496.3" x2="51.2" y2="496.3" stroke="#333" stroke-width="1.1"/>
<text x="42.8" y="499.9" text-anchor="end" class="tl">-40</text>
<line x1="47" y1="303.7" x2="49.3" y2="303.7" stroke="#333" stroke-width="1"/>
<line x1="47" y1="346.5" x2="49.3" y2="346.5" stroke="#333" stroke-width="1"/>
<line x1="47" y1="389.3" x2="49.3" y2="389.3" stroke="#333" stroke-width="1"/>
<line x1="47" y1="432.1" x2="49.3" y2="432.1" stroke="#333" stroke-width="1"/>
<line x1="47" y1="474.9" x2="49.3" y2="474.9" stroke="#333" stroke-width="1"/>
<line x1="47" y1="496.3" x2="47" y2="492.1" stroke="#333" stroke-width="1.1"/>
<text x="47" y="509.3" text-anchor="middle" class="tl">12</text>
<line x1="95.17" y1="496.3" x2="95.17" y2="492.1" stroke="#333" stroke-width="1.1"/>
<text x="95.17" y="509.3" text-anchor="middle" class="tl">13</text>
<line x1="143.33" y1="496.3" x2="143.33" y2="492.1" stroke="#333" stroke-width="1.1"/>
<text x="143.33" y="509.3" text-anchor="middle" class="tl">14</text>
<line x1="191.5" y1="496.3" x2="191.5" y2="492.1" stroke="#333" stroke-width="1.1"/>
<text x="191.5" y="509.3" text-anchor="middle" class="tl">15</text>
<line x1="239.67" y1="496.3" x2="239.67" y2="492.1" stroke="#333" stroke-width="1.1"/>
<text x="239.67" y="509.3" text-anchor="middle" class="tl">16</text>
<line x1="287.83" y1="496.3" x2="287.83" y2="492.1" stroke="#333" stroke-width="1.1"/>
<text x="287.83" y="509.3" text-anchor="middle" class="tl">17</text>
<line x1="336" y1="496.3" x2="336" y2="492.1" stroke="#333" stroke-width="1.1"/>
<text x="336" y="509.3" text-anchor="middle" class="tl">18</text>
<line x1="71.08" y1="496.3" x2="71.08" y2="494" stroke="#333" stroke-width="1"/>
<line x1="119.25" y1="496.3" x2="119.25" y2="494" stroke="#333" stroke-width="1"/>
<line x1="167.42" y1="496.3" x2="167.42" y2="494" stroke="#333" stroke-width="1"/>
<line x1="215.58" y1="496.3" x2="215.58" y2="494" stroke="#333" stroke-width="1"/>
<line x1="263.75" y1="496.3" x2="263.75" y2="494" stroke="#333" stroke-width="1"/>
<line x1="311.92" y1="496.3" x2="311.92" y2="494" stroke="#333" stroke-width="1"/>
<text x="192.5" y="527" text-anchor="middle" class="xl">Time(h)</text>
<text x="171.3" y="546" text-anchor="middle" class="pl">(b)</text>
<text transform="translate(10.8,396.5) rotate(-90)" text-anchor="middle" class="yl">Power(kW)</text>
<line x1="51.4" y1="18.8" x2="77.1" y2="18.8" stroke="#8a8a8a" stroke-width="1"/>
<circle cx="64.25" cy="18.8" r="1.3" fill="#fff" stroke="#8a8a8a" stroke-width="0.8"/>
<text x="78.7" y="21.9" class="lg">P<tspan class="sb" dy="2.2">bu</tspan><tspan dy="-2.2"> in RTCC</tspan></text>
<line x1="121.4" y1="18.8" x2="145.9" y2="18.8" stroke="#8a8a8a" stroke-width="1"/>
<circle cx="133.65" cy="18.8" r="1.3" fill="#fff" stroke="#8a8a8a" stroke-width="0.8"/>
<text x="148.1" y="21.9" class="lg">P<tspan class="sb" dy="2.2">dc1</tspan><tspan dy="-2.2"> in RTCC</tspan></text>
<line x1="193.1" y1="18.8" x2="217.1" y2="18.8" stroke="#8a8a8a" stroke-width="1"/>
<circle cx="205.1" cy="18.8" r="1.3" fill="#fff" stroke="#8a8a8a" stroke-width="0.8"/>
<text x="219.5" y="21.9" class="lg">P<tspan class="sb" dy="2.2">dc2</tspan><tspan dy="-2.2"> in RTCC</tspan></text>
<line x1="268.1" y1="18.8" x2="293" y2="18.8" stroke="#c8c8c8" stroke-width="0.8"/>
<text x="296" y="21.9" class="lg">P<tspan class="sb" dy="2.2">ac</tspan><tspan dy="-2.2"> in RTCC</tspan></text>
<line x1="51.9" y1="29.8" x2="77.6" y2="29.8" stroke="#ff6e6e" stroke-width="1"/>
<circle cx="64.75" cy="29.8" r="1.3" fill="#fff" stroke="#ff6e6e" stroke-width="0.8"/>
<text x="80.3" y="32.9" class="lg">P<tspan class="sb" dy="2.2">bu</tspan><tspan dy="-2.2"> in QRTC</tspan></text>
<line x1="123.6" y1="29.8" x2="147.6" y2="29.8" stroke="#ff6e6e" stroke-width="1"/>
<circle cx="135.6" cy="29.8" r="1.3" fill="#fff" stroke="#ff6e6e" stroke-width="0.8"/>
<text x="150.6" y="32.9" class="lg">P<tspan class="sb" dy="2.2">dc1</tspan><tspan dy="-2.2"> in QRTC</tspan></text>
<line x1="196.6" y1="29.8" x2="222" y2="29.8" stroke="#ff6e6e" stroke-width="1"/>
<circle cx="209.3" cy="29.8" r="1.3" fill="#fff" stroke="#ff6e6e" stroke-width="0.8"/>
<text x="224.2" y="32.9" class="lg">P<tspan class="sb" dy="2.2">dc2</tspan><tspan dy="-2.2"> in QRTC</tspan></text>
<line x1="52.6" y1="41.3" x2="78.5" y2="41.3" stroke="#ff55ff" stroke-width="1"/>
<circle cx="65.55" cy="41.3" r="1.3" fill="#fff" stroke="#ff55ff" stroke-width="0.8"/>
<text x="80.8" y="44.4" class="lg">P<tspan class="sb" dy="2.2">bu</tspan><tspan dy="-2.2"> in IDR</tspan></text>
<line x1="116.1" y1="41.3" x2="141.6" y2="41.3" stroke="#ff55ff" stroke-width="1"/>
<circle cx="128.85" cy="41.3" r="1.3" fill="#fff" stroke="#ff55ff" stroke-width="0.8"/>
<text x="143.7" y="44.4" class="lg">P<tspan class="sb" dy="2.2">dc1</tspan><tspan dy="-2.2"> in IDR</tspan></text>
<line x1="180.5" y1="41.3" x2="205.9" y2="41.3" stroke="#ff55ff" stroke-width="1"/>
<circle cx="193.2" cy="41.3" r="1.3" fill="#fff" stroke="#ff55ff" stroke-width="0.8"/>
<text x="208.1" y="44.4" class="lg">P<tspan class="sb" dy="2.2">dc2</tspan><tspan dy="-2.2"> in IDR</tspan></text>
<line x1="52.2" y1="52.4" x2="78.3" y2="52.4" stroke="#55f0f0" stroke-width="1"/>
<circle cx="65.25" cy="52.4" r="1.3" fill="#fff" stroke="#55f0f0" stroke-width="0.8"/>
<text x="80.0" y="55.5" class="lg">P<tspan class="sb" dy="2.2">bu</tspan><tspan dy="-2.2"> in DAO</tspan></text>
<line x1="118.4" y1="52.4" x2="143.7" y2="52.4" stroke="#55f0f0" stroke-width="1"/>
<circle cx="131.05" cy="52.4" r="1.3" fill="#fff" stroke="#55f0f0" stroke-width="0.8"/>
<text x="145.8" y="55.5" class="lg">P<tspan class="sb" dy="2.2">dc1</tspan><tspan dy="-2.2"> in DAO</tspan></text>
<line x1="185.4" y1="52.4" x2="212" y2="52.4" stroke="#55f0f0" stroke-width="1"/>
<circle cx="198.7" cy="52.4" r="1.3" fill="#fff" stroke="#55f0f0" stroke-width="0.8"/>
<text x="214.1" y="55.5" class="lg">P<tspan class="sb" dy="2.2">dc2</tspan><tspan dy="-2.2"> in DAO</tspan></text>
</svg>
</body></html>
